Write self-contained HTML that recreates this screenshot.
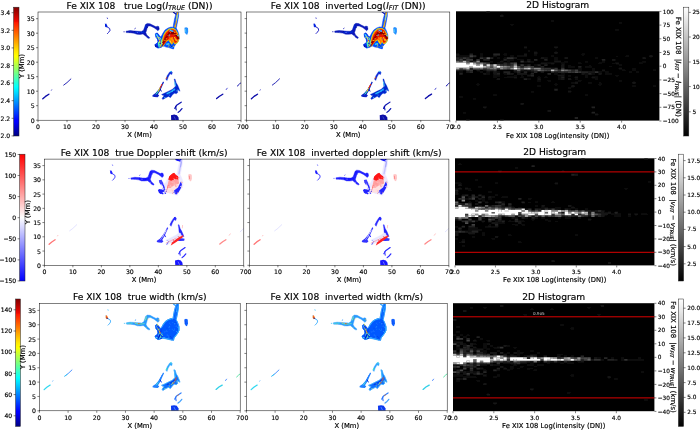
<!DOCTYPE html>
<html lang="en"><head><meta charset="utf-8"><title>Fe XIX 108 inversion comparison</title>
<style>html,body{margin:0;padding:0;background:#fff;overflow:hidden}svg{display:block}text{font-family:"DejaVu Sans", "Liberation Sans", sans-serif;white-space:pre;stroke:#000;stroke-width:0.16px}</style>
</head><body>
<svg width="700" height="430" viewBox="0 0 700 430">
<defs>
<linearGradient id="jet" x1="0" y1="1" x2="0" y2="0">
<stop offset="0" stop-color="#000080"/>
<stop offset="0.11" stop-color="#0000ff"/>
<stop offset="0.12" stop-color="#0000ff"/>
<stop offset="0.34" stop-color="#00ddff"/>
<stop offset="0.38" stop-color="#00ffff"/>
<stop offset="0.5" stop-color="#7dff7a"/>
<stop offset="0.62" stop-color="#ffff00"/>
<stop offset="0.66" stop-color="#ffe600"/>
<stop offset="0.88" stop-color="#ff1a00"/>
<stop offset="0.89" stop-color="#f10800"/>
<stop offset="1" stop-color="#800000"/>
</linearGradient>
<linearGradient id="bwr" x1="0" y1="1" x2="0" y2="0">
<stop offset="0" stop-color="#0000ff"/>
<stop offset="0.5" stop-color="#ffffff"/>
<stop offset="1" stop-color="#ff0000"/>
</linearGradient>
<linearGradient id="gray" x1="0" y1="1" x2="0" y2="0">
<stop offset="0" stop-color="#000000"/>
<stop offset="1" stop-color="#ffffff"/>
</linearGradient>
<filter id="hsoft" x="-2%" y="-2%" width="104%" height="104%"><feGaussianBlur stdDeviation="0.35"/></filter>
<filter id="soft" x="-5%" y="-5%" width="110%" height="110%"><feGaussianBlur stdDeviation="0.32"/></filter>
</defs>
<rect width="700" height="430" fill="#fff"/>
<g id="row1">
<rect x="13.6" y="7.2" width="5.4" height="128.8" fill="url(#jet)" stroke="#222" stroke-width="0.5"/>
<line x1="11.6" y1="12.7" x2="13.6" y2="12.7" stroke="#000" stroke-width="0.5"/>
<text x="10.2" y="14.9" font-size="6.05" text-anchor="end" fill="#000">3.4</text>
<line x1="11.6" y1="30.3" x2="13.6" y2="30.3" stroke="#000" stroke-width="0.5"/>
<text x="10.2" y="32.5" font-size="6.05" text-anchor="end" fill="#000">3.2</text>
<line x1="11.6" y1="47.9" x2="13.6" y2="47.9" stroke="#000" stroke-width="0.5"/>
<text x="10.2" y="50.1" font-size="6.05" text-anchor="end" fill="#000">3.0</text>
<line x1="11.6" y1="65.5" x2="13.6" y2="65.5" stroke="#000" stroke-width="0.5"/>
<text x="10.2" y="67.7" font-size="6.05" text-anchor="end" fill="#000">2.8</text>
<line x1="11.6" y1="83.1" x2="13.6" y2="83.1" stroke="#000" stroke-width="0.5"/>
<text x="10.2" y="85.3" font-size="6.05" text-anchor="end" fill="#000">2.6</text>
<line x1="11.6" y1="100.7" x2="13.6" y2="100.7" stroke="#000" stroke-width="0.5"/>
<text x="10.2" y="102.9" font-size="6.05" text-anchor="end" fill="#000">2.4</text>
<line x1="11.6" y1="118.3" x2="13.6" y2="118.3" stroke="#000" stroke-width="0.5"/>
<text x="10.2" y="120.5" font-size="6.05" text-anchor="end" fill="#000">2.2</text>
<line x1="11.6" y1="135.9" x2="13.6" y2="135.9" stroke="#000" stroke-width="0.5"/>
<text x="10.2" y="138.1" font-size="6.05" text-anchor="end" fill="#000">2.0</text>
<rect x="38" y="12" width="203" height="108.2" fill="#fff"/>
<svg x="38" y="12" width="203" height="108.2" viewBox="38 12 203 108.2" overflow="hidden">
<g filter="url(#soft)">
<polyline points="42.8,98.8 45.5,96.4 48.9,94.2" fill="none" stroke="#0808a8" stroke-width="1.3" stroke-linecap="round" stroke-linejoin="round"/>
<polyline points="51.4,90.3 51.7,89.8" fill="none" stroke="#3030c0" stroke-width="0.8" stroke-linecap="round" stroke-linejoin="round"/>
<polyline points="63.7,85.1 67,82.6 70.9,78.9" fill="none" stroke="#0808a8" stroke-width="0.85" stroke-linecap="round" stroke-linejoin="round"/>
<polyline points="105.4,24.2 106.6,26.6 109.6,28.4 110,30.4 108.6,32.4 107.4,33.6" fill="none" stroke="#1010c0" stroke-width="0.9" stroke-linecap="round" stroke-linejoin="round"/>
<polygon points="105,24 106.2,23.6 107.6,26.6 106.2,27.6 105,26.4" fill="#0020e0"/>
<polyline points="107.3,18 107.5,18.6" fill="none" stroke="#2020c0" stroke-width="0.8" stroke-linecap="round" stroke-linejoin="round"/>
<polyline points="216.6,98.6 219.5,96.2 222.8,94.2" fill="none" stroke="#0808a8" stroke-width="1.3" stroke-linecap="round" stroke-linejoin="round"/>
<polyline points="226.2,89.6 227.2,88.2" fill="none" stroke="#4040d0" stroke-width="0.9" stroke-linecap="round" stroke-linejoin="round"/>
<polyline points="237.4,86 239.4,84.2 241,82.6" fill="none" stroke="#0808a8" stroke-width="0.95" stroke-linecap="round" stroke-linejoin="round"/>
<polygon points="126,31.2 130,30.6 134,30.9 138,31.3 141.5,31.4 143.5,30.2 144.5,27.5 145.5,24.5 147.2,23.4 150,23.7 153,25.3 156,26.8 157.2,26.2 158.8,26.6 159.2,29.5 157.8,30.8 156.5,29.6 154,27.7 150.5,26 148.4,26 147.2,28 146.4,31 145.8,32.6 146.8,35 149.7,37.6 149.1,38.6 147,37.6 144.6,35.2 143,34 140,34.4 137,34.3 134,33.2 130,32.7 126.2,32.6" fill="#0818b8" stroke="#0818b8" stroke-width="0.4" stroke-linejoin="round"/>
<polyline points="123.8,31.8 124.4,31.8" fill="none" stroke="#3030c0" stroke-width="0.8" stroke-linecap="round" stroke-linejoin="round"/>
<polyline points="134.8,28.7 135.4,28.3" fill="none" stroke="#3030c0" stroke-width="0.9" stroke-linecap="round" stroke-linejoin="round"/>
<polyline points="135,32 140,32.6 144,32" fill="none" stroke="#0030e8" stroke-width="0.9" stroke-linecap="round" stroke-linejoin="round"/>
<polyline points="145,28.5 146.2,25.2" fill="none" stroke="#0028e0" stroke-width="0.9" stroke-linecap="round" stroke-linejoin="round"/>
<polygon points="176.5,12.5 178.6,12.5 178.6,16 177.7,21 176.7,26 176.2,28 177.7,31 179.1,35 179.1,39 177.6,42 175.6,44.5 174.1,46.5 173.6,49 171.5,48.5 169,47.6 166,47.1 164,46.1 162,46.6 160,47.6 158,48.1 155.5,46.6 155,44.6 156.5,43.6 158,42.1 157.5,39.1 156,37.1 155.5,34.1 157,33.1 158.5,35.1 160,37.1 161.5,36.1 163,33.1 165,30.1 168,28.1 171,27 173,27.4 173.6,24 174.5,19 175.6,15" fill="#0048ff" stroke="#0048ff" stroke-width="0.5" stroke-linejoin="round"/>
<polyline points="173.5,12.2 174.8,13.2 176.2,14.2" fill="none" stroke="#0010c0" stroke-width="1.2" stroke-linecap="round" stroke-linejoin="round"/>
<polygon points="160.42,46.47 161.91,39.58 163.4,34.74 165.26,31.4 168.79,28.42 173.44,28.05 176.05,29.72 177.91,33.07 179.4,36.98 179.02,41.07 177.16,43.49 174.74,44.42 173.26,42.19 171.95,44.98 169.91,43.12 168.6,40.33 166.37,42.19 164.14,45.35 162.09,47.02" fill="#c8e820"/>
<polygon points="161.16,45.72 162.65,39.77 164.05,35.12 165.91,31.95 169.16,29.16 173.26,28.7 175.58,30.09 177.44,33.35 178.93,37.07 178.56,40.7 176.88,42.93 174.74,43.77 173.35,41.44 171.95,44.23 170.09,42.47 168.7,39.67 166.37,41.53 164.05,44.79 162.19,46.37" fill="#ff7800"/>
<polygon points="161.91,44.98 163.4,39.95 164.7,35.49 166.56,32.51 169.35,29.91 173.07,29.44 175.12,30.65 176.79,33.63 178.19,37.16 177.91,40.33 176.42,42.19 174.93,42.74 173.63,40.33 172.33,37.91 170.65,37.53 168.98,38.84 166.74,40.7 164.51,44.05 162.65,45.72" fill="#e81400"/>
<polyline points="169.07,33.35 173.26,33.07 176.51,35.12 178.28,38.28" fill="none" stroke="#840000" stroke-width="2" stroke-linecap="round" stroke-linejoin="round"/>
<polyline points="162.09,44.79 164.88,39.77 167.86,34.93 169.91,33.26" fill="none" stroke="#980000" stroke-width="2" stroke-linecap="round" stroke-linejoin="round"/>
<polyline points="170.09,30.09 172.7,31.4" fill="none" stroke="#40c8ff" stroke-width="1.3" stroke-linecap="round" stroke-linejoin="round"/>
<polyline points="172.14,30.65 172.88,31.02" fill="none" stroke="#0050ff" stroke-width="1" stroke-linecap="round" stroke-linejoin="round"/>
<polyline points="171.58,38.37 173.44,41.44" fill="none" stroke="#ff9800" stroke-width="1.6" stroke-linecap="round" stroke-linejoin="round"/>
<polyline points="174.93,37.91 176.23,40.7" fill="none" stroke="#ffb000" stroke-width="1.2" stroke-linecap="round" stroke-linejoin="round"/>
<polyline points="170,40.7 171.21,43.12" fill="none" stroke="#ffe820" stroke-width="1" stroke-linecap="round" stroke-linejoin="round"/>
<polygon points="155.2,33.8 157.2,32.8 159,34.8 160.4,37.2 161.8,38 162,46.6 160,47.6 158,48.1 155.5,46.6 155,44.6 156.6,43.6 158,42 157.4,39.2 155.8,37.2" fill="#0838f0" stroke="#0838f0" stroke-width="0.3" stroke-linejoin="round"/>
<polyline points="156.8,34.8 158.8,38 159.8,41 159.2,45" fill="none" stroke="#38c8ff" stroke-width="1.3" stroke-linecap="round" stroke-linejoin="round"/>
<polyline points="157.5,36.5 159.2,39.5 160.2,42.5" fill="none" stroke="#ffe040" stroke-width="0.8" stroke-linecap="round" stroke-linejoin="round"/>
<polyline points="159.6,40.2 160,41" fill="none" stroke="#ff3000" stroke-width="0.8" stroke-linecap="round" stroke-linejoin="round"/>
<polyline points="156,46 158.5,47.2" fill="none" stroke="#0020d0" stroke-width="1.4" stroke-linecap="round" stroke-linejoin="round"/>
<polyline points="160,44 161.2,46.5" fill="none" stroke="#ffd000" stroke-width="1" stroke-linecap="round" stroke-linejoin="round"/>
<polyline points="155.2,45 155.8,46.8" fill="none" stroke="#0010a0" stroke-width="0.9" stroke-linecap="round" stroke-linejoin="round"/>
<polyline points="158.4,43 159.2,47.2" fill="none" stroke="#40ffc0" stroke-width="1.1" stroke-linecap="round" stroke-linejoin="round"/>
<polyline points="160.4,38 161.6,41 161.4,45.2" fill="none" stroke="#60f0a0" stroke-width="1" stroke-linecap="round" stroke-linejoin="round"/>
<polyline points="156.2,34.2 157,36" fill="none" stroke="#30d0ff" stroke-width="1" stroke-linecap="round" stroke-linejoin="round"/>
<polygon points="163.95,45.91 166.37,42.37 168.6,40.88 170,43.12 171.95,45.16 173.81,44.6 174.37,45.91 173.26,49.07 170.47,47.3 167.67,46.84 164.88,45.26" fill="#0050ff"/>
<polyline points="166.74,44.6 168.79,43.67" fill="none" stroke="#30c8ff" stroke-width="1.3" stroke-linecap="round" stroke-linejoin="round"/>
<polyline points="170.65,46.47 172.33,47.4" fill="none" stroke="#20a0ff" stroke-width="1" stroke-linecap="round" stroke-linejoin="round"/>
<polyline points="175,27 176,22 177,17 177.6,13" fill="none" stroke="#ffb000" stroke-width="1.5" stroke-linecap="round" stroke-linejoin="round"/>
<polyline points="176.6,20 177.4,15" fill="none" stroke="#60e0ff" stroke-width="0.9" stroke-linecap="round" stroke-linejoin="round"/>
<polyline points="174.8,25 175.6,20" fill="none" stroke="#2060ff" stroke-width="0.8" stroke-linecap="round" stroke-linejoin="round"/>
<polygon points="184.5,27.8 186.2,27.2 188,28 188.2,32 187.2,34.8 186,34.2 184.8,32.5" fill="#2890ff"/>
<polyline points="185.5,29.5 185.8,32" fill="none" stroke="#50e0ff" stroke-width="0.7" stroke-linecap="round" stroke-linejoin="round"/>
<polygon points="152.54,95.22 155.61,93.05 158.81,89.21 161.37,84.72 163.03,81.52 164.06,82.16 162.27,86.01 160.35,90.49 157.91,94.33 159.19,95.61 157.66,97.27 154.33,97.02 152.41,96.38" fill="#0820c8"/>
<polyline points="156.25,94.07 158.43,91.13" fill="none" stroke="#40ffb0" stroke-width="1" stroke-linecap="round" stroke-linejoin="round"/>
<polyline points="158.43,91.13 159.96,88.18" fill="none" stroke="#ffe000" stroke-width="1" stroke-linecap="round" stroke-linejoin="round"/>
<polyline points="160.22,87.67 162.01,84.34" fill="none" stroke="#ff3000" stroke-width="1" stroke-linecap="round" stroke-linejoin="round"/>
<polyline points="160.22,89.21 161.24,91.13" fill="none" stroke="#0010b0" stroke-width="1" stroke-linecap="round" stroke-linejoin="round"/>
<polygon points="165.85,79.22 167.13,75.76 169.69,71.92 171.23,71.02 172.38,72.56 171.74,74.61 170.08,73.84 168.28,77.04 167,80.5" fill="#0828d8" stroke="#0828d8" stroke-width="0.35" stroke-linejoin="round"/>
<polyline points="170.46,71.54 171.23,71.79" fill="none" stroke="#40e0ff" stroke-width="1" stroke-linecap="round" stroke-linejoin="round"/>
<polyline points="166.24,78.45 166.75,77.43" fill="none" stroke="#ff5000" stroke-width="0.8" stroke-linecap="round" stroke-linejoin="round"/>
<polygon points="174.17,78.96 175.07,78.96 176.22,82.8 177.76,85.36 179.42,89.21 180.06,91.25 178.78,90.61 177.5,89.33 177.76,92.54 176.22,93.82 174.3,93.18 172.38,95.1 170.46,97.66 168.54,96.38 165.98,97.66 162.78,99.58 162.01,98.3 164.06,95.74 161.5,94.46 164.7,93.05 168.54,91.13 172.38,89.21 175.07,86.77 174.81,82.8" fill="#0628d0" stroke="#0628d0" stroke-width="0.3" stroke-linejoin="round"/>
<polyline points="167.13,93.69 170.97,91.77 174.56,89.21" fill="none" stroke="#20b8ff" stroke-width="1.3" stroke-linecap="round" stroke-linejoin="round"/>
<polyline points="174.81,82.16 175.58,86.01" fill="none" stroke="#40e8ff" stroke-width="0.8" stroke-linecap="round" stroke-linejoin="round"/>
<polyline points="174.81,108.41 176.61,105.34 181.22,102.14" fill="none" stroke="#0810b0" stroke-width="1.2" stroke-linecap="round" stroke-linejoin="round"/>
<polyline points="175.58,106.36 176.22,109.95" fill="none" stroke="#0810b0" stroke-width="1.1" stroke-linecap="round" stroke-linejoin="round"/>
<polyline points="178.14,112.38 180.19,110.72 181.98,108.54" fill="none" stroke="#0810b0" stroke-width="1.2" stroke-linecap="round" stroke-linejoin="round"/>
<polygon points="170.97,115.2 174.17,114.56 176.86,115.2 178.53,117.5 178.78,120.19 171.23,120.19" fill="#0810a8"/>
<polyline points="174.17,116.73 175.45,119.3" fill="none" stroke="#4050d0" stroke-width="0.8" stroke-linecap="round" stroke-linejoin="round"/>
<polygon points="172.5,30.62 173.28,30.62 173.28,31.51 172.5,31.51" fill="#50d8ff"/>
<polygon points="165.82,38.41 167.07,38.41 167.07,39.1 165.82,39.1" fill="#ffb000"/>
<polygon points="165.54,39.66 166.62,39.66 166.62,40.46 165.54,40.46" fill="#ffb000"/>
<polygon points="175.88,34.16 176.94,34.16 176.94,35.04 175.88,35.04" fill="#ffe020"/>
<polygon points="173.5,38.63 174.35,38.63 174.35,39.57 173.5,39.57" fill="#50d8ff"/>
<polygon points="168.87,34.56 170.17,34.56 170.17,35.35 168.87,35.35" fill="#50d8ff"/>
<polygon points="174.6,30.77 175.65,30.77 175.65,31.8 174.6,31.8" fill="#a00000"/>
<polygon points="173.78,34.13 174.58,34.13 174.58,34.95 173.78,34.95" fill="#ffb000"/>
<polygon points="174.23,31.92 175.22,31.92 175.22,32.98 174.23,32.98" fill="#ff6000"/>
<polygon points="167.44,35.14 168.53,35.14 168.53,35.98 167.44,35.98" fill="#ff6000"/>
<polygon points="175.29,34.07 176.57,34.07 176.57,34.86 175.29,34.86" fill="#ff6000"/>
<polygon points="177.22,35.23 178.01,35.23 178.01,35.89 177.22,35.89" fill="#50d8ff"/>
<polygon points="174.41,31.55 175.38,31.55 175.38,32.59 174.41,32.59" fill="#ffe020"/>
<polygon points="169.99,32.15 171.06,32.15 171.06,33.18 169.99,33.18" fill="#ff6000"/>
<polygon points="166.44,36.2 167.59,36.2 167.59,37 166.44,37" fill="#a00000"/>
<polygon points="164.37,40.16 165.4,40.16 165.4,41.06 164.37,41.06" fill="#ffb000"/>
<polygon points="168.73,35.45 169.65,35.45 169.65,36.14 168.73,36.14" fill="#50d8ff"/>
<polygon points="177.4,40.52 178.37,40.52 178.37,41.33 177.4,41.33" fill="#50d8ff"/>
<polygon points="163.59,39.77 164.43,39.77 164.43,40.84 163.59,40.84" fill="#ffb000"/>
<polygon points="169.08,31.23 169.83,31.23 169.83,31.86 169.08,31.86" fill="#50d8ff"/>
<polygon points="176.14,39.44 177.26,39.44 177.26,40.5 176.14,40.5" fill="#ffe020"/>
<polygon points="171.71,37.16 172.97,37.16 172.97,38.24 171.71,38.24" fill="#ffb000"/>
<polygon points="169.49,37.32 170.3,37.32 170.3,38.29 169.49,38.29" fill="#ffb000"/>
<polygon points="173.96,37.23 175,37.23 175,37.96 173.96,37.96" fill="#ffe020"/>
<polygon points="177.4,35.33 178.7,35.33 178.7,36.3 177.4,36.3" fill="#50d8ff"/>
<polygon points="166.76,39.91 167.92,39.91 167.92,40.66 166.76,40.66" fill="#ffb000"/>
<polygon points="168.67,45.47 169.67,45.47 169.67,46.48 168.67,46.48" fill="#ffd000"/>
<polygon points="168.91,45.91 169.69,45.91 169.69,46.68 168.91,46.68" fill="#0020c0"/>
<polygon points="170.77,45.92 171.88,45.92 171.88,46.93 170.77,46.93" fill="#0020c0"/>
<polygon points="173.12,45.79 174.04,45.79 174.04,46.69 173.12,46.69" fill="#ffd000"/>
<polygon points="168.19,45.4 169.36,45.4 169.36,46.17 168.19,46.17" fill="#30c8ff"/>
<polygon points="166.35,43.25 167.42,43.25 167.42,43.93 166.35,43.93" fill="#30c8ff"/>
<polygon points="167.87,46.69 168.63,46.69 168.63,47.6 167.87,47.6" fill="#ffd000"/>
<polygon points="169.78,44.55 171.12,44.55 171.12,45.52 169.78,45.52" fill="#0020c0"/>
<polygon points="168.32,44.03 169.31,44.03 169.31,44.75 168.32,44.75" fill="#ffd000"/>
<polygon points="167.38,43.31 168.15,43.31 168.15,44.03 167.38,44.03" fill="#30c8ff"/>
<polygon points="159.79,45.79 160.92,45.79 160.92,46.72 159.79,46.72" fill="#ffe040"/>
<polygon points="161.08,42.61 161.89,42.61 161.89,43.48 161.08,43.48" fill="#ffe040"/>
<polygon points="156.5,37.31 157.3,37.31 157.3,38.25 156.5,38.25" fill="#80ff80"/>
<polygon points="160.56,46.39 161.8,46.39 161.8,47.36 160.56,47.36" fill="#0018b0"/>
<polygon points="161.65,44.94 162.59,44.94 162.59,45.68 161.65,45.68" fill="#0018b0"/>
<polygon points="161.29,41.21 162.43,41.21 162.43,42.24 161.29,42.24" fill="#80ff80"/>
<polygon points="159.47,42.83 160.71,42.83 160.71,43.81 159.47,43.81" fill="#0018b0"/>
<polygon points="161.9,43.37 162.9,43.37 162.9,44.33 161.9,44.33" fill="#ffe040"/>
<polygon points="158.75,37.29 159.8,37.29 159.8,38.03 158.75,38.03" fill="#ffe040"/>
<polygon points="158.22,42.06 159.5,42.06 159.5,42.95 158.22,42.95" fill="#80ff80"/>
<polygon points="158.85,41.45 160.01,41.45 160.01,42.14 158.85,42.14" fill="#ffe040"/>
<polygon points="158.01,42.43 158.98,42.43 158.98,43.38 158.01,43.38" fill="#80ff80"/>
<polygon points="157.89,27.8 158.5,27.8 158.5,28.3 157.89,28.3" fill="#000890"/>
<polygon points="134.38,31.02 135.25,31.02 135.25,31.75 134.38,31.75" fill="#000890"/>
<polygon points="150.05,25.49 150.67,25.49 150.67,26.26 150.05,26.26" fill="#2040e0"/>
<polygon points="140.37,32.09 140.95,32.09 140.95,32.75 140.37,32.75" fill="#000890"/>
<polygon points="129.12,32.14 129.85,32.14 129.85,32.65 129.12,32.65" fill="#000890"/>
<polygon points="130.59,30.77 131.24,30.77 131.24,31.61 130.59,31.61" fill="#1030d0"/>
<polygon points="158.31,28.04 159.27,28.04 159.27,28.55 158.31,28.55" fill="#000890"/>
<polygon points="147.13,27.07 147.97,27.07 147.97,27.84 147.13,27.84" fill="#000890"/>
<polygon points="145.47,35.93 146.3,35.93 146.3,36.6 145.47,36.6" fill="#ffffff" opacity="0.7"/>
<polygon points="136.91,32.19 137.77,32.19 137.77,32.81 136.91,32.81" fill="#ffffff" opacity="0.7"/>
<polygon points="168.71,94.08 169.48,94.08 169.48,94.61 168.71,94.61" fill="#20b0ff"/>
<polygon points="168.85,92.53 169.69,92.53 169.69,93.2 168.85,93.2" fill="#40d8ff"/>
<polygon points="169.04,94.93 170,94.93 170,95.56 169.04,95.56" fill="#20b0ff"/>
<polygon points="168.99,94.12 169.76,94.12 169.76,94.72 168.99,94.72" fill="#1040e0"/>
<polygon points="164.34,97.07 165.37,97.07 165.37,97.88 164.34,97.88" fill="#40d8ff"/>
<polygon points="172.07,91.1 172.74,91.1 172.74,91.77 172.07,91.77" fill="#40d8ff"/>
<polygon points="162.64,94.93 163.23,94.93 163.23,95.52 162.64,95.52" fill="#0010a0"/>
<polygon points="176.42,90.55 177.29,90.55 177.29,91.28 176.42,91.28" fill="#40d8ff"/>
<polygon points="178.77,89.54 179.45,89.54 179.45,90.19 178.77,90.19" fill="#20b0ff"/>
<polygon points="173.82,90.39 174.81,90.39 174.81,91.09 173.82,91.09" fill="#20b0ff"/>
</g>
</svg>
<rect x="38" y="12" width="203" height="108.2" fill="none" stroke="#000" stroke-width="0.5"/>
<line x1="38" y1="120.2" x2="38" y2="122.2" stroke="#000" stroke-width="0.5"/>
<text x="38" y="129" font-size="6.2" text-anchor="middle" fill="#000">0</text>
<line x1="67" y1="120.2" x2="67" y2="122.2" stroke="#000" stroke-width="0.5"/>
<text x="67" y="129" font-size="6.2" text-anchor="middle" fill="#000">10</text>
<line x1="96" y1="120.2" x2="96" y2="122.2" stroke="#000" stroke-width="0.5"/>
<text x="96" y="129" font-size="6.2" text-anchor="middle" fill="#000">20</text>
<line x1="125" y1="120.2" x2="125" y2="122.2" stroke="#000" stroke-width="0.5"/>
<text x="125" y="129" font-size="6.2" text-anchor="middle" fill="#000">30</text>
<line x1="154" y1="120.2" x2="154" y2="122.2" stroke="#000" stroke-width="0.5"/>
<text x="154" y="129" font-size="6.2" text-anchor="middle" fill="#000">40</text>
<line x1="183" y1="120.2" x2="183" y2="122.2" stroke="#000" stroke-width="0.5"/>
<text x="183" y="129" font-size="6.2" text-anchor="middle" fill="#000">50</text>
<line x1="212" y1="120.2" x2="212" y2="122.2" stroke="#000" stroke-width="0.5"/>
<text x="212" y="129" font-size="6.2" text-anchor="middle" fill="#000">60</text>
<line x1="241" y1="120.2" x2="241" y2="122.2" stroke="#000" stroke-width="0.5"/>
<text x="241" y="129" font-size="6.2" text-anchor="middle" fill="#000">70</text>
<line x1="36" y1="120.2" x2="38" y2="120.2" stroke="#000" stroke-width="0.5"/>
<text x="34.6" y="122.65" font-size="6.2" text-anchor="end" fill="#000">0</text>
<line x1="36" y1="105.7" x2="38" y2="105.7" stroke="#000" stroke-width="0.5"/>
<text x="34.6" y="108.15" font-size="6.2" text-anchor="end" fill="#000">5</text>
<line x1="36" y1="91.2" x2="38" y2="91.2" stroke="#000" stroke-width="0.5"/>
<text x="34.6" y="93.65" font-size="6.2" text-anchor="end" fill="#000">10</text>
<line x1="36" y1="76.7" x2="38" y2="76.7" stroke="#000" stroke-width="0.5"/>
<text x="34.6" y="79.15" font-size="6.2" text-anchor="end" fill="#000">15</text>
<line x1="36" y1="62.2" x2="38" y2="62.2" stroke="#000" stroke-width="0.5"/>
<text x="34.6" y="64.65" font-size="6.2" text-anchor="end" fill="#000">20</text>
<line x1="36" y1="47.7" x2="38" y2="47.7" stroke="#000" stroke-width="0.5"/>
<text x="34.6" y="50.15" font-size="6.2" text-anchor="end" fill="#000">25</text>
<line x1="36" y1="33.2" x2="38" y2="33.2" stroke="#000" stroke-width="0.5"/>
<text x="34.6" y="35.65" font-size="6.2" text-anchor="end" fill="#000">30</text>
<line x1="36" y1="18.7" x2="38" y2="18.7" stroke="#000" stroke-width="0.5"/>
<text x="34.6" y="21.15" font-size="6.2" text-anchor="end" fill="#000">35</text>
<text x="139.5" y="137.2" font-size="6.8" text-anchor="middle" fill="#000">X (Mm)</text>
<text x="139.5" y="8.6" font-size="9.15" text-anchor="middle" fill="#000">Fe XIX 108   true Log(<tspan font-style="italic">I</tspan><tspan font-style="italic" font-size="6.3" dy="1.6">TRUE</tspan><tspan dy="-1.6"> (DN))</tspan></text>
<text transform="translate(23.5 66.1) rotate(-90)" font-size="6.8" text-anchor="middle" fill="#000">Y (Mm)</text>
<rect x="246.6" y="12" width="203.2" height="108.2" fill="#fff"/>
<svg x="246.6" y="12" width="203.2" height="108.2" viewBox="246.6 12 203.2 108.2" overflow="hidden">
<g filter="url(#soft)">
<polyline points="251.4,98.78 254.11,96.38 257.51,94.17" fill="none" stroke="#0808a8" stroke-width="1.3" stroke-linecap="round" stroke-linejoin="round"/>
<polyline points="260.01,90.27 260.31,89.77" fill="none" stroke="#3030c0" stroke-width="0.8" stroke-linecap="round" stroke-linejoin="round"/>
<polyline points="272.33,85.07 275.63,82.56 279.53,78.86" fill="none" stroke="#0808a8" stroke-width="0.85" stroke-linecap="round" stroke-linejoin="round"/>
<polyline points="314.07,24.11 315.27,26.51 318.27,28.31 318.67,30.31 317.27,32.31 316.07,33.51" fill="none" stroke="#1010c0" stroke-width="0.9" stroke-linecap="round" stroke-linejoin="round"/>
<polygon points="313.67,23.91 314.87,23.5 316.27,26.51 314.87,27.51 313.67,26.31" fill="#0020e0"/>
<polyline points="315.97,17.9 316.17,18.5" fill="none" stroke="#2020c0" stroke-width="0.8" stroke-linecap="round" stroke-linejoin="round"/>
<polyline points="425.38,98.58 428.28,96.18 431.58,94.17" fill="none" stroke="#0808a8" stroke-width="1.3" stroke-linecap="round" stroke-linejoin="round"/>
<polyline points="434.99,89.57 435.99,88.17" fill="none" stroke="#4040d0" stroke-width="0.9" stroke-linecap="round" stroke-linejoin="round"/>
<polyline points="446.2,85.97 448.2,84.16 449.8,82.56" fill="none" stroke="#0808a8" stroke-width="0.95" stroke-linecap="round" stroke-linejoin="round"/>
<polygon points="334.69,31.11 338.69,30.51 342.69,30.81 346.7,31.21 350.2,31.31 352.2,30.11 353.2,27.41 354.21,24.41 355.91,23.3 358.71,23.6 361.71,25.21 364.72,26.71 365.92,26.11 367.52,26.51 367.92,29.41 366.52,30.71 365.22,29.51 362.71,27.61 359.21,25.91 357.11,25.91 355.91,27.91 355.11,30.91 354.51,32.51 355.51,34.92 358.41,37.52 357.81,38.52 355.71,37.52 353.31,35.12 351.7,33.92 348.7,34.32 345.7,34.22 342.69,33.11 338.69,32.61 334.89,32.51" fill="#0818b8" stroke="#0818b8" stroke-width="0.4" stroke-linejoin="round"/>
<polyline points="332.48,31.71 333.09,31.71" fill="none" stroke="#3030c0" stroke-width="0.8" stroke-linecap="round" stroke-linejoin="round"/>
<polyline points="343.5,28.61 344.1,28.21" fill="none" stroke="#3030c0" stroke-width="0.9" stroke-linecap="round" stroke-linejoin="round"/>
<polyline points="343.7,31.91 348.7,32.51 352.7,31.91" fill="none" stroke="#0030e8" stroke-width="0.9" stroke-linecap="round" stroke-linejoin="round"/>
<polyline points="353.71,28.41 354.91,25.11" fill="none" stroke="#0028e0" stroke-width="0.9" stroke-linecap="round" stroke-linejoin="round"/>
<polygon points="385.24,12.39 387.34,12.39 387.34,15.9 386.44,20.9 385.44,25.91 384.94,27.91 386.44,30.91 387.84,34.92 387.84,38.92 386.34,41.92 384.34,44.43 382.83,46.43 382.33,48.93 380.23,48.43 377.73,47.53 374.73,47.03 372.72,46.03 370.72,46.53 368.72,47.53 366.72,48.03 364.22,46.53 363.72,44.53 365.22,43.52 366.72,42.02 366.22,39.02 364.72,37.02 364.22,34.02 365.72,33.01 367.22,35.02 368.72,37.02 370.22,36.02 371.72,33.01 373.73,30.01 376.73,28.01 379.73,26.91 381.73,27.31 382.33,23.91 383.23,18.9 384.34,14.9" fill="#0048ff" stroke="#0048ff" stroke-width="0.5" stroke-linejoin="round"/>
<polyline points="382.23,12.09 383.53,13.09 384.94,14.1" fill="none" stroke="#0010c0" stroke-width="1.2" stroke-linecap="round" stroke-linejoin="round"/>
<polygon points="369.14,46.39 370.63,39.5 372.12,34.66 373.98,31.31 377.52,28.33 382.18,27.96 384.78,29.63 386.64,32.98 388.13,36.89 387.76,40.99 385.9,43.41 383.48,44.34 381.99,42.11 380.69,44.9 378.64,43.04 377.33,40.25 375.1,42.11 372.86,45.28 370.82,46.95" fill="#c8e820"/>
<polygon points="369.88,45.65 371.37,39.69 372.77,35.03 374.63,31.87 377.89,29.07 381.99,28.61 384.32,30 386.18,33.26 387.67,36.99 387.3,40.62 385.62,42.85 383.48,43.69 382.08,41.36 380.69,44.16 378.82,42.39 377.43,39.6 375.1,41.46 372.77,44.72 370.91,46.3" fill="#ff7800"/>
<polygon points="370.63,44.9 372.12,39.87 373.42,35.4 375.28,32.43 378.08,29.82 381.8,29.35 383.85,30.56 385.53,33.54 386.92,37.08 386.64,40.25 385.15,42.11 383.67,42.67 382.36,40.25 381.06,37.83 379.38,37.45 377.71,38.76 375.47,40.62 373.24,43.97 371.37,45.65" fill="#e81400"/>
<polyline points="377.8,33.26 381.99,32.98 385.25,35.03 387.02,38.2" fill="none" stroke="#840000" stroke-width="2" stroke-linecap="round" stroke-linejoin="round"/>
<polyline points="370.82,44.72 373.61,39.69 376.59,34.85 378.64,33.17" fill="none" stroke="#980000" stroke-width="2" stroke-linecap="round" stroke-linejoin="round"/>
<polyline points="378.82,30 381.43,31.31" fill="none" stroke="#40c8ff" stroke-width="1.3" stroke-linecap="round" stroke-linejoin="round"/>
<polyline points="380.87,30.56 381.62,30.94" fill="none" stroke="#0050ff" stroke-width="1" stroke-linecap="round" stroke-linejoin="round"/>
<polyline points="380.31,38.29 382.18,41.36" fill="none" stroke="#ff9800" stroke-width="1.6" stroke-linecap="round" stroke-linejoin="round"/>
<polyline points="383.67,37.83 384.97,40.62" fill="none" stroke="#ffb000" stroke-width="1.2" stroke-linecap="round" stroke-linejoin="round"/>
<polyline points="378.73,40.62 379.94,43.04" fill="none" stroke="#ffe820" stroke-width="1" stroke-linecap="round" stroke-linejoin="round"/>
<polygon points="363.92,33.71 365.92,32.71 367.72,34.72 369.12,37.12 370.52,37.92 370.72,46.53 368.72,47.53 366.72,48.03 364.22,46.53 363.72,44.53 365.32,43.52 366.72,41.92 366.12,39.12 364.52,37.12" fill="#0838f0" stroke="#0838f0" stroke-width="0.3" stroke-linejoin="round"/>
<polyline points="365.52,34.72 367.52,37.92 368.52,40.92 367.92,44.93" fill="none" stroke="#38c8ff" stroke-width="1.3" stroke-linecap="round" stroke-linejoin="round"/>
<polyline points="366.22,36.42 367.92,39.42 368.92,42.42" fill="none" stroke="#ffe040" stroke-width="0.8" stroke-linecap="round" stroke-linejoin="round"/>
<polyline points="368.32,40.12 368.72,40.92" fill="none" stroke="#ff3000" stroke-width="0.8" stroke-linecap="round" stroke-linejoin="round"/>
<polyline points="364.72,45.93 367.22,47.13" fill="none" stroke="#0020d0" stroke-width="1.4" stroke-linecap="round" stroke-linejoin="round"/>
<polyline points="368.72,43.92 369.92,46.43" fill="none" stroke="#ffd000" stroke-width="1" stroke-linecap="round" stroke-linejoin="round"/>
<polyline points="363.92,44.93 364.52,46.73" fill="none" stroke="#0010a0" stroke-width="0.9" stroke-linecap="round" stroke-linejoin="round"/>
<polyline points="367.12,42.92 367.92,47.13" fill="none" stroke="#40ffc0" stroke-width="1.1" stroke-linecap="round" stroke-linejoin="round"/>
<polyline points="369.12,37.92 370.32,40.92 370.12,45.13" fill="none" stroke="#60f0a0" stroke-width="1" stroke-linecap="round" stroke-linejoin="round"/>
<polyline points="364.92,34.12 365.72,35.92" fill="none" stroke="#30d0ff" stroke-width="1" stroke-linecap="round" stroke-linejoin="round"/>
<polygon points="372.68,45.83 375.1,42.3 377.33,40.81 378.73,43.04 380.69,45.09 382.55,44.53 383.11,45.83 381.99,49 379.2,47.23 376.4,46.76 373.61,45.18" fill="#0050ff"/>
<polyline points="375.47,44.53 377.52,43.6" fill="none" stroke="#30c8ff" stroke-width="1.3" stroke-linecap="round" stroke-linejoin="round"/>
<polyline points="379.38,46.39 381.06,47.32" fill="none" stroke="#20a0ff" stroke-width="1" stroke-linecap="round" stroke-linejoin="round"/>
<polyline points="383.73,26.91 384.74,21.9 385.74,16.9 386.34,12.89" fill="none" stroke="#ffb000" stroke-width="1.5" stroke-linecap="round" stroke-linejoin="round"/>
<polyline points="385.34,19.9 386.14,14.9" fill="none" stroke="#60e0ff" stroke-width="0.9" stroke-linecap="round" stroke-linejoin="round"/>
<polyline points="383.53,24.91 384.34,19.9" fill="none" stroke="#2060ff" stroke-width="0.8" stroke-linecap="round" stroke-linejoin="round"/>
<polygon points="393.24,27.71 394.95,27.11 396.75,27.91 396.95,31.91 395.95,34.72 394.75,34.12 393.54,32.41" fill="#2890ff"/>
<polyline points="394.25,29.41 394.55,31.91" fill="none" stroke="#50e0ff" stroke-width="0.7" stroke-linecap="round" stroke-linejoin="round"/>
<polygon points="361.25,95.2 364.32,93.02 367.53,89.18 370.09,84.69 371.76,81.49 372.78,82.13 370.99,85.97 369.07,90.46 366.63,94.3 367.91,95.58 366.37,97.25 363.04,96.99 361.12,96.35" fill="#0820c8"/>
<polyline points="364.96,94.05 367.14,91.1" fill="none" stroke="#40ffb0" stroke-width="1" stroke-linecap="round" stroke-linejoin="round"/>
<polyline points="367.14,91.1 368.68,88.15" fill="none" stroke="#ffe000" stroke-width="1" stroke-linecap="round" stroke-linejoin="round"/>
<polyline points="368.94,87.64 370.73,84.31" fill="none" stroke="#ff3000" stroke-width="1" stroke-linecap="round" stroke-linejoin="round"/>
<polyline points="368.94,89.18 369.96,91.1" fill="none" stroke="#0010b0" stroke-width="1" stroke-linecap="round" stroke-linejoin="round"/>
<polygon points="374.58,79.18 375.86,75.72 378.42,71.87 379.96,70.98 381.11,72.51 380.47,74.56 378.81,73.8 377.01,77 375.73,80.46" fill="#0828d8" stroke="#0828d8" stroke-width="0.35" stroke-linejoin="round"/>
<polyline points="379.19,71.49 379.96,71.74" fill="none" stroke="#40e0ff" stroke-width="1" stroke-linecap="round" stroke-linejoin="round"/>
<polyline points="374.96,78.41 375.47,77.38" fill="none" stroke="#ff5000" stroke-width="0.8" stroke-linecap="round" stroke-linejoin="round"/>
<polygon points="382.91,78.92 383.81,78.92 384.96,82.77 386.5,85.33 388.16,89.18 388.8,91.23 387.52,90.59 386.24,89.3 386.5,92.51 384.96,93.79 383.04,93.15 381.11,95.07 379.19,97.63 377.27,96.35 374.71,97.63 371.5,99.56 370.73,98.28 372.78,95.71 370.22,94.43 373.42,93.02 377.27,91.1 381.11,89.18 383.81,86.74 383.55,82.77" fill="#0628d0" stroke="#0628d0" stroke-width="0.3" stroke-linejoin="round"/>
<polyline points="375.86,93.66 379.7,91.74 383.29,89.18" fill="none" stroke="#20b8ff" stroke-width="1.3" stroke-linecap="round" stroke-linejoin="round"/>
<polyline points="383.55,82.13 384.32,85.97" fill="none" stroke="#40e8ff" stroke-width="0.8" stroke-linecap="round" stroke-linejoin="round"/>
<polyline points="383.55,108.4 385.34,105.32 389.96,102.12" fill="none" stroke="#0810b0" stroke-width="1.2" stroke-linecap="round" stroke-linejoin="round"/>
<polyline points="384.32,106.35 384.96,109.94" fill="none" stroke="#0810b0" stroke-width="1.1" stroke-linecap="round" stroke-linejoin="round"/>
<polyline points="386.88,112.37 388.93,110.71 390.73,108.53" fill="none" stroke="#0810b0" stroke-width="1.2" stroke-linecap="round" stroke-linejoin="round"/>
<polygon points="379.7,115.19 382.91,114.55 385.6,115.19 387.27,117.5 387.52,120.19 379.96,120.19" fill="#0810a8"/>
<polyline points="382.91,116.73 384.19,119.29" fill="none" stroke="#4050d0" stroke-width="0.8" stroke-linecap="round" stroke-linejoin="round"/>
<polygon points="381.24,30.53 382.02,30.53 382.02,31.43 381.24,31.43" fill="#50d8ff"/>
<polygon points="374.55,38.33 375.79,38.33 375.79,39.02 374.55,39.02" fill="#ffb000"/>
<polygon points="374.27,39.58 375.35,39.58 375.35,40.39 374.27,40.39" fill="#ffb000"/>
<polygon points="384.62,34.07 385.68,34.07 385.68,34.96 384.62,34.96" fill="#ffe020"/>
<polygon points="382.23,38.55 383.08,38.55 383.08,39.49 382.23,39.49" fill="#50d8ff"/>
<polygon points="377.6,34.47 378.9,34.47 378.9,35.26 377.6,35.26" fill="#50d8ff"/>
<polygon points="383.34,30.69 384.39,30.69 384.39,31.71 383.34,31.71" fill="#a00000"/>
<polygon points="382.52,34.04 383.31,34.04 383.31,34.86 382.52,34.86" fill="#ffb000"/>
<polygon points="382.97,31.83 383.95,31.83 383.95,32.89 382.97,32.89" fill="#ff6000"/>
<polygon points="376.17,35.06 377.26,35.06 377.26,35.89 376.17,35.89" fill="#ff6000"/>
<polygon points="384.02,33.99 385.3,33.99 385.3,34.78 384.02,34.78" fill="#ff6000"/>
<polygon points="385.96,35.14 386.75,35.14 386.75,35.8 385.96,35.8" fill="#50d8ff"/>
<polygon points="383.15,31.46 384.12,31.46 384.12,32.5 383.15,32.5" fill="#ffe020"/>
<polygon points="378.72,32.06 379.79,32.06 379.79,33.09 378.72,33.09" fill="#ff6000"/>
<polygon points="375.17,36.12 376.32,36.12 376.32,36.92 375.17,36.92" fill="#a00000"/>
<polygon points="373.09,40.08 374.12,40.08 374.12,40.98 373.09,40.98" fill="#ffb000"/>
<polygon points="377.46,35.37 378.38,35.37 378.38,36.06 377.46,36.06" fill="#50d8ff"/>
<polygon points="386.14,40.44 387.11,40.44 387.11,41.25 386.14,41.25" fill="#50d8ff"/>
<polygon points="372.32,39.69 373.16,39.69 373.16,40.76 372.32,40.76" fill="#ffb000"/>
<polygon points="377.81,31.14 378.56,31.14 378.56,31.77 377.81,31.77" fill="#50d8ff"/>
<polygon points="384.88,39.36 386,39.36 386,40.42 384.88,40.42" fill="#ffe020"/>
<polygon points="380.44,37.08 381.7,37.08 381.7,38.16 380.44,38.16" fill="#ffb000"/>
<polygon points="378.22,37.24 379.03,37.24 379.03,38.2 378.22,38.2" fill="#ffb000"/>
<polygon points="382.69,37.15 383.74,37.15 383.74,37.87 382.69,37.87" fill="#ffe020"/>
<polygon points="386.14,35.25 387.44,35.25 387.44,36.22 386.14,36.22" fill="#50d8ff"/>
<polygon points="375.49,39.83 376.65,39.83 376.65,40.58 375.49,40.58" fill="#ffb000"/>
<polygon points="377.4,45.39 378.4,45.39 378.4,46.41 377.4,46.41" fill="#ffd000"/>
<polygon points="377.64,45.84 378.42,45.84 378.42,46.6 377.64,46.6" fill="#0020c0"/>
<polygon points="379.5,45.85 380.61,45.85 380.61,46.85 379.5,46.85" fill="#0020c0"/>
<polygon points="381.85,45.72 382.78,45.72 382.78,46.62 381.85,46.62" fill="#ffd000"/>
<polygon points="376.92,45.32 378.09,45.32 378.09,46.1 376.92,46.1" fill="#30c8ff"/>
<polygon points="375.07,43.17 376.15,43.17 376.15,43.85 375.07,43.85" fill="#30c8ff"/>
<polygon points="376.59,46.61 377.36,46.61 377.36,47.53 376.59,47.53" fill="#ffd000"/>
<polygon points="378.51,44.47 379.85,44.47 379.85,45.45 378.51,45.45" fill="#0020c0"/>
<polygon points="377.05,43.95 378.04,43.95 378.04,44.68 377.05,44.68" fill="#ffd000"/>
<polygon points="376.11,43.23 376.88,43.23 376.88,43.96 376.11,43.96" fill="#30c8ff"/>
<polygon points="368.51,45.72 369.64,45.72 369.64,46.65 368.51,46.65" fill="#ffe040"/>
<polygon points="369.81,42.53 370.61,42.53 370.61,43.4 369.81,43.4" fill="#ffe040"/>
<polygon points="365.21,37.23 366.01,37.23 366.01,38.17 365.21,38.17" fill="#80ff80"/>
<polygon points="369.28,46.32 370.52,46.32 370.52,47.29 369.28,47.29" fill="#0018b0"/>
<polygon points="370.37,44.87 371.31,44.87 371.31,45.61 370.37,45.61" fill="#0018b0"/>
<polygon points="370.01,41.13 371.15,41.13 371.15,42.16 370.01,42.16" fill="#80ff80"/>
<polygon points="368.19,42.75 369.43,42.75 369.43,43.74 368.19,43.74" fill="#0018b0"/>
<polygon points="370.62,43.3 371.62,43.3 371.62,44.25 370.62,44.25" fill="#ffe040"/>
<polygon points="367.47,37.21 368.52,37.21 368.52,37.95 367.47,37.95" fill="#ffe040"/>
<polygon points="366.93,41.99 368.22,41.99 368.22,42.88 366.93,42.88" fill="#80ff80"/>
<polygon points="367.57,41.37 368.73,41.37 368.73,42.06 367.57,42.06" fill="#ffe040"/>
<polygon points="366.73,42.35 367.7,42.35 367.7,43.3 366.73,43.3" fill="#80ff80"/>
<polygon points="366.61,27.71 367.22,27.71 367.22,28.21 366.61,28.21" fill="#000890"/>
<polygon points="343.07,30.94 343.95,30.94 343.95,31.67 343.07,31.67" fill="#000890"/>
<polygon points="358.76,25.4 359.39,25.4 359.39,26.17 358.76,26.17" fill="#2040e0"/>
<polygon points="349.07,32 349.65,32 349.65,32.66 349.07,32.66" fill="#000890"/>
<polygon points="337.81,32.05 338.54,32.05 338.54,32.56 337.81,32.56" fill="#000890"/>
<polygon points="339.29,30.68 339.94,30.68 339.94,31.52 339.29,31.52" fill="#1030d0"/>
<polygon points="367.03,27.95 367.99,27.95 367.99,28.45 367.03,28.45" fill="#000890"/>
<polygon points="355.84,26.98 356.68,26.98 356.68,27.75 355.84,27.75" fill="#000890"/>
<polygon points="354.17,35.85 355.01,35.85 355.01,36.52 354.17,36.52" fill="#ffffff" opacity="0.7"/>
<polygon points="345.61,32.11 346.47,32.11 346.47,32.73 345.61,32.73" fill="#ffffff" opacity="0.7"/>
<polygon points="377.44,94.06 378.2,94.06 378.2,94.58 377.44,94.58" fill="#20b0ff"/>
<polygon points="377.58,92.51 378.42,92.51 378.42,93.17 377.58,93.17" fill="#40d8ff"/>
<polygon points="377.77,94.91 378.73,94.91 378.73,95.54 377.77,95.54" fill="#20b0ff"/>
<polygon points="377.72,94.1 378.49,94.1 378.49,94.7 377.72,94.7" fill="#1040e0"/>
<polygon points="373.07,97.04 374.09,97.04 374.09,97.86 373.07,97.86" fill="#40d8ff"/>
<polygon points="380.8,91.07 381.47,91.07 381.47,91.74 380.8,91.74" fill="#40d8ff"/>
<polygon points="371.36,94.91 371.96,94.91 371.96,95.5 371.36,95.5" fill="#0010a0"/>
<polygon points="385.15,90.52 386.03,90.52 386.03,91.25 385.15,91.25" fill="#40d8ff"/>
<polygon points="387.5,89.51 388.19,89.51 388.19,90.16 387.5,90.16" fill="#20b0ff"/>
<polygon points="382.56,90.36 383.55,90.36 383.55,91.06 382.56,91.06" fill="#20b0ff"/>
</g>
</svg>
<rect x="246.6" y="12" width="203.2" height="108.2" fill="none" stroke="#000" stroke-width="0.5"/>
<line x1="246.6" y1="120.2" x2="246.6" y2="122.2" stroke="#000" stroke-width="0.5"/>
<text x="246.6" y="129" font-size="6.2" text-anchor="middle" fill="#000">0</text>
<line x1="275.63" y1="120.2" x2="275.63" y2="122.2" stroke="#000" stroke-width="0.5"/>
<text x="275.63" y="129" font-size="6.2" text-anchor="middle" fill="#000">10</text>
<line x1="304.66" y1="120.2" x2="304.66" y2="122.2" stroke="#000" stroke-width="0.5"/>
<text x="304.66" y="129" font-size="6.2" text-anchor="middle" fill="#000">20</text>
<line x1="333.69" y1="120.2" x2="333.69" y2="122.2" stroke="#000" stroke-width="0.5"/>
<text x="333.69" y="129" font-size="6.2" text-anchor="middle" fill="#000">30</text>
<line x1="362.71" y1="120.2" x2="362.71" y2="122.2" stroke="#000" stroke-width="0.5"/>
<text x="362.71" y="129" font-size="6.2" text-anchor="middle" fill="#000">40</text>
<line x1="391.74" y1="120.2" x2="391.74" y2="122.2" stroke="#000" stroke-width="0.5"/>
<text x="391.74" y="129" font-size="6.2" text-anchor="middle" fill="#000">50</text>
<line x1="420.77" y1="120.2" x2="420.77" y2="122.2" stroke="#000" stroke-width="0.5"/>
<text x="420.77" y="129" font-size="6.2" text-anchor="middle" fill="#000">60</text>
<line x1="449.8" y1="120.2" x2="449.8" y2="122.2" stroke="#000" stroke-width="0.5"/>
<text x="449.8" y="129" font-size="6.2" text-anchor="middle" fill="#000">70</text>
<line x1="244.6" y1="120.2" x2="246.6" y2="120.2" stroke="#000" stroke-width="0.5"/>
<line x1="244.6" y1="105.69" x2="246.6" y2="105.69" stroke="#000" stroke-width="0.5"/>
<line x1="244.6" y1="91.17" x2="246.6" y2="91.17" stroke="#000" stroke-width="0.5"/>
<line x1="244.6" y1="76.66" x2="246.6" y2="76.66" stroke="#000" stroke-width="0.5"/>
<line x1="244.6" y1="62.14" x2="246.6" y2="62.14" stroke="#000" stroke-width="0.5"/>
<line x1="244.6" y1="47.63" x2="246.6" y2="47.63" stroke="#000" stroke-width="0.5"/>
<line x1="244.6" y1="33.11" x2="246.6" y2="33.11" stroke="#000" stroke-width="0.5"/>
<line x1="244.6" y1="18.6" x2="246.6" y2="18.6" stroke="#000" stroke-width="0.5"/>
<text x="348.2" y="137.2" font-size="6.8" text-anchor="middle" fill="#000">X (Mm)</text>
<text x="348.2" y="8.6" font-size="9.15" text-anchor="middle" fill="#000">Fe XIX 108  inverted Log(<tspan font-style="italic">I</tspan><tspan font-style="italic" font-size="6.3" dy="1.6">FIT</tspan><tspan dy="-1.6"> (DN))</tspan></text>
<clipPath id="hc0"><rect x="456" y="11.3" width="203.4" height="109.3"/></clipPath>
<rect x="456" y="11.3" width="203.4" height="109.3" fill="#000"/>
<g filter="url(#hsoft)" clip-path="url(#hc0)">
<path fill="#080808" d="M479.73 55.37h3.44v1.81h-3.44zM503.46 76.53h3.44v1.81h-3.44zM517.02 58.9h3.44v1.81h-3.44zM520.41 74.76h3.44v1.81h-3.44zM527.19 50.08h3.44v1.81h-3.44zM567.87 64.19h3.44v1.81h-3.44zM584.82 73h3.44v1.81h-3.44zM588.21 64.19h3.44v1.81h-3.44zM598.38 81.82h3.44v1.81h-3.44zM608.55 65.95h3.44v1.81h-3.44zM611.94 62.42h3.44v1.81h-3.44zM615.33 55.37h3.44v1.81h-3.44z"/>
<path fill="#101010" d="M456 55.37h3.44v1.81h-3.44zM459.39 55.37h3.44v1.81h-3.44zM459.39 71.24h3.44v1.81h-3.44zM459.39 95.92h3.44v1.81h-3.44zM462.78 55.37h3.44v1.81h-3.44zM462.78 58.9h3.44v1.81h-3.44zM462.78 69.48h3.44v1.81h-3.44zM462.78 111.79h3.44v1.81h-3.44zM466.17 55.37h3.44v1.81h-3.44zM466.17 118.84h3.44v1.81h-3.44zM469.56 57.14h3.44v1.81h-3.44zM469.56 60.66h3.44v1.81h-3.44zM472.95 97.68h3.44v1.81h-3.44zM476.34 83.58h3.44v1.81h-3.44zM479.73 53.61h3.44v1.81h-3.44zM479.73 71.24h3.44v1.81h-3.44zM483.12 69.48h3.44v1.81h-3.44zM486.51 11.3h3.44v1.81h-3.44zM486.51 71.24h3.44v1.81h-3.44zM486.51 73h3.44v1.81h-3.44zM489.9 60.66h3.44v1.81h-3.44zM493.29 55.37h3.44v1.81h-3.44zM493.29 74.76h3.44v1.81h-3.44zM493.29 76.53h3.44v1.81h-3.44zM493.29 94.16h3.44v1.81h-3.44zM496.68 57.14h3.44v1.81h-3.44zM496.68 62.42h3.44v1.81h-3.44zM496.68 71.24h3.44v1.81h-3.44zM496.68 74.76h3.44v1.81h-3.44zM500.07 62.42h3.44v1.81h-3.44zM500.07 118.84h3.44v1.81h-3.44zM503.46 53.61h3.44v1.81h-3.44zM503.46 57.14h3.44v1.81h-3.44zM503.46 73h3.44v1.81h-3.44zM506.85 58.9h3.44v1.81h-3.44zM506.85 60.66h3.44v1.81h-3.44zM506.85 76.53h3.44v1.81h-3.44zM510.24 23.64h3.44v1.81h-3.44zM510.24 55.37h3.44v1.81h-3.44zM510.24 58.9h3.44v1.81h-3.44zM510.24 76.53h3.44v1.81h-3.44zM513.63 71.24h3.44v1.81h-3.44zM513.63 74.76h3.44v1.81h-3.44zM517.02 55.37h3.44v1.81h-3.44zM517.02 64.19h3.44v1.81h-3.44zM520.41 55.37h3.44v1.81h-3.44zM520.41 58.9h3.44v1.81h-3.44zM520.41 76.53h3.44v1.81h-3.44zM523.8 55.37h3.44v1.81h-3.44zM523.8 60.66h3.44v1.81h-3.44zM523.8 64.19h3.44v1.81h-3.44zM523.8 69.48h3.44v1.81h-3.44zM527.19 78.29h3.44v1.81h-3.44zM530.58 60.66h3.44v1.81h-3.44zM530.58 71.24h3.44v1.81h-3.44zM530.58 90.63h3.44v1.81h-3.44zM533.97 53.61h3.44v1.81h-3.44zM533.97 64.19h3.44v1.81h-3.44zM533.97 65.95h3.44v1.81h-3.44zM537.36 65.95h3.44v1.81h-3.44zM537.36 76.53h3.44v1.81h-3.44zM537.36 80.05h3.44v1.81h-3.44zM537.36 85.34h3.44v1.81h-3.44zM544.14 57.14h3.44v1.81h-3.44zM544.14 76.53h3.44v1.81h-3.44zM547.53 62.42h3.44v1.81h-3.44zM547.53 80.05h3.44v1.81h-3.44zM550.92 20.11h3.44v1.81h-3.44zM550.92 55.37h3.44v1.81h-3.44zM554.31 57.14h3.44v1.81h-3.44zM554.31 58.9h3.44v1.81h-3.44zM554.31 73h3.44v1.81h-3.44zM554.31 83.58h3.44v1.81h-3.44zM557.7 76.53h3.44v1.81h-3.44zM557.7 78.29h3.44v1.81h-3.44zM561.09 62.42h3.44v1.81h-3.44zM561.09 73h3.44v1.81h-3.44zM564.48 60.66h3.44v1.81h-3.44zM567.87 65.95h3.44v1.81h-3.44zM567.87 74.76h3.44v1.81h-3.44zM567.87 87.1h3.44v1.81h-3.44zM571.26 65.95h3.44v1.81h-3.44zM571.26 81.82h3.44v1.81h-3.44zM574.65 78.29h3.44v1.81h-3.44zM578.04 62.42h3.44v1.81h-3.44zM578.04 67.71h3.44v1.81h-3.44zM578.04 69.48h3.44v1.81h-3.44zM578.04 80.05h3.44v1.81h-3.44zM581.43 53.61h3.44v1.81h-3.44zM584.82 60.66h3.44v1.81h-3.44zM584.82 65.95h3.44v1.81h-3.44zM584.82 74.76h3.44v1.81h-3.44zM584.82 76.53h3.44v1.81h-3.44zM584.82 94.16h3.44v1.81h-3.44zM588.21 65.95h3.44v1.81h-3.44zM588.21 81.82h3.44v1.81h-3.44zM591.6 67.71h3.44v1.81h-3.44zM591.6 69.48h3.44v1.81h-3.44zM591.6 73h3.44v1.81h-3.44zM594.99 57.14h3.44v1.81h-3.44zM594.99 76.53h3.44v1.81h-3.44zM594.99 78.29h3.44v1.81h-3.44zM598.38 62.42h3.44v1.81h-3.44zM598.38 71.24h3.44v1.81h-3.44zM598.38 83.58h3.44v1.81h-3.44zM601.77 60.66h3.44v1.81h-3.44zM605.16 71.24h3.44v1.81h-3.44zM605.16 73h3.44v1.81h-3.44zM608.55 73h3.44v1.81h-3.44zM615.33 28.93h3.44v1.81h-3.44zM615.33 74.76h3.44v1.81h-3.44zM618.72 21.88h3.44v1.81h-3.44zM618.72 64.19h3.44v1.81h-3.44zM618.72 80.05h3.44v1.81h-3.44zM622.11 69.48h3.44v1.81h-3.44zM625.5 55.37h3.44v1.81h-3.44zM628.89 71.24h3.44v1.81h-3.44zM632.28 67.71h3.44v1.81h-3.44zM632.28 69.48h3.44v1.81h-3.44zM632.28 85.34h3.44v1.81h-3.44zM635.67 71.24h3.44v1.81h-3.44zM639.06 62.42h3.44v1.81h-3.44zM642.45 60.66h3.44v1.81h-3.44zM652.62 69.48h3.44v1.81h-3.44zM652.62 85.34h3.44v1.81h-3.44z"/>
<path fill="#181818" d="M456 53.61h3.44v1.81h-3.44zM459.39 69.48h3.44v1.81h-3.44zM466.17 71.24h3.44v1.81h-3.44zM476.34 69.48h3.44v1.81h-3.44zM483.12 57.14h3.44v1.81h-3.44zM483.12 73h3.44v1.81h-3.44zM483.12 106.5h3.44v1.81h-3.44zM493.29 71.24h3.44v1.81h-3.44zM493.29 73h3.44v1.81h-3.44zM496.68 78.29h3.44v1.81h-3.44zM500.07 14.83h3.44v1.81h-3.44zM500.07 60.66h3.44v1.81h-3.44zM506.85 62.42h3.44v1.81h-3.44zM510.24 73h3.44v1.81h-3.44zM513.63 57.14h3.44v1.81h-3.44zM513.63 76.53h3.44v1.81h-3.44zM517.02 73h3.44v1.81h-3.44zM520.41 69.48h3.44v1.81h-3.44zM520.41 73h3.44v1.81h-3.44zM520.41 102.97h3.44v1.81h-3.44zM523.8 46.56h3.44v1.81h-3.44zM523.8 53.61h3.44v1.81h-3.44zM523.8 73h3.44v1.81h-3.44zM527.19 58.9h3.44v1.81h-3.44zM527.19 69.48h3.44v1.81h-3.44zM527.19 74.76h3.44v1.81h-3.44zM533.97 51.85h3.44v1.81h-3.44zM537.36 78.29h3.44v1.81h-3.44zM540.75 57.14h3.44v1.81h-3.44zM540.75 62.42h3.44v1.81h-3.44zM540.75 71.24h3.44v1.81h-3.44zM544.14 62.42h3.44v1.81h-3.44zM547.53 110.02h3.44v1.81h-3.44zM550.92 62.42h3.44v1.81h-3.44zM550.92 67.71h3.44v1.81h-3.44zM554.31 46.56h3.44v1.81h-3.44zM554.31 51.85h3.44v1.81h-3.44zM554.31 60.66h3.44v1.81h-3.44zM554.31 71.24h3.44v1.81h-3.44zM557.7 60.66h3.44v1.81h-3.44zM557.7 74.76h3.44v1.81h-3.44zM561.09 64.19h3.44v1.81h-3.44zM561.09 65.95h3.44v1.81h-3.44zM561.09 74.76h3.44v1.81h-3.44zM561.09 78.29h3.44v1.81h-3.44zM564.48 57.14h3.44v1.81h-3.44zM567.87 78.29h3.44v1.81h-3.44zM567.87 90.63h3.44v1.81h-3.44zM571.26 85.34h3.44v1.81h-3.44zM574.65 76.53h3.44v1.81h-3.44zM574.65 81.82h3.44v1.81h-3.44zM581.43 73h3.44v1.81h-3.44zM588.21 71.24h3.44v1.81h-3.44zM591.6 71.24h3.44v1.81h-3.44zM591.6 76.53h3.44v1.81h-3.44zM594.99 113.55h3.44v1.81h-3.44zM598.38 73h3.44v1.81h-3.44zM601.77 69.48h3.44v1.81h-3.44zM611.94 58.9h3.44v1.81h-3.44zM615.33 62.42h3.44v1.81h-3.44zM618.72 67.71h3.44v1.81h-3.44zM632.28 81.82h3.44v1.81h-3.44zM642.45 57.14h3.44v1.81h-3.44zM649.23 55.37h3.44v1.81h-3.44z"/>
<path fill="#202020" d="M456 58.9h3.44v1.81h-3.44zM456 69.48h3.44v1.81h-3.44zM459.39 57.14h3.44v1.81h-3.44zM459.39 73h3.44v1.81h-3.44zM469.56 53.61h3.44v1.81h-3.44zM483.12 58.9h3.44v1.81h-3.44zM486.51 58.9h3.44v1.81h-3.44zM489.9 57.14h3.44v1.81h-3.44zM489.9 69.48h3.44v1.81h-3.44zM496.68 73h3.44v1.81h-3.44zM503.46 58.9h3.44v1.81h-3.44zM503.46 71.24h3.44v1.81h-3.44zM506.85 64.19h3.44v1.81h-3.44zM506.85 71.24h3.44v1.81h-3.44zM506.85 73h3.44v1.81h-3.44zM513.63 69.48h3.44v1.81h-3.44zM517.02 71.24h3.44v1.81h-3.44zM520.41 65.95h3.44v1.81h-3.44zM523.8 71.24h3.44v1.81h-3.44zM523.8 78.29h3.44v1.81h-3.44zM527.19 60.66h3.44v1.81h-3.44zM527.19 64.19h3.44v1.81h-3.44zM530.58 69.48h3.44v1.81h-3.44zM530.58 73h3.44v1.81h-3.44zM537.36 64.19h3.44v1.81h-3.44zM540.75 65.95h3.44v1.81h-3.44zM544.14 58.9h3.44v1.81h-3.44zM544.14 64.19h3.44v1.81h-3.44zM550.92 71.24h3.44v1.81h-3.44zM554.31 88.87h3.44v1.81h-3.44zM557.7 71.24h3.44v1.81h-3.44zM561.09 76.53h3.44v1.81h-3.44zM564.48 71.24h3.44v1.81h-3.44zM574.65 117.07h3.44v1.81h-3.44zM578.04 65.95h3.44v1.81h-3.44zM581.43 71.24h3.44v1.81h-3.44zM584.82 71.24h3.44v1.81h-3.44zM588.21 73h3.44v1.81h-3.44zM591.6 106.5h3.44v1.81h-3.44zM591.6 111.79h3.44v1.81h-3.44zM601.77 58.9h3.44v1.81h-3.44z"/>
<path fill="#282828" d="M456 57.14h3.44v1.81h-3.44zM466.17 57.14h3.44v1.81h-3.44zM469.56 67.71h3.44v1.81h-3.44zM469.56 71.24h3.44v1.81h-3.44zM472.95 55.37h3.44v1.81h-3.44zM472.95 60.66h3.44v1.81h-3.44zM486.51 69.48h3.44v1.81h-3.44zM493.29 53.61h3.44v1.81h-3.44zM496.68 53.61h3.44v1.81h-3.44zM503.46 62.42h3.44v1.81h-3.44zM530.58 74.76h3.44v1.81h-3.44zM533.97 58.9h3.44v1.81h-3.44zM533.97 71.24h3.44v1.81h-3.44zM547.53 73h3.44v1.81h-3.44zM561.09 71.24h3.44v1.81h-3.44zM571.26 69.48h3.44v1.81h-3.44z"/>
<path fill="#303030" d="M469.56 69.48h3.44v1.81h-3.44zM476.34 58.9h3.44v1.81h-3.44zM479.73 57.14h3.44v1.81h-3.44zM493.29 69.48h3.44v1.81h-3.44zM500.07 64.19h3.44v1.81h-3.44zM506.85 57.14h3.44v1.81h-3.44zM510.24 57.14h3.44v1.81h-3.44zM510.24 64.19h3.44v1.81h-3.44zM520.41 60.66h3.44v1.81h-3.44zM544.14 67.71h3.44v1.81h-3.44zM547.53 67.71h3.44v1.81h-3.44zM554.31 67.71h3.44v1.81h-3.44zM557.7 69.48h3.44v1.81h-3.44zM561.09 67.71h3.44v1.81h-3.44zM571.26 71.24h3.44v1.81h-3.44zM578.04 71.24h3.44v1.81h-3.44zM594.99 71.24h3.44v1.81h-3.44z"/>
<path fill="#383838" d="M462.78 57.14h3.44v1.81h-3.44zM466.17 58.9h3.44v1.81h-3.44zM466.17 69.48h3.44v1.81h-3.44zM469.56 58.9h3.44v1.81h-3.44zM486.51 62.42h3.44v1.81h-3.44zM503.46 64.19h3.44v1.81h-3.44zM510.24 62.42h3.44v1.81h-3.44zM520.41 64.19h3.44v1.81h-3.44zM530.58 65.95h3.44v1.81h-3.44zM533.97 69.48h3.44v1.81h-3.44zM540.75 67.71h3.44v1.81h-3.44zM547.53 69.48h3.44v1.81h-3.44zM567.87 71.24h3.44v1.81h-3.44z"/>
<path fill="#404040" d="M459.39 58.9h3.44v1.81h-3.44zM469.56 55.37h3.44v1.81h-3.44zM483.12 67.71h3.44v1.81h-3.44zM496.68 67.71h3.44v1.81h-3.44zM523.8 65.95h3.44v1.81h-3.44zM544.14 69.48h3.44v1.81h-3.44zM574.65 69.48h3.44v1.81h-3.44z"/>
<path fill="#484848" d="M459.39 60.66h3.44v1.81h-3.44zM466.17 60.66h3.44v1.81h-3.44zM483.12 64.19h3.44v1.81h-3.44zM510.24 65.95h3.44v1.81h-3.44zM517.02 65.95h3.44v1.81h-3.44zM567.87 69.48h3.44v1.81h-3.44zM574.65 71.24h3.44v1.81h-3.44z"/>
<path fill="#505050" d="M459.39 67.71h3.44v1.81h-3.44zM483.12 62.42h3.44v1.81h-3.44zM489.9 65.95h3.44v1.81h-3.44zM506.85 67.71h3.44v1.81h-3.44zM513.63 62.42h3.44v1.81h-3.44zM527.19 65.95h3.44v1.81h-3.44zM540.75 69.48h3.44v1.81h-3.44z"/>
<path fill="#585858" d="M476.34 62.42h3.44v1.81h-3.44zM496.68 64.19h3.44v1.81h-3.44zM517.02 69.48h3.44v1.81h-3.44zM530.58 67.71h3.44v1.81h-3.44z"/>
<path fill="#606060" d="M486.51 57.14h3.44v1.81h-3.44zM486.51 67.71h3.44v1.81h-3.44zM489.9 64.19h3.44v1.81h-3.44zM520.41 67.71h3.44v1.81h-3.44zM554.31 69.48h3.44v1.81h-3.44z"/>
<path fill="#686868" d="M456 60.66h3.44v1.81h-3.44zM472.95 67.71h3.44v1.81h-3.44zM476.34 67.71h3.44v1.81h-3.44zM503.46 67.71h3.44v1.81h-3.44zM506.85 65.95h3.44v1.81h-3.44zM564.48 69.48h3.44v1.81h-3.44z"/>
<path fill="#707070" d="M489.9 67.71h3.44v1.81h-3.44z"/>
<path fill="#787878" d="M479.73 67.71h3.44v1.81h-3.44zM537.36 69.48h3.44v1.81h-3.44z"/>
<path fill="#808080" d="M462.78 67.71h3.44v1.81h-3.44zM479.73 62.42h3.44v1.81h-3.44zM493.29 67.71h3.44v1.81h-3.44z"/>
<path fill="#888888" d="M476.34 60.66h3.44v1.81h-3.44zM503.46 65.95h3.44v1.81h-3.44zM513.63 64.19h3.44v1.81h-3.44zM533.97 67.71h3.44v1.81h-3.44zM537.36 67.71h3.44v1.81h-3.44zM561.09 69.48h3.44v1.81h-3.44z"/>
<path fill="#909090" d="M466.17 62.42h3.44v1.81h-3.44zM500.07 67.71h3.44v1.81h-3.44zM510.24 67.71h3.44v1.81h-3.44z"/>
<path fill="#989898" d="M486.51 65.95h3.44v1.81h-3.44zM517.02 67.71h3.44v1.81h-3.44z"/>
<path fill="#a0a0a0" d="M472.95 62.42h3.44v1.81h-3.44zM476.34 64.19h3.44v1.81h-3.44zM500.07 65.95h3.44v1.81h-3.44z"/>
<path fill="#a8a8a8" d="M493.29 65.95h3.44v1.81h-3.44zM523.8 67.71h3.44v1.81h-3.44z"/>
<path fill="#b0b0b0" d="M456 67.71h3.44v1.81h-3.44z"/>
<path fill="#b8b8b8" d="M462.78 60.66h3.44v1.81h-3.44zM466.17 67.71h3.44v1.81h-3.44zM469.56 65.95h3.44v1.81h-3.44zM483.12 65.95h3.44v1.81h-3.44z"/>
<path fill="#c0c0c0" d="M513.63 65.95h3.44v1.81h-3.44z"/>
<path fill="#c8c8c8" d="M527.19 67.71h3.44v1.81h-3.44zM550.92 69.48h3.44v1.81h-3.44z"/>
<path fill="#d0d0d0" d="M493.29 64.19h3.44v1.81h-3.44z"/>
<path fill="#e0e0e0" d="M486.51 64.19h3.44v1.81h-3.44z"/>
<path fill="#ffffff" d="M456 62.42h3.44v1.81h-3.44zM456 64.19h3.44v1.81h-3.44zM456 65.95h3.44v1.81h-3.44zM459.39 62.42h3.44v1.81h-3.44zM459.39 64.19h3.44v1.81h-3.44zM459.39 65.95h3.44v1.81h-3.44zM462.78 62.42h3.44v1.81h-3.44zM462.78 64.19h3.44v1.81h-3.44zM462.78 65.95h3.44v1.81h-3.44zM466.17 64.19h3.44v1.81h-3.44zM466.17 65.95h3.44v1.81h-3.44zM469.56 62.42h3.44v1.81h-3.44zM469.56 64.19h3.44v1.81h-3.44zM472.95 64.19h3.44v1.81h-3.44zM472.95 65.95h3.44v1.81h-3.44zM476.34 65.95h3.44v1.81h-3.44zM479.73 64.19h3.44v1.81h-3.44zM479.73 65.95h3.44v1.81h-3.44zM496.68 65.95h3.44v1.81h-3.44zM513.63 67.71h3.44v1.81h-3.44z"/>
</g>
<line x1="456" y1="120.6" x2="456" y2="122.6" stroke="#000" stroke-width="0.5"/>
<text x="456" y="129.2" font-size="5.8" text-anchor="middle" fill="#000">2.0</text>
<line x1="497.41" y1="120.6" x2="497.41" y2="122.6" stroke="#000" stroke-width="0.5"/>
<text x="497.41" y="129.2" font-size="5.8" text-anchor="middle" fill="#000">2.5</text>
<line x1="538.82" y1="120.6" x2="538.82" y2="122.6" stroke="#000" stroke-width="0.5"/>
<text x="538.82" y="129.2" font-size="5.8" text-anchor="middle" fill="#000">3.0</text>
<line x1="580.23" y1="120.6" x2="580.23" y2="122.6" stroke="#000" stroke-width="0.5"/>
<text x="580.23" y="129.2" font-size="5.8" text-anchor="middle" fill="#000">3.5</text>
<line x1="621.64" y1="120.6" x2="621.64" y2="122.6" stroke="#000" stroke-width="0.5"/>
<text x="621.64" y="129.2" font-size="5.8" text-anchor="middle" fill="#000">4.0</text>
<line x1="659.4" y1="11.4" x2="661.4" y2="11.4" stroke="#000" stroke-width="0.5"/>
<text x="662.7" y="13.5" font-size="5.8" text-anchor="start" fill="#000">100</text>
<line x1="659.4" y1="25.1" x2="661.4" y2="25.1" stroke="#000" stroke-width="0.5"/>
<text x="662.7" y="27.2" font-size="5.8" text-anchor="start" fill="#000">75</text>
<line x1="659.4" y1="38.8" x2="661.4" y2="38.8" stroke="#000" stroke-width="0.5"/>
<text x="662.7" y="40.9" font-size="5.8" text-anchor="start" fill="#000">50</text>
<line x1="659.4" y1="52.5" x2="661.4" y2="52.5" stroke="#000" stroke-width="0.5"/>
<text x="662.7" y="54.6" font-size="5.8" text-anchor="start" fill="#000">25</text>
<line x1="659.4" y1="66.2" x2="661.4" y2="66.2" stroke="#000" stroke-width="0.5"/>
<text x="662.7" y="68.3" font-size="5.8" text-anchor="start" fill="#000">0</text>
<line x1="659.4" y1="79.9" x2="661.4" y2="79.9" stroke="#000" stroke-width="0.5"/>
<text x="662.7" y="82" font-size="5.8" text-anchor="start" fill="#000">−25</text>
<line x1="659.4" y1="93.6" x2="661.4" y2="93.6" stroke="#000" stroke-width="0.5"/>
<text x="662.7" y="95.7" font-size="5.8" text-anchor="start" fill="#000">−50</text>
<line x1="659.4" y1="107.3" x2="661.4" y2="107.3" stroke="#000" stroke-width="0.5"/>
<text x="662.7" y="109.4" font-size="5.8" text-anchor="start" fill="#000">−75</text>
<line x1="659.4" y1="121" x2="661.4" y2="121" stroke="#000" stroke-width="0.5"/>
<text x="662.7" y="123.1" font-size="5.8" text-anchor="start" fill="#000">−100</text>
<text x="557.7" y="137.6" font-size="6.8" text-anchor="middle" fill="#000">Fe XIX 108 Log(intensity (DN))</text>
<text x="557.7" y="7.9" font-size="9.15" text-anchor="middle" fill="#000">2D Histogram</text>
<text transform="translate(675.8 66.75) rotate(90)" font-size="7.05" text-anchor="middle" fill="#000">Fe XIX 108  |<tspan font-style="italic">I</tspan><tspan font-style="italic" font-size="4.8" dy="1.2">FIT</tspan><tspan dy="-1.2"> − </tspan><tspan font-style="italic">I</tspan><tspan font-style="italic" font-size="4.8" dy="1.2">TRUE</tspan><tspan dy="-1.2">| (DN)</tspan></text>
<rect x="683.7" y="7.2" width="5.1" height="128.8" fill="url(#gray)" stroke="#222" stroke-width="0.5"/>
<line x1="688.8" y1="12.4" x2="690.8" y2="12.4" stroke="#000" stroke-width="0.5"/>
<text x="692.4" y="14.45" font-size="5.8" text-anchor="start" fill="#000">25</text>
<line x1="688.8" y1="37" x2="690.8" y2="37" stroke="#000" stroke-width="0.5"/>
<text x="692.4" y="39.05" font-size="5.8" text-anchor="start" fill="#000">20</text>
<line x1="688.8" y1="62" x2="690.8" y2="62" stroke="#000" stroke-width="0.5"/>
<text x="692.4" y="64.05" font-size="5.8" text-anchor="start" fill="#000">15</text>
<line x1="688.8" y1="86.6" x2="690.8" y2="86.6" stroke="#000" stroke-width="0.5"/>
<text x="692.4" y="88.65" font-size="5.8" text-anchor="start" fill="#000">10</text>
<line x1="688.8" y1="111.8" x2="690.8" y2="111.8" stroke="#000" stroke-width="0.5"/>
<text x="692.4" y="113.85" font-size="5.8" text-anchor="start" fill="#000">5</text>
</g>
<g id="row2">
<rect x="19.6" y="154.2" width="5.4" height="126.8" fill="url(#bwr)" stroke="#222" stroke-width="0.5"/>
<line x1="17.6" y1="154.5" x2="19.6" y2="154.5" stroke="#000" stroke-width="0.5"/>
<text x="16.2" y="156.7" font-size="6.05" text-anchor="end" fill="#000">150</text>
<line x1="17.6" y1="175.5" x2="19.6" y2="175.5" stroke="#000" stroke-width="0.5"/>
<text x="16.2" y="177.7" font-size="6.05" text-anchor="end" fill="#000">100</text>
<line x1="17.6" y1="196.6" x2="19.6" y2="196.6" stroke="#000" stroke-width="0.5"/>
<text x="16.2" y="198.8" font-size="6.05" text-anchor="end" fill="#000">50</text>
<line x1="17.6" y1="217.7" x2="19.6" y2="217.7" stroke="#000" stroke-width="0.5"/>
<text x="16.2" y="219.9" font-size="6.05" text-anchor="end" fill="#000">0</text>
<line x1="17.6" y1="238.8" x2="19.6" y2="238.8" stroke="#000" stroke-width="0.5"/>
<text x="16.2" y="241" font-size="6.05" text-anchor="end" fill="#000">−50</text>
<line x1="17.6" y1="259.9" x2="19.6" y2="259.9" stroke="#000" stroke-width="0.5"/>
<text x="16.2" y="262.1" font-size="6.05" text-anchor="end" fill="#000">−100</text>
<line x1="17.6" y1="280.9" x2="19.6" y2="280.9" stroke="#000" stroke-width="0.5"/>
<text x="16.2" y="283.1" font-size="6.05" text-anchor="end" fill="#000">−150</text>
<rect x="44.4" y="159.1" width="199.4" height="106.2" fill="#fff"/>
<svg x="44.4" y="159.1" width="199.4" height="106.2" viewBox="44.4 159.1 199.4 106.2" overflow="hidden">
<g filter="url(#soft)">
<polyline points="49.11,244.28 51.77,241.92 55.11,239.76" fill="none" stroke="#ff7474" stroke-width="1.28" stroke-linecap="round" stroke-linejoin="round"/>
<polyline points="57.56,235.93 57.86,235.44" fill="none" stroke="#ffb0b0" stroke-width="0.79" stroke-linecap="round" stroke-linejoin="round"/>
<polyline points="69.64,230.82 72.89,228.37 76.72,224.73" fill="none" stroke="#dcdcff" stroke-width="0.83" stroke-linecap="round" stroke-linejoin="round"/>
<polyline points="110.6,171 111.78,173.36 114.73,175.13 115.12,177.09 113.75,179.06 112.57,180.24" fill="none" stroke="#3030ff" stroke-width="0.88" stroke-linecap="round" stroke-linejoin="round"/>
<polygon points="110.21,170.81 111.39,170.41 112.77,173.36 111.39,174.34 110.21,173.16" fill="#2020ff"/>
<polyline points="112.47,164.91 112.67,165.5" fill="none" stroke="#6060ff" stroke-width="0.79" stroke-linecap="round" stroke-linejoin="round"/>
<polyline points="219.83,244.08 222.68,241.73 225.92,239.76" fill="none" stroke="#ff8888" stroke-width="1.28" stroke-linecap="round" stroke-linejoin="round"/>
<polyline points="229.26,235.24 230.24,233.87" fill="none" stroke="#ffc0c0" stroke-width="0.88" stroke-linecap="round" stroke-linejoin="round"/>
<polyline points="240.26,231.71 242.23,229.94 243.8,228.37" fill="none" stroke="#e0e0ff" stroke-width="0.93" stroke-linecap="round" stroke-linejoin="round"/>
<polygon points="130.84,177.88 134.77,177.29 138.7,177.58 142.63,177.98 146.06,178.07 148.03,176.9 149.01,174.24 149.99,171.3 151.66,170.22 154.41,170.51 157.36,172.08 160.31,173.56 161.49,172.97 163.06,173.36 163.45,176.21 162.08,177.49 160.8,176.31 158.34,174.44 154.9,172.77 152.84,172.77 151.66,174.74 150.88,177.68 150.29,179.25 151.27,181.61 154.12,184.16 153.53,185.15 151.47,184.16 149.11,181.81 147.54,180.63 144.59,181.02 141.64,180.92 138.7,179.84 134.77,179.35 131.04,179.25" fill="#2020ff" stroke="#2020ff" stroke-width="0.4" stroke-linejoin="round"/>
<polyline points="128.68,178.47 129.27,178.47" fill="none" stroke="#7070ff" stroke-width="0.79" stroke-linecap="round" stroke-linejoin="round"/>
<polyline points="139.48,175.42 140.07,175.03" fill="none" stroke="#7070ff" stroke-width="0.88" stroke-linecap="round" stroke-linejoin="round"/>
<polyline points="139.68,178.66 144.59,179.25 148.52,178.66" fill="none" stroke="#1010ff" stroke-width="0.88" stroke-linecap="round" stroke-linejoin="round"/>
<polyline points="149.5,175.23 150.68,171.98" fill="none" stroke="#1818ff" stroke-width="0.88" stroke-linecap="round" stroke-linejoin="round"/>
<polygon points="180.44,159.51 182.51,159.51 182.51,162.95 181.62,167.86 180.64,172.77 180.15,174.74 181.62,177.68 183,181.61 183,185.54 181.52,188.49 179.56,190.94 178.09,192.91 177.6,195.36 175.53,194.87 173.08,193.99 170.13,193.5 168.17,192.51 166.2,193.01 164.24,193.99 162.27,194.48 159.82,193.01 159.33,191.04 160.8,190.06 162.27,188.59 161.78,185.64 160.31,183.67 159.82,180.73 161.29,179.74 162.76,181.71 164.24,183.67 165.71,182.69 167.18,179.74 169.15,176.8 172.09,174.83 175.04,173.75 177.01,174.15 177.6,170.81 178.48,165.89 179.56,161.97" fill="#ece8ff" stroke="#ece8ff" stroke-width="0.5" stroke-linejoin="round"/>
<polyline points="177.5,159.22 178.77,160.2 180.15,161.18" fill="none" stroke="#1818ff" stroke-width="1.18" stroke-linecap="round" stroke-linejoin="round"/>
<polyline points="161.09,181.41 163.06,184.56 164.04,187.5 163.45,191.43" fill="none" stroke="#3838ff" stroke-width="1.28" stroke-linecap="round" stroke-linejoin="round"/>
<polyline points="161.78,183.08 163.45,186.03 164.43,188.98" fill="none" stroke="#2020ff" stroke-width="0.79" stroke-linecap="round" stroke-linejoin="round"/>
<polyline points="160.31,192.42 162.76,193.59" fill="none" stroke="#2020ff" stroke-width="1.38" stroke-linecap="round" stroke-linejoin="round"/>
<polyline points="164.24,190.45 165.42,192.91" fill="none" stroke="#9090ff" stroke-width="0.98" stroke-linecap="round" stroke-linejoin="round"/>
<polyline points="178.97,173.75 179.95,168.84 180.93,163.93 181.52,160" fill="none" stroke="#c8c8ff" stroke-width="1.47" stroke-linecap="round" stroke-linejoin="round"/>
<polyline points="180.54,166.88 181.33,161.97" fill="none" stroke="#a0a0ff" stroke-width="0.88" stroke-linecap="round" stroke-linejoin="round"/>
<polygon points="168.17,179.65 169.34,176.21 172.09,173.75 174.06,172.77 176.02,175.23 177.99,176.21 178.77,179.65 176.02,179.16 173.08,178.66 170.13,179.45" fill="#ff0808"/>
<polygon points="165.22,192.42 167.18,184.56 168.66,180.14 174.06,179.65 178.48,180.43 179.46,184.56 176.02,188.49 172.09,192.42 168.17,192.91" fill="#ffe2e2"/>
<polygon points="166.99,188 168.56,180.83 171.9,174.34 174.06,173.16 178.58,179.84 179.17,183.77 174.45,184.95 170.33,187.9" fill="#ff8a8a" opacity="0.75"/>
<polyline points="174.06,182.59 176.02,186.52" fill="none" stroke="#ffb0b0" stroke-width="1.57" stroke-linecap="round" stroke-linejoin="round"/>
<polyline points="166.2,191.43 168.17,185.54" fill="none" stroke="#ff7070" stroke-width="0.79" stroke-linecap="round" stroke-linejoin="round"/>
<polygon points="168.75,179.45 169.74,176.31 172.29,173.95 174.06,172.97 176.02,175.32 177.99,176.31 178.58,179.45 176.02,178.96 173.27,179.65 171.11,180.83" fill="#ff1414"/>
<polygon points="174.06,190.45 177.99,187.5 179.95,183.58 180.93,181.12 181.92,184.56 180.74,188.49 178.48,192.42 176.02,194.87 174.55,192.91" fill="#2828ff"/>
<polygon points="157.85,189.96 159.52,188.98 161.49,189.47 162.76,188.49 164.04,189.67 162.27,192.91 160.31,193.89 158.83,192.42" fill="#2020ff"/>
<polygon points="158.83,180.14 161.49,179.65 162.76,182.59 162.27,185.54 160.5,184.56 159.33,182.59" fill="#4040ff"/>
<polyline points="176.02,159.51 178.48,160.49 180.74,159.51" fill="none" stroke="#1818ff" stroke-width="1.38" stroke-linecap="round" stroke-linejoin="round"/>
<polygon points="188.3,174.54 189.97,173.95 191.74,174.74 191.94,178.66 190.95,181.41 189.78,180.83 188.6,179.16" fill="#ffc8c8"/>
<polyline points="189.28,176.21 189.58,178.66" fill="none" stroke="#ff7070" stroke-width="0.69" stroke-linecap="round" stroke-linejoin="round"/>
<polygon points="156.9,240.77 159.92,238.63 163.07,234.86 165.58,230.45 167.22,227.31 168.22,227.94 166.46,231.71 164.58,236.11 162.19,239.89 163.44,241.14 161.93,242.78 158.66,242.53 156.78,241.9" fill="#3030ff"/>
<polyline points="160.55,239.64 162.69,236.74" fill="none" stroke="#9090ff" stroke-width="0.98" stroke-linecap="round" stroke-linejoin="round"/>
<polyline points="162.69,236.74 164.2,233.85" fill="none" stroke="#c8c8ff" stroke-width="0.98" stroke-linecap="round" stroke-linejoin="round"/>
<polyline points="164.45,233.35 166.21,230.08" fill="none" stroke="#d8d8ff" stroke-width="0.98" stroke-linecap="round" stroke-linejoin="round"/>
<polyline points="164.45,234.86 165.46,236.74" fill="none" stroke="#2020ff" stroke-width="0.98" stroke-linecap="round" stroke-linejoin="round"/>
<polygon points="169.98,225.05 171.24,221.65 173.76,217.88 175.27,217 176.4,218.51 175.77,220.52 174.13,219.76 172.37,222.91 171.12,226.3" fill="#2828ff" stroke="#2828ff" stroke-width="0.35" stroke-linejoin="round"/>
<polyline points="174.51,217.5 175.27,217.75" fill="none" stroke="#2020ff" stroke-width="0.98" stroke-linecap="round" stroke-linejoin="round"/>
<polyline points="170.36,224.29 170.86,223.28" fill="none" stroke="#4040ff" stroke-width="0.79" stroke-linecap="round" stroke-linejoin="round"/>
<polygon points="178.16,224.79 179.04,224.79 180.17,228.57 181.68,231.08 183.32,234.86 183.94,236.87 182.69,236.24 181.43,234.98 181.68,238.13 180.17,239.38 178.28,238.75 176.4,240.64 174.51,243.16 172.63,241.9 170.11,243.16 166.97,245.04 166.21,243.79 168.22,241.27 165.71,240.01 168.85,238.63 172.63,236.74 176.4,234.86 179.04,232.47 178.79,228.57" fill="#d8d8ff" opacity="0.6" stroke="#d8d8ff" stroke-width="0.3" stroke-linejoin="round"/>
<polygon points="178.16,224.79 179.04,224.79 180.17,228.57 181.68,231.08 183.32,234.86 183.94,236.87 182.69,236.24 181.43,234.98 180.8,233.1 179.04,232.47 178.79,228.57" fill="#2828ff" stroke="#2828ff" stroke-width="0.3" stroke-linejoin="round"/>
<polygon points="177.78,239.13 181.56,238.13 184.57,238.63 184.2,240.64 180.05,241.02 177.28,240.64" fill="#3030ff"/>
<polyline points="166.84,244.41 168.47,241.65" fill="none" stroke="#5050ff" stroke-width="0.79" stroke-linecap="round" stroke-linejoin="round"/>
<polygon points="170.74,245.42 172,242.4 175.77,239.38 180.3,236.37 183.57,235.36 182.56,237.37 178.79,240.26 174.76,243.03" fill="#ff2020"/>
<polyline points="166.21,243.03 171.24,240.52 176.27,238" fill="none" stroke="#ff8080" stroke-width="0.49" stroke-linecap="round" stroke-linejoin="round"/>
<polyline points="182.31,227.94 182.56,225.42" fill="none" stroke="#ff9090" stroke-width="0.49" stroke-linecap="round" stroke-linejoin="round"/>
<polyline points="178.79,253.72 180.55,250.7 185.08,247.56" fill="none" stroke="#2828ff" stroke-width="1.18" stroke-linecap="round" stroke-linejoin="round"/>
<polyline points="179.54,251.71 180.17,255.23" fill="none" stroke="#3838ff" stroke-width="1.08" stroke-linecap="round" stroke-linejoin="round"/>
<polyline points="182.06,257.62 184.07,255.99 185.83,253.85" fill="none" stroke="#2828ff" stroke-width="1.18" stroke-linecap="round" stroke-linejoin="round"/>
<polygon points="175.01,260.39 178.16,259.76 180.8,260.39 182.44,262.65 182.69,265.29 175.27,265.29" fill="#1818ff"/>
<polyline points="178.16,261.9 179.42,264.41" fill="none" stroke="#8080ff" stroke-width="0.79" stroke-linecap="round" stroke-linejoin="round"/>
<polygon points="176.52,177.31 177.28,177.31 177.28,178.19 176.52,178.19" fill="#ffb0b0" opacity="0.8"/>
<polygon points="169.96,184.96 171.18,184.96 171.18,185.64 169.96,185.64" fill="#ffc8c8" opacity="0.8"/>
<polygon points="169.68,186.18 170.74,186.18 170.74,186.98 169.68,186.98" fill="#ffc8c8" opacity="0.8"/>
<polygon points="179.84,180.78 180.88,180.78 180.88,181.65 179.84,181.65" fill="#ffffff" opacity="0.7"/>
<polygon points="177.5,185.18 178.33,185.18 178.33,186.1 177.5,186.1" fill="#ffb0b0" opacity="0.8"/>
<polygon points="172.95,181.17 174.23,181.17 174.23,181.95 172.95,181.95" fill="#ffb0b0" opacity="0.8"/>
<polygon points="178.58,177.46 179.61,177.46 179.61,178.47 178.58,178.47" fill="#ff9090" opacity="0.8"/>
<polygon points="177.77,180.76 178.55,180.76 178.55,181.56 177.77,181.56" fill="#ffc8c8" opacity="0.8"/>
<polygon points="178.22,178.58 179.18,178.58 179.18,179.63 178.22,179.63" fill="#ffe8e8" opacity="0.8"/>
<polygon points="171.55,181.75 172.61,181.75 172.61,182.57 171.55,182.57" fill="#ffe8e8" opacity="0.8"/>
<polygon points="179.25,180.7 180.51,180.7 180.51,181.47 179.25,181.47" fill="#ffe8e8" opacity="0.8"/>
<polygon points="181.15,181.84 181.93,181.84 181.93,182.48 181.15,182.48" fill="#ffb0b0" opacity="0.8"/>
<polygon points="178.39,178.22 179.35,178.22 179.35,179.24 178.39,179.24" fill="#ffffff" opacity="0.7"/>
<polygon points="174.05,178.81 175.1,178.81 175.1,179.82 174.05,179.82" fill="#ffe8e8" opacity="0.8"/>
<polygon points="170.56,182.79 171.69,182.79 171.69,183.58 170.56,183.58" fill="#ff9090" opacity="0.8"/>
<polygon points="168.53,186.68 169.54,186.68 169.54,187.56 168.53,187.56" fill="#ffc8c8" opacity="0.8"/>
<polygon points="172.81,182.06 173.71,182.06 173.71,182.73 172.81,182.73" fill="#ffb0b0" opacity="0.8"/>
<polygon points="181.33,187.03 182.28,187.03 182.28,187.83 181.33,187.83" fill="#ffb0b0" opacity="0.8"/>
<polygon points="167.77,186.29 168.59,186.29 168.59,187.35 167.77,187.35" fill="#ffc8c8" opacity="0.8"/>
<polygon points="173.16,177.91 173.9,177.91 173.9,178.53 173.16,178.53" fill="#ffb0b0" opacity="0.8"/>
<polygon points="180.09,185.97 181.19,185.97 181.19,187.01 180.09,187.01" fill="#ffffff" opacity="0.7"/>
<polygon points="175.74,183.73 176.97,183.73 176.97,184.79 175.74,184.79" fill="#ffc8c8" opacity="0.8"/>
<polygon points="173.56,183.89 174.36,183.89 174.36,184.84 173.56,184.84" fill="#ffc8c8" opacity="0.8"/>
<polygon points="177.95,183.8 178.97,183.8 178.97,184.51 177.95,184.51" fill="#ffffff" opacity="0.7"/>
<polygon points="181.33,181.94 182.61,181.94 182.61,182.89 181.33,182.89" fill="#ffb0b0" opacity="0.8"/>
<polygon points="170.88,186.43 172.01,186.43 172.01,187.17 170.88,187.17" fill="#ffc8c8" opacity="0.8"/>
<polygon points="172.75,191.89 173.74,191.89 173.74,192.89 172.75,192.89" fill="#ff8080" opacity="0.7"/>
<polygon points="172.99,192.33 173.75,192.33 173.75,193.08 172.99,193.08" fill="#6060ff" opacity="0.8"/>
<polygon points="174.81,192.34 175.9,192.34 175.9,193.33 174.81,193.33" fill="#6060ff" opacity="0.8"/>
<polygon points="177.12,192.21 178.03,192.21 178.03,193.09 177.12,193.09" fill="#ff8080" opacity="0.7"/>
<polygon points="172.28,191.82 173.43,191.82 173.43,192.58 172.28,192.58" fill="#ffd0d0" opacity="0.8"/>
<polygon points="170.47,189.71 171.53,189.71 171.53,190.38 170.47,190.38" fill="#ffd0d0" opacity="0.8"/>
<polygon points="171.96,193.09 172.71,193.09 172.71,193.99 171.96,193.99" fill="#ff8080" opacity="0.7"/>
<polygon points="173.84,190.99 175.16,190.99 175.16,191.95 173.84,191.95" fill="#6060ff" opacity="0.8"/>
<polygon points="172.41,190.48 173.38,190.48 173.38,191.19 172.41,191.19" fill="#ff8080" opacity="0.7"/>
<polygon points="171.49,189.77 172.24,189.77 172.24,190.48 171.49,190.48" fill="#ffd0d0" opacity="0.8"/>
<polygon points="164.03,192.21 165.14,192.21 165.14,193.13 164.03,193.13" fill="#c0c0ff"/>
<polygon points="165.3,189.08 166.09,189.08 166.09,189.94 165.3,189.94" fill="#c0c0ff"/>
<polygon points="160.8,183.88 161.58,183.88 161.58,184.8 160.8,184.8" fill="#ffffff"/>
<polygon points="164.79,192.8 166,192.8 166,193.75 164.79,193.75" fill="#1818ff"/>
<polygon points="165.85,191.38 166.78,191.38 166.78,192.1 165.85,192.1" fill="#1818ff"/>
<polygon points="165.5,187.71 166.62,187.71 166.62,188.72 165.5,188.72" fill="#ffffff"/>
<polygon points="163.72,189.3 164.93,189.3 164.93,190.27 163.72,190.27" fill="#1818ff"/>
<polygon points="166.1,189.83 167.08,189.83 167.08,190.77 166.1,190.77" fill="#c0c0ff"/>
<polygon points="163.01,183.86 164.04,183.86 164.04,184.59 163.01,184.59" fill="#c0c0ff"/>
<polygon points="162.48,188.55 163.74,188.55 163.74,189.42 162.48,189.42" fill="#ffffff"/>
<polygon points="163.11,187.95 164.25,187.95 164.25,188.62 163.11,188.62" fill="#c0c0ff"/>
<polygon points="162.28,188.9 163.23,188.9 163.23,189.84 162.28,189.84" fill="#ffffff"/>
<polygon points="162.16,174.54 162.77,174.54 162.77,175.03 162.16,175.03" fill="#0000ff"/>
<polygon points="139.07,177.71 139.93,177.71 139.93,178.42 139.07,178.42" fill="#0000ff"/>
<polygon points="154.46,172.27 155.08,172.27 155.08,173.02 154.46,173.02" fill="#5050ff"/>
<polygon points="144.95,178.75 145.53,178.75 145.53,179.4 144.95,179.4" fill="#0000ff"/>
<polygon points="133.91,178.8 134.62,178.8 134.62,179.3 133.91,179.3" fill="#0000ff"/>
<polygon points="135.35,177.46 135.99,177.46 135.99,178.28 135.35,178.28" fill="#3838ff"/>
<polygon points="162.58,174.77 163.52,174.77 163.52,175.27 162.58,175.27" fill="#0000ff"/>
<polygon points="151.6,173.83 152.42,173.83 152.42,174.58 151.6,174.58" fill="#0000ff"/>
<polygon points="149.96,182.53 150.78,182.53 150.78,183.18 149.96,183.18" fill="#ffffff" opacity="0.7"/>
<polygon points="141.56,178.86 142.41,178.86 142.41,179.46 141.56,179.46" fill="#ffffff" opacity="0.7"/>
<polygon points="172.79,239.65 173.54,239.65 173.54,240.16 172.79,240.16" fill="#ff6060"/>
<polygon points="172.93,238.12 173.76,238.12 173.76,238.78 172.93,238.78" fill="#ffffff" opacity="0.7"/>
<polygon points="173.12,240.48 174.06,240.48 174.06,241.1 173.12,241.1" fill="#ff6060"/>
<polygon points="173.07,239.69 173.83,239.69 173.83,240.27 173.07,240.27" fill="#ff3030"/>
<polygon points="168.5,242.58 169.51,242.58 169.51,243.38 168.5,243.38" fill="#ffffff" opacity="0.7"/>
<polygon points="176.09,236.72 176.75,236.72 176.75,237.37 176.09,237.37" fill="#ffffff" opacity="0.7"/>
<polygon points="166.83,240.48 167.41,240.48 167.41,241.06 166.83,241.06" fill="#1010ff"/>
<polygon points="180.36,236.18 181.22,236.18 181.22,236.89 180.36,236.89" fill="#ffffff" opacity="0.7"/>
<polygon points="182.67,235.18 183.34,235.18 183.34,235.82 182.67,235.82" fill="#ff6060"/>
<polygon points="177.82,236.02 178.79,236.02 178.79,236.7 177.82,236.7" fill="#ff6060"/>
</g>
</svg>
<rect x="44.4" y="159.1" width="199.4" height="106.2" fill="none" stroke="#000" stroke-width="0.5"/>
<line x1="44.4" y1="265.3" x2="44.4" y2="267.3" stroke="#000" stroke-width="0.5"/>
<text x="44.4" y="274.1" font-size="6.2" text-anchor="middle" fill="#000">0</text>
<line x1="72.89" y1="265.3" x2="72.89" y2="267.3" stroke="#000" stroke-width="0.5"/>
<text x="72.89" y="274.1" font-size="6.2" text-anchor="middle" fill="#000">10</text>
<line x1="101.37" y1="265.3" x2="101.37" y2="267.3" stroke="#000" stroke-width="0.5"/>
<text x="101.37" y="274.1" font-size="6.2" text-anchor="middle" fill="#000">20</text>
<line x1="129.86" y1="265.3" x2="129.86" y2="267.3" stroke="#000" stroke-width="0.5"/>
<text x="129.86" y="274.1" font-size="6.2" text-anchor="middle" fill="#000">30</text>
<line x1="158.34" y1="265.3" x2="158.34" y2="267.3" stroke="#000" stroke-width="0.5"/>
<text x="158.34" y="274.1" font-size="6.2" text-anchor="middle" fill="#000">40</text>
<line x1="186.83" y1="265.3" x2="186.83" y2="267.3" stroke="#000" stroke-width="0.5"/>
<text x="186.83" y="274.1" font-size="6.2" text-anchor="middle" fill="#000">50</text>
<line x1="215.31" y1="265.3" x2="215.31" y2="267.3" stroke="#000" stroke-width="0.5"/>
<text x="215.31" y="274.1" font-size="6.2" text-anchor="middle" fill="#000">60</text>
<line x1="243.8" y1="265.3" x2="243.8" y2="267.3" stroke="#000" stroke-width="0.5"/>
<text x="243.8" y="274.1" font-size="6.2" text-anchor="middle" fill="#000">70</text>
<line x1="42.4" y1="265.3" x2="44.4" y2="265.3" stroke="#000" stroke-width="0.5"/>
<text x="41" y="267.75" font-size="6.2" text-anchor="end" fill="#000">0</text>
<line x1="42.4" y1="251.06" x2="44.4" y2="251.06" stroke="#000" stroke-width="0.5"/>
<text x="41" y="253.51" font-size="6.2" text-anchor="end" fill="#000">5</text>
<line x1="42.4" y1="236.81" x2="44.4" y2="236.81" stroke="#000" stroke-width="0.5"/>
<text x="41" y="239.26" font-size="6.2" text-anchor="end" fill="#000">10</text>
<line x1="42.4" y1="222.57" x2="44.4" y2="222.57" stroke="#000" stroke-width="0.5"/>
<text x="41" y="225.02" font-size="6.2" text-anchor="end" fill="#000">15</text>
<line x1="42.4" y1="208.33" x2="44.4" y2="208.33" stroke="#000" stroke-width="0.5"/>
<text x="41" y="210.78" font-size="6.2" text-anchor="end" fill="#000">20</text>
<line x1="42.4" y1="194.09" x2="44.4" y2="194.09" stroke="#000" stroke-width="0.5"/>
<text x="41" y="196.54" font-size="6.2" text-anchor="end" fill="#000">25</text>
<line x1="42.4" y1="179.84" x2="44.4" y2="179.84" stroke="#000" stroke-width="0.5"/>
<text x="41" y="182.29" font-size="6.2" text-anchor="end" fill="#000">30</text>
<line x1="42.4" y1="165.6" x2="44.4" y2="165.6" stroke="#000" stroke-width="0.5"/>
<text x="41" y="168.05" font-size="6.2" text-anchor="end" fill="#000">35</text>
<text x="144.1" y="282.3" font-size="6.8" text-anchor="middle" fill="#000">X (Mm)</text>
<text x="144.1" y="155.7" font-size="9.15" text-anchor="middle" fill="#000">Fe XIX 108  true Doppler shift (km/s)</text>
<text transform="translate(29.7 212.2) rotate(-90)" font-size="6.8" text-anchor="middle" fill="#000">Y (Mm)</text>
<rect x="249.4" y="159.1" width="199.5" height="106.2" fill="#fff"/>
<svg x="249.4" y="159.1" width="199.5" height="106.2" viewBox="249.4 159.1 199.5 106.2" overflow="hidden">
<g filter="url(#soft)">
<polyline points="254.12,244.27 256.77,241.91 260.11,239.75" fill="none" stroke="#ff7474" stroke-width="1.28" stroke-linecap="round" stroke-linejoin="round"/>
<polyline points="262.57,235.92 262.86,235.42" fill="none" stroke="#ffb0b0" stroke-width="0.79" stroke-linecap="round" stroke-linejoin="round"/>
<polyline points="274.66,230.81 277.9,228.35 281.73,224.71" fill="none" stroke="#dcdcff" stroke-width="0.84" stroke-linecap="round" stroke-linejoin="round"/>
<polyline points="315.64,170.96 316.82,173.31 319.77,175.08 320.16,177.05 318.78,179.01 317.6,180.19" fill="none" stroke="#3030ff" stroke-width="0.88" stroke-linecap="round" stroke-linejoin="round"/>
<polygon points="315.24,170.76 316.42,170.37 317.8,173.31 316.42,174.3 315.24,173.12" fill="#2020ff"/>
<polyline points="317.51,164.86 317.7,165.45" fill="none" stroke="#6060ff" stroke-width="0.79" stroke-linecap="round" stroke-linejoin="round"/>
<polyline points="424.92,244.07 427.77,241.71 431.01,239.75" fill="none" stroke="#ff8888" stroke-width="1.28" stroke-linecap="round" stroke-linejoin="round"/>
<polyline points="434.36,235.23 435.34,233.85" fill="none" stroke="#ffc0c0" stroke-width="0.88" stroke-linecap="round" stroke-linejoin="round"/>
<polyline points="445.36,231.69 447.33,229.92 448.9,228.35" fill="none" stroke="#e0e0ff" stroke-width="0.93" stroke-linecap="round" stroke-linejoin="round"/>
<polygon points="335.88,177.83 339.81,177.24 343.74,177.54 347.68,177.93 351.12,178.03 353.08,176.85 354.06,174.2 355.05,171.25 356.72,170.17 359.47,170.46 362.42,172.04 365.37,173.51 366.54,172.92 368.12,173.31 368.51,176.16 367.13,177.44 365.86,176.26 363.4,174.39 359.96,172.72 357.9,172.72 356.72,174.69 355.93,177.64 355.34,179.21 356.32,181.57 359.17,184.12 358.58,185.11 356.52,184.12 354.16,181.77 352.59,180.59 349.64,180.98 346.69,180.88 343.74,179.8 339.81,179.31 336.08,179.21" fill="#2020ff" stroke="#2020ff" stroke-width="0.4" stroke-linejoin="round"/>
<polyline points="333.72,178.42 334.31,178.42" fill="none" stroke="#7070ff" stroke-width="0.79" stroke-linecap="round" stroke-linejoin="round"/>
<polyline points="344.53,175.38 345.12,174.98" fill="none" stroke="#7070ff" stroke-width="0.88" stroke-linecap="round" stroke-linejoin="round"/>
<polyline points="344.73,178.62 349.64,179.21 353.57,178.62" fill="none" stroke="#1010ff" stroke-width="0.88" stroke-linecap="round" stroke-linejoin="round"/>
<polyline points="354.56,175.18 355.73,171.94" fill="none" stroke="#1818ff" stroke-width="0.88" stroke-linecap="round" stroke-linejoin="round"/>
<polygon points="385.51,159.46 387.58,159.46 387.58,162.9 386.69,167.81 385.71,172.72 385.22,174.69 386.69,177.64 388.07,181.57 388.07,185.5 386.59,188.45 384.63,190.91 383.15,192.87 382.66,195.33 380.6,194.84 378.14,193.95 375.19,193.46 373.23,192.48 371.26,192.97 369.3,193.95 367.33,194.44 364.87,192.97 364.38,191 365.86,190.02 367.33,188.55 366.84,185.6 365.37,183.63 364.87,180.68 366.35,179.7 367.82,181.67 369.3,183.63 370.77,182.65 372.24,179.7 374.21,176.75 377.16,174.79 380.11,173.71 382.07,174.1 382.66,170.76 383.55,165.84 384.63,161.91" fill="#ece8ff" stroke="#ece8ff" stroke-width="0.5" stroke-linejoin="round"/>
<polyline points="382.56,159.16 383.84,160.14 385.22,161.13" fill="none" stroke="#1818ff" stroke-width="1.18" stroke-linecap="round" stroke-linejoin="round"/>
<polyline points="366.15,181.37 368.12,184.52 369.1,187.47 368.51,191.4" fill="none" stroke="#3838ff" stroke-width="1.28" stroke-linecap="round" stroke-linejoin="round"/>
<polyline points="366.84,183.04 368.51,185.99 369.49,188.94" fill="none" stroke="#2020ff" stroke-width="0.79" stroke-linecap="round" stroke-linejoin="round"/>
<polyline points="365.37,192.38 367.82,193.56" fill="none" stroke="#2020ff" stroke-width="1.38" stroke-linecap="round" stroke-linejoin="round"/>
<polyline points="369.3,190.41 370.48,192.87" fill="none" stroke="#9090ff" stroke-width="0.98" stroke-linecap="round" stroke-linejoin="round"/>
<polyline points="384.04,173.71 385.02,168.79 386,163.88 386.59,159.95" fill="none" stroke="#c8c8ff" stroke-width="1.47" stroke-linecap="round" stroke-linejoin="round"/>
<polyline points="385.61,166.83 386.4,161.91" fill="none" stroke="#a0a0ff" stroke-width="0.88" stroke-linecap="round" stroke-linejoin="round"/>
<polygon points="373.23,179.6 374.41,176.16 377.16,173.71 379.12,172.72 381.09,175.18 383.06,176.16 383.84,179.6 381.09,179.11 378.14,178.62 375.19,179.41" fill="#ff0808"/>
<polygon points="370.28,192.38 372.24,184.52 373.72,180.09 379.12,179.6 383.55,180.39 384.53,184.52 381.09,188.45 377.16,192.38 373.23,192.87" fill="#ffe2e2"/>
<polygon points="372.05,187.96 373.62,180.78 376.96,174.3 379.12,173.12 383.64,179.8 384.23,183.73 379.52,184.91 375.39,187.86" fill="#ff8a8a" opacity="0.75"/>
<polyline points="379.12,182.55 381.09,186.48" fill="none" stroke="#ffb0b0" stroke-width="1.57" stroke-linecap="round" stroke-linejoin="round"/>
<polyline points="371.26,191.4 373.23,185.5" fill="none" stroke="#ff7070" stroke-width="0.79" stroke-linecap="round" stroke-linejoin="round"/>
<polygon points="373.82,179.41 374.8,176.26 377.36,173.9 379.12,172.92 381.09,175.28 383.06,176.26 383.64,179.41 381.09,178.92 378.34,179.6 376.18,180.78" fill="#ff1414"/>
<polygon points="379.12,190.41 383.06,187.47 385.02,183.53 386,181.08 386.99,184.52 385.81,188.45 383.55,192.38 381.09,194.84 379.62,192.87" fill="#2828ff"/>
<polygon points="362.91,189.92 364.58,188.94 366.54,189.43 367.82,188.45 369.1,189.63 367.33,192.87 365.37,193.85 363.89,192.38" fill="#2020ff"/>
<polygon points="363.89,180.09 366.54,179.6 367.82,182.55 367.33,185.5 365.56,184.52 364.38,182.55" fill="#4040ff"/>
<polyline points="381.09,159.46 383.55,160.44 385.81,159.46" fill="none" stroke="#1818ff" stroke-width="1.38" stroke-linecap="round" stroke-linejoin="round"/>
<polygon points="393.37,174.49 395.04,173.9 396.81,174.69 397.01,178.62 396.03,181.37 394.85,180.78 393.67,179.11" fill="#ffc8c8"/>
<polyline points="394.36,176.16 394.65,178.62" fill="none" stroke="#ff7070" stroke-width="0.69" stroke-linecap="round" stroke-linejoin="round"/>
<polygon points="361.96,240.75 364.98,238.62 368.13,234.84 370.64,230.44 372.28,227.29 373.29,227.92 371.52,231.69 369.64,236.1 367.25,239.87 368.5,241.13 366.99,242.77 363.72,242.52 361.83,241.89" fill="#3030ff"/>
<polyline points="365.61,239.62 367.75,236.73" fill="none" stroke="#9090ff" stroke-width="0.98" stroke-linecap="round" stroke-linejoin="round"/>
<polyline points="367.75,236.73 369.26,233.83" fill="none" stroke="#c8c8ff" stroke-width="0.98" stroke-linecap="round" stroke-linejoin="round"/>
<polyline points="369.51,233.33 371.27,230.06" fill="none" stroke="#d8d8ff" stroke-width="0.98" stroke-linecap="round" stroke-linejoin="round"/>
<polyline points="369.51,234.84 370.52,236.73" fill="none" stroke="#2020ff" stroke-width="0.98" stroke-linecap="round" stroke-linejoin="round"/>
<polygon points="375.05,225.03 376.31,221.63 378.82,217.85 380.33,216.97 381.46,218.48 380.84,220.5 379.2,219.74 377.44,222.89 376.18,226.28" fill="#2828ff" stroke="#2828ff" stroke-width="0.35" stroke-linejoin="round"/>
<polyline points="379.58,217.48 380.33,217.73" fill="none" stroke="#2020ff" stroke-width="0.98" stroke-linecap="round" stroke-linejoin="round"/>
<polyline points="375.42,224.27 375.93,223.26" fill="none" stroke="#4040ff" stroke-width="0.79" stroke-linecap="round" stroke-linejoin="round"/>
<polygon points="383.23,224.77 384.11,224.77 385.24,228.55 386.75,231.07 388.39,234.84 389.01,236.85 387.76,236.22 386.5,234.97 386.75,238.11 385.24,239.37 383.35,238.74 381.46,240.63 379.58,243.15 377.69,241.89 375.17,243.15 372.03,245.03 371.27,243.77 373.29,241.26 370.77,240 373.91,238.62 377.69,236.73 381.46,234.84 384.11,232.45 383.86,228.55" fill="#d8d8ff" opacity="0.6" stroke="#d8d8ff" stroke-width="0.3" stroke-linejoin="round"/>
<polygon points="383.23,224.77 384.11,224.77 385.24,228.55 386.75,231.07 388.39,234.84 389.01,236.85 387.76,236.22 386.5,234.97 385.87,233.08 384.11,232.45 383.86,228.55" fill="#2828ff" stroke="#2828ff" stroke-width="0.3" stroke-linejoin="round"/>
<polygon points="382.85,239.12 386.62,238.11 389.64,238.62 389.27,240.63 385.11,241.01 382.35,240.63" fill="#3030ff"/>
<polyline points="371.9,244.4 373.54,241.64" fill="none" stroke="#5050ff" stroke-width="0.79" stroke-linecap="round" stroke-linejoin="round"/>
<polygon points="375.8,245.41 377.06,242.39 380.84,239.37 385.37,236.35 388.64,235.34 387.63,237.36 383.86,240.25 379.83,243.02" fill="#ff2020"/>
<polyline points="371.27,243.02 376.31,240.5 381.34,237.99" fill="none" stroke="#ff8080" stroke-width="0.49" stroke-linecap="round" stroke-linejoin="round"/>
<polyline points="387.38,227.92 387.63,225.4" fill="none" stroke="#ff9090" stroke-width="0.49" stroke-linecap="round" stroke-linejoin="round"/>
<polyline points="383.86,253.72 385.62,250.7 390.15,247.55" fill="none" stroke="#2828ff" stroke-width="1.18" stroke-linecap="round" stroke-linejoin="round"/>
<polyline points="384.61,251.7 385.24,255.23" fill="none" stroke="#3838ff" stroke-width="1.08" stroke-linecap="round" stroke-linejoin="round"/>
<polyline points="387.13,257.62 389.14,255.98 390.9,253.84" fill="none" stroke="#2828ff" stroke-width="1.18" stroke-linecap="round" stroke-linejoin="round"/>
<polygon points="380.08,260.38 383.23,259.76 385.87,260.38 387.5,262.65 387.76,265.29 380.33,265.29" fill="#1818ff"/>
<polyline points="383.23,261.89 384.48,264.41" fill="none" stroke="#8080ff" stroke-width="0.79" stroke-linecap="round" stroke-linejoin="round"/>
<polygon points="381.58,177.27 382.35,177.27 382.35,178.14 381.58,178.14" fill="#ffb0b0" opacity="0.8"/>
<polygon points="375.02,184.92 376.24,184.92 376.24,185.6 375.02,185.6" fill="#ffc8c8" opacity="0.8"/>
<polygon points="374.74,186.14 375.81,186.14 375.81,186.94 374.74,186.94" fill="#ffc8c8" opacity="0.8"/>
<polygon points="384.9,180.74 385.95,180.74 385.95,181.61 384.9,181.61" fill="#ffffff" opacity="0.7"/>
<polygon points="382.56,185.14 383.4,185.14 383.4,186.06 382.56,186.06" fill="#ffb0b0" opacity="0.8"/>
<polygon points="378.01,181.13 379.29,181.13 379.29,181.91 378.01,181.91" fill="#ffb0b0" opacity="0.8"/>
<polygon points="383.65,177.42 384.68,177.42 384.68,178.42 383.65,178.42" fill="#ff9090" opacity="0.8"/>
<polygon points="382.84,180.71 383.62,180.71 383.62,181.52 382.84,181.52" fill="#ffc8c8" opacity="0.8"/>
<polygon points="383.28,178.54 384.25,178.54 384.25,179.58 383.28,179.58" fill="#ffe8e8" opacity="0.8"/>
<polygon points="376.61,181.71 377.68,181.71 377.68,182.53 376.61,182.53" fill="#ffe8e8" opacity="0.8"/>
<polygon points="384.32,180.66 385.58,180.66 385.58,181.43 384.32,181.43" fill="#ffe8e8" opacity="0.8"/>
<polygon points="386.22,181.79 387,181.79 387,182.44 386.22,182.44" fill="#ffb0b0" opacity="0.8"/>
<polygon points="383.46,178.18 384.42,178.18 384.42,179.2 383.46,179.2" fill="#ffffff" opacity="0.7"/>
<polygon points="379.11,178.77 380.16,178.77 380.16,179.78 379.11,179.78" fill="#ffe8e8" opacity="0.8"/>
<polygon points="375.62,182.75 376.76,182.75 376.76,183.54 375.62,183.54" fill="#ff9090" opacity="0.8"/>
<polygon points="373.59,186.64 374.6,186.64 374.6,187.52 373.59,187.52" fill="#ffc8c8" opacity="0.8"/>
<polygon points="377.87,182.01 378.78,182.01 378.78,182.69 377.87,182.69" fill="#ffb0b0" opacity="0.8"/>
<polygon points="386.4,186.99 387.35,186.99 387.35,187.79 386.4,187.79" fill="#ffb0b0" opacity="0.8"/>
<polygon points="372.83,186.25 373.65,186.25 373.65,187.31 372.83,187.31" fill="#ffc8c8" opacity="0.8"/>
<polygon points="378.22,177.87 378.96,177.87 378.96,178.48 378.22,178.48" fill="#ffb0b0" opacity="0.8"/>
<polygon points="385.16,185.93 386.26,185.93 386.26,186.97 385.16,186.97" fill="#ffffff" opacity="0.7"/>
<polygon points="380.81,183.69 382.04,183.69 382.04,184.75 380.81,184.75" fill="#ffc8c8" opacity="0.8"/>
<polygon points="378.63,183.85 379.42,183.85 379.42,184.8 378.63,184.8" fill="#ffc8c8" opacity="0.8"/>
<polygon points="383.02,183.76 384.04,183.76 384.04,184.47 383.02,184.47" fill="#ffffff" opacity="0.7"/>
<polygon points="386.4,181.89 387.68,181.89 387.68,182.85 386.4,182.85" fill="#ffb0b0" opacity="0.8"/>
<polygon points="375.94,186.39 377.08,186.39 377.08,187.13 375.94,187.13" fill="#ffc8c8" opacity="0.8"/>
<polygon points="377.81,191.85 378.8,191.85 378.8,192.85 377.81,192.85" fill="#ff8080" opacity="0.7"/>
<polygon points="378.05,192.29 378.82,192.29 378.82,193.04 378.05,193.04" fill="#6060ff" opacity="0.8"/>
<polygon points="379.88,192.3 380.97,192.3 380.97,193.29 379.88,193.29" fill="#6060ff" opacity="0.8"/>
<polygon points="382.19,192.18 383.1,192.18 383.1,193.06 382.19,193.06" fill="#ff8080" opacity="0.7"/>
<polygon points="377.35,191.79 378.49,191.79 378.49,192.54 377.35,192.54" fill="#ffd0d0" opacity="0.8"/>
<polygon points="375.53,189.68 376.59,189.68 376.59,190.34 375.53,190.34" fill="#ffd0d0" opacity="0.8"/>
<polygon points="377.03,193.05 377.78,193.05 377.78,193.95 377.03,193.95" fill="#ff8080" opacity="0.7"/>
<polygon points="378.91,190.95 380.23,190.95 380.23,191.91 378.91,191.91" fill="#6060ff" opacity="0.8"/>
<polygon points="377.47,190.44 378.44,190.44 378.44,191.15 377.47,191.15" fill="#ff8080" opacity="0.7"/>
<polygon points="376.55,189.74 377.3,189.74 377.3,190.45 376.55,190.45" fill="#ffd0d0" opacity="0.8"/>
<polygon points="369.09,192.18 370.2,192.18 370.2,193.09 369.09,193.09" fill="#c0c0ff"/>
<polygon points="370.36,189.04 371.15,189.04 371.15,189.9 370.36,189.9" fill="#c0c0ff"/>
<polygon points="365.85,183.84 366.64,183.84 366.64,184.76 365.85,184.76" fill="#ffffff"/>
<polygon points="369.85,192.76 371.06,192.76 371.06,193.71 369.85,193.71" fill="#1818ff"/>
<polygon points="370.91,191.34 371.84,191.34 371.84,192.06 370.91,192.06" fill="#1818ff"/>
<polygon points="370.56,187.67 371.68,187.67 371.68,188.68 370.56,188.68" fill="#ffffff"/>
<polygon points="368.78,189.26 369.99,189.26 369.99,190.23 368.78,190.23" fill="#1818ff"/>
<polygon points="371.16,189.8 372.14,189.8 372.14,190.74 371.16,190.74" fill="#c0c0ff"/>
<polygon points="368.07,183.82 369.1,183.82 369.1,184.55 368.07,184.55" fill="#c0c0ff"/>
<polygon points="367.54,188.51 368.8,188.51 368.8,189.39 367.54,189.39" fill="#ffffff"/>
<polygon points="368.17,187.91 369.31,187.91 369.31,188.58 368.17,188.58" fill="#c0c0ff"/>
<polygon points="367.34,188.87 368.29,188.87 368.29,189.8 367.34,189.8" fill="#ffffff"/>
<polygon points="367.22,174.5 367.82,174.5 367.82,174.99 367.22,174.99" fill="#0000ff"/>
<polygon points="344.12,177.66 344.98,177.66 344.98,178.38 344.12,178.38" fill="#0000ff"/>
<polygon points="359.51,172.22 360.13,172.22 360.13,172.98 359.51,172.98" fill="#5050ff"/>
<polygon points="350,178.71 350.58,178.71 350.58,179.35 350,179.35" fill="#0000ff"/>
<polygon points="338.95,178.76 339.67,178.76 339.67,179.26 338.95,179.26" fill="#0000ff"/>
<polygon points="340.4,177.41 341.04,177.41 341.04,178.24 340.4,178.24" fill="#3838ff"/>
<polygon points="367.64,174.73 368.58,174.73 368.58,175.23 367.64,175.23" fill="#0000ff"/>
<polygon points="356.65,173.78 357.48,173.78 357.48,174.54 356.65,174.54" fill="#0000ff"/>
<polygon points="355.02,182.48 355.83,182.48 355.83,183.14 355.02,183.14" fill="#ffffff" opacity="0.7"/>
<polygon points="346.61,178.81 347.45,178.81 347.45,179.42 346.61,179.42" fill="#ffffff" opacity="0.7"/>
<polygon points="377.86,239.63 378.61,239.63 378.61,240.15 377.86,240.15" fill="#ff6060"/>
<polygon points="378,238.11 378.82,238.11 378.82,238.76 378,238.76" fill="#ffffff" opacity="0.7"/>
<polygon points="378.18,240.47 379.12,240.47 379.12,241.08 378.18,241.08" fill="#ff6060"/>
<polygon points="378.13,239.67 378.89,239.67 378.89,240.26 378.13,240.26" fill="#ff3030"/>
<polygon points="373.56,242.56 374.57,242.56 374.57,243.37 373.56,243.37" fill="#ffffff" opacity="0.7"/>
<polygon points="381.16,236.7 381.81,236.7 381.81,237.36 381.16,237.36" fill="#ffffff" opacity="0.7"/>
<polygon points="371.89,240.47 372.47,240.47 372.47,241.05 371.89,241.05" fill="#1010ff"/>
<polygon points="385.43,236.16 386.29,236.16 386.29,236.88 385.43,236.88" fill="#ffffff" opacity="0.7"/>
<polygon points="387.74,235.17 388.41,235.17 388.41,235.81 387.74,235.81" fill="#ff6060"/>
<polygon points="382.88,236.01 383.85,236.01 383.85,236.69 382.88,236.69" fill="#ff6060"/>
</g>
</svg>
<rect x="249.4" y="159.1" width="199.5" height="106.2" fill="none" stroke="#000" stroke-width="0.5"/>
<line x1="249.4" y1="265.3" x2="249.4" y2="267.3" stroke="#000" stroke-width="0.5"/>
<text x="249.4" y="274.1" font-size="6.2" text-anchor="middle" fill="#000">0</text>
<line x1="277.9" y1="265.3" x2="277.9" y2="267.3" stroke="#000" stroke-width="0.5"/>
<text x="277.9" y="274.1" font-size="6.2" text-anchor="middle" fill="#000">10</text>
<line x1="306.4" y1="265.3" x2="306.4" y2="267.3" stroke="#000" stroke-width="0.5"/>
<text x="306.4" y="274.1" font-size="6.2" text-anchor="middle" fill="#000">20</text>
<line x1="334.9" y1="265.3" x2="334.9" y2="267.3" stroke="#000" stroke-width="0.5"/>
<text x="334.9" y="274.1" font-size="6.2" text-anchor="middle" fill="#000">30</text>
<line x1="363.4" y1="265.3" x2="363.4" y2="267.3" stroke="#000" stroke-width="0.5"/>
<text x="363.4" y="274.1" font-size="6.2" text-anchor="middle" fill="#000">40</text>
<line x1="391.9" y1="265.3" x2="391.9" y2="267.3" stroke="#000" stroke-width="0.5"/>
<text x="391.9" y="274.1" font-size="6.2" text-anchor="middle" fill="#000">50</text>
<line x1="420.4" y1="265.3" x2="420.4" y2="267.3" stroke="#000" stroke-width="0.5"/>
<text x="420.4" y="274.1" font-size="6.2" text-anchor="middle" fill="#000">60</text>
<line x1="448.9" y1="265.3" x2="448.9" y2="267.3" stroke="#000" stroke-width="0.5"/>
<text x="448.9" y="274.1" font-size="6.2" text-anchor="middle" fill="#000">70</text>
<line x1="247.4" y1="265.3" x2="249.4" y2="265.3" stroke="#000" stroke-width="0.5"/>
<line x1="247.4" y1="251.05" x2="249.4" y2="251.05" stroke="#000" stroke-width="0.5"/>
<line x1="247.4" y1="236.8" x2="249.4" y2="236.8" stroke="#000" stroke-width="0.5"/>
<line x1="247.4" y1="222.55" x2="249.4" y2="222.55" stroke="#000" stroke-width="0.5"/>
<line x1="247.4" y1="208.3" x2="249.4" y2="208.3" stroke="#000" stroke-width="0.5"/>
<line x1="247.4" y1="194.05" x2="249.4" y2="194.05" stroke="#000" stroke-width="0.5"/>
<line x1="247.4" y1="179.8" x2="249.4" y2="179.8" stroke="#000" stroke-width="0.5"/>
<line x1="247.4" y1="165.55" x2="249.4" y2="165.55" stroke="#000" stroke-width="0.5"/>
<text x="349.15" y="282.3" font-size="6.8" text-anchor="middle" fill="#000">X (Mm)</text>
<text x="349.15" y="155.7" font-size="9.15" text-anchor="middle" fill="#000">Fe XIX 108  inverted doppler shift (km/s)</text>
<clipPath id="hc1"><rect x="455" y="158.3" width="199.4" height="107.1"/></clipPath>
<rect x="455" y="158.3" width="199.4" height="107.1" fill="#000"/>
<g filter="url(#hsoft)" clip-path="url(#hc1)">
<path fill="#080808" d="M458.32 241.22h3.37v1.78h-3.37zM468.29 187.67h3.37v1.78h-3.37zM481.59 194.58h3.37v1.78h-3.37zM488.23 223.94h3.37v1.78h-3.37zM511.5 220.49h3.37v1.78h-3.37zM511.5 223.94h3.37v1.78h-3.37zM528.11 201.49h3.37v1.78h-3.37zM554.7 220.49h3.37v1.78h-3.37zM591.26 210.12h3.37v1.78h-3.37zM614.52 213.58h3.37v1.78h-3.37zM627.81 215.3h3.37v1.78h-3.37z"/>
<path fill="#101010" d="M455 182.48h3.37v1.78h-3.37zM455 187.67h3.37v1.78h-3.37zM455 191.12h3.37v1.78h-3.37zM455 225.67h3.37v1.78h-3.37zM455 237.76h3.37v1.78h-3.37zM458.32 163.48h3.37v1.78h-3.37zM458.32 182.48h3.37v1.78h-3.37zM458.32 229.12h3.37v1.78h-3.37zM461.65 239.49h3.37v1.78h-3.37zM461.65 244.67h3.37v1.78h-3.37zM464.97 198.03h3.37v1.78h-3.37zM468.29 189.39h3.37v1.78h-3.37zM468.29 196.3h3.37v1.78h-3.37zM468.29 201.49h3.37v1.78h-3.37zM468.29 227.4h3.37v1.78h-3.37zM468.29 229.12h3.37v1.78h-3.37zM468.29 230.85h3.37v1.78h-3.37zM471.62 227.4h3.37v1.78h-3.37zM471.62 229.12h3.37v1.78h-3.37zM471.62 236.03h3.37v1.78h-3.37zM474.94 179.03h3.37v1.78h-3.37zM474.94 199.76h3.37v1.78h-3.37zM474.94 220.49h3.37v1.78h-3.37zM474.94 227.4h3.37v1.78h-3.37zM474.94 229.12h3.37v1.78h-3.37zM478.26 185.94h3.37v1.78h-3.37zM478.26 204.94h3.37v1.78h-3.37zM478.26 229.12h3.37v1.78h-3.37zM481.59 198.03h3.37v1.78h-3.37zM481.59 199.76h3.37v1.78h-3.37zM481.59 217.03h3.37v1.78h-3.37zM481.59 232.58h3.37v1.78h-3.37zM481.59 234.31h3.37v1.78h-3.37zM484.91 225.67h3.37v1.78h-3.37zM488.23 191.12h3.37v1.78h-3.37zM488.23 198.03h3.37v1.78h-3.37zM488.23 204.94h3.37v1.78h-3.37zM491.56 196.3h3.37v1.78h-3.37zM491.56 225.67h3.37v1.78h-3.37zM491.56 237.76h3.37v1.78h-3.37zM494.88 182.48h3.37v1.78h-3.37zM494.88 194.58h3.37v1.78h-3.37zM494.88 220.49h3.37v1.78h-3.37zM498.2 203.21h3.37v1.78h-3.37zM498.2 222.21h3.37v1.78h-3.37zM501.53 196.3h3.37v1.78h-3.37zM501.53 201.49h3.37v1.78h-3.37zM501.53 222.21h3.37v1.78h-3.37zM504.85 196.3h3.37v1.78h-3.37zM508.17 220.49h3.37v1.78h-3.37zM508.17 234.31h3.37v1.78h-3.37zM514.82 166.94h3.37v1.78h-3.37zM514.82 215.3h3.37v1.78h-3.37zM514.82 217.03h3.37v1.78h-3.37zM514.82 223.94h3.37v1.78h-3.37zM518.14 206.67h3.37v1.78h-3.37zM518.14 241.22h3.37v1.78h-3.37zM521.47 220.49h3.37v1.78h-3.37zM521.47 223.94h3.37v1.78h-3.37zM524.79 217.03h3.37v1.78h-3.37zM528.11 198.03h3.37v1.78h-3.37zM531.44 218.76h3.37v1.78h-3.37zM534.76 201.49h3.37v1.78h-3.37zM534.76 204.94h3.37v1.78h-3.37zM534.76 217.03h3.37v1.78h-3.37zM541.41 206.67h3.37v1.78h-3.37zM541.41 217.03h3.37v1.78h-3.37zM544.73 206.67h3.37v1.78h-3.37zM544.73 218.76h3.37v1.78h-3.37zM548.05 220.49h3.37v1.78h-3.37zM551.38 201.49h3.37v1.78h-3.37zM554.7 206.67h3.37v1.78h-3.37zM558.02 206.67h3.37v1.78h-3.37zM558.02 208.4h3.37v1.78h-3.37zM558.02 217.03h3.37v1.78h-3.37zM561.35 170.39h3.37v1.78h-3.37zM564.67 217.03h3.37v1.78h-3.37zM567.99 208.4h3.37v1.78h-3.37zM567.99 217.03h3.37v1.78h-3.37zM574.64 208.4h3.37v1.78h-3.37zM574.64 234.31h3.37v1.78h-3.37zM577.96 217.03h3.37v1.78h-3.37zM581.29 158.3h3.37v1.78h-3.37zM584.61 208.4h3.37v1.78h-3.37zM587.93 215.3h3.37v1.78h-3.37zM594.58 211.85h3.37v1.78h-3.37zM594.58 215.3h3.37v1.78h-3.37zM597.9 211.85h3.37v1.78h-3.37zM601.23 210.12h3.37v1.78h-3.37zM604.55 211.85h3.37v1.78h-3.37zM611.2 213.58h3.37v1.78h-3.37zM614.52 215.3h3.37v1.78h-3.37zM617.84 213.58h3.37v1.78h-3.37zM617.84 215.3h3.37v1.78h-3.37zM624.49 187.67h3.37v1.78h-3.37zM641.11 213.58h3.37v1.78h-3.37zM644.43 158.3h3.37v1.78h-3.37zM644.43 213.58h3.37v1.78h-3.37zM647.75 180.76h3.37v1.78h-3.37z"/>
<path fill="#181818" d="M455 192.85h3.37v1.78h-3.37zM455 218.76h3.37v1.78h-3.37zM455 232.58h3.37v1.78h-3.37zM455 234.31h3.37v1.78h-3.37zM458.32 184.21h3.37v1.78h-3.37zM458.32 187.67h3.37v1.78h-3.37zM461.65 194.58h3.37v1.78h-3.37zM461.65 203.21h3.37v1.78h-3.37zM461.65 241.22h3.37v1.78h-3.37zM464.97 187.67h3.37v1.78h-3.37zM464.97 230.85h3.37v1.78h-3.37zM468.29 217.03h3.37v1.78h-3.37zM468.29 220.49h3.37v1.78h-3.37zM468.29 232.58h3.37v1.78h-3.37zM471.62 232.58h3.37v1.78h-3.37zM474.94 196.3h3.37v1.78h-3.37zM474.94 203.21h3.37v1.78h-3.37zM478.26 198.03h3.37v1.78h-3.37zM481.59 220.49h3.37v1.78h-3.37zM484.91 201.49h3.37v1.78h-3.37zM488.23 196.3h3.37v1.78h-3.37zM488.23 225.67h3.37v1.78h-3.37zM491.56 222.21h3.37v1.78h-3.37zM494.88 222.21h3.37v1.78h-3.37zM494.88 225.67h3.37v1.78h-3.37zM494.88 236.03h3.37v1.78h-3.37zM498.2 170.39h3.37v1.78h-3.37zM498.2 220.49h3.37v1.78h-3.37zM501.53 204.94h3.37v1.78h-3.37zM501.53 215.3h3.37v1.78h-3.37zM508.17 204.94h3.37v1.78h-3.37zM511.5 206.67h3.37v1.78h-3.37zM511.5 217.03h3.37v1.78h-3.37zM518.14 220.49h3.37v1.78h-3.37zM518.14 222.21h3.37v1.78h-3.37zM524.79 208.4h3.37v1.78h-3.37zM531.44 215.3h3.37v1.78h-3.37zM541.41 204.94h3.37v1.78h-3.37zM541.41 208.4h3.37v1.78h-3.37zM551.38 260.22h3.37v1.78h-3.37zM554.7 182.48h3.37v1.78h-3.37zM554.7 208.4h3.37v1.78h-3.37zM561.35 211.85h3.37v1.78h-3.37zM561.35 215.3h3.37v1.78h-3.37zM567.99 204.94h3.37v1.78h-3.37zM571.32 206.67h3.37v1.78h-3.37zM574.64 173.85h3.37v1.78h-3.37zM574.64 215.3h3.37v1.78h-3.37zM584.61 210.12h3.37v1.78h-3.37zM587.93 210.12h3.37v1.78h-3.37zM587.93 211.85h3.37v1.78h-3.37zM587.93 218.76h3.37v1.78h-3.37zM594.58 210.12h3.37v1.78h-3.37zM601.23 211.85h3.37v1.78h-3.37zM601.23 213.58h3.37v1.78h-3.37zM601.23 215.3h3.37v1.78h-3.37zM604.55 213.58h3.37v1.78h-3.37zM607.87 211.85h3.37v1.78h-3.37zM607.87 261.95h3.37v1.78h-3.37zM627.81 213.58h3.37v1.78h-3.37zM634.46 213.58h3.37v1.78h-3.37z"/>
<path fill="#202020" d="M455 189.39h3.37v1.78h-3.37zM455 204.94h3.37v1.78h-3.37zM455 230.85h3.37v1.78h-3.37zM458.32 227.4h3.37v1.78h-3.37zM464.97 194.58h3.37v1.78h-3.37zM468.29 198.03h3.37v1.78h-3.37zM468.29 225.67h3.37v1.78h-3.37zM471.62 225.67h3.37v1.78h-3.37zM471.62 230.85h3.37v1.78h-3.37zM474.94 230.85h3.37v1.78h-3.37zM478.26 194.58h3.37v1.78h-3.37zM478.26 215.3h3.37v1.78h-3.37zM488.23 217.03h3.37v1.78h-3.37zM488.23 220.49h3.37v1.78h-3.37zM491.56 204.94h3.37v1.78h-3.37zM494.88 201.49h3.37v1.78h-3.37zM501.53 206.67h3.37v1.78h-3.37zM501.53 220.49h3.37v1.78h-3.37zM514.82 220.49h3.37v1.78h-3.37zM518.14 198.03h3.37v1.78h-3.37zM521.47 201.49h3.37v1.78h-3.37zM521.47 217.03h3.37v1.78h-3.37zM531.44 165.21h3.37v1.78h-3.37zM531.44 217.03h3.37v1.78h-3.37zM538.08 208.4h3.37v1.78h-3.37zM538.08 215.3h3.37v1.78h-3.37zM544.73 215.3h3.37v1.78h-3.37zM548.05 208.4h3.37v1.78h-3.37zM564.67 208.4h3.37v1.78h-3.37zM564.67 215.3h3.37v1.78h-3.37zM571.32 173.85h3.37v1.78h-3.37zM584.61 215.3h3.37v1.78h-3.37zM614.52 211.85h3.37v1.78h-3.37z"/>
<path fill="#282828" d="M458.32 203.21h3.37v1.78h-3.37zM461.65 220.49h3.37v1.78h-3.37zM461.65 225.67h3.37v1.78h-3.37zM461.65 230.85h3.37v1.78h-3.37zM471.62 194.58h3.37v1.78h-3.37zM481.59 196.3h3.37v1.78h-3.37zM484.91 206.67h3.37v1.78h-3.37zM491.56 217.03h3.37v1.78h-3.37zM494.88 223.94h3.37v1.78h-3.37zM498.2 218.76h3.37v1.78h-3.37zM501.53 203.21h3.37v1.78h-3.37zM508.17 203.21h3.37v1.78h-3.37zM514.82 218.76h3.37v1.78h-3.37zM518.14 213.58h3.37v1.78h-3.37zM531.44 210.12h3.37v1.78h-3.37zM534.76 208.4h3.37v1.78h-3.37zM538.08 210.12h3.37v1.78h-3.37zM571.32 213.58h3.37v1.78h-3.37zM571.32 215.3h3.37v1.78h-3.37zM577.96 210.12h3.37v1.78h-3.37zM577.96 213.58h3.37v1.78h-3.37zM587.93 213.58h3.37v1.78h-3.37zM597.9 210.12h3.37v1.78h-3.37zM597.9 215.3h3.37v1.78h-3.37z"/>
<path fill="#303030" d="M458.32 198.03h3.37v1.78h-3.37zM458.32 230.85h3.37v1.78h-3.37zM464.97 204.94h3.37v1.78h-3.37zM468.29 203.21h3.37v1.78h-3.37zM468.29 204.94h3.37v1.78h-3.37zM471.62 196.3h3.37v1.78h-3.37zM471.62 206.67h3.37v1.78h-3.37zM491.56 218.76h3.37v1.78h-3.37zM494.88 204.94h3.37v1.78h-3.37zM498.2 201.49h3.37v1.78h-3.37zM498.2 204.94h3.37v1.78h-3.37zM498.2 217.03h3.37v1.78h-3.37zM521.47 215.3h3.37v1.78h-3.37zM528.11 208.4h3.37v1.78h-3.37zM567.99 215.3h3.37v1.78h-3.37zM581.29 215.3h3.37v1.78h-3.37zM597.9 213.58h3.37v1.78h-3.37z"/>
<path fill="#383838" d="M461.65 198.03h3.37v1.78h-3.37zM464.97 213.58h3.37v1.78h-3.37zM464.97 220.49h3.37v1.78h-3.37zM471.62 220.49h3.37v1.78h-3.37zM478.26 201.49h3.37v1.78h-3.37zM491.56 206.67h3.37v1.78h-3.37zM494.88 217.03h3.37v1.78h-3.37zM498.2 206.67h3.37v1.78h-3.37zM498.2 215.3h3.37v1.78h-3.37zM504.85 215.3h3.37v1.78h-3.37zM508.17 206.67h3.37v1.78h-3.37zM544.73 208.4h3.37v1.78h-3.37zM551.38 215.3h3.37v1.78h-3.37zM571.32 210.12h3.37v1.78h-3.37z"/>
<path fill="#404040" d="M458.32 218.76h3.37v1.78h-3.37zM461.65 204.94h3.37v1.78h-3.37zM468.29 206.67h3.37v1.78h-3.37zM468.29 218.76h3.37v1.78h-3.37zM471.62 198.03h3.37v1.78h-3.37zM471.62 223.94h3.37v1.78h-3.37zM478.26 217.03h3.37v1.78h-3.37zM478.26 218.76h3.37v1.78h-3.37zM504.85 206.67h3.37v1.78h-3.37zM551.38 208.4h3.37v1.78h-3.37zM551.38 213.58h3.37v1.78h-3.37zM567.99 210.12h3.37v1.78h-3.37zM581.29 210.12h3.37v1.78h-3.37z"/>
<path fill="#484848" d="M488.23 218.76h3.37v1.78h-3.37zM518.14 211.85h3.37v1.78h-3.37zM518.14 215.3h3.37v1.78h-3.37zM534.76 210.12h3.37v1.78h-3.37zM548.05 215.3h3.37v1.78h-3.37z"/>
<path fill="#505050" d="M455 203.21h3.37v1.78h-3.37zM455 217.03h3.37v1.78h-3.37zM461.65 196.3h3.37v1.78h-3.37zM464.97 222.21h3.37v1.78h-3.37zM494.88 206.67h3.37v1.78h-3.37zM528.11 210.12h3.37v1.78h-3.37zM528.11 215.3h3.37v1.78h-3.37zM534.76 215.3h3.37v1.78h-3.37zM558.02 211.85h3.37v1.78h-3.37zM594.58 213.58h3.37v1.78h-3.37z"/>
<path fill="#585858" d="M464.97 203.21h3.37v1.78h-3.37zM508.17 215.3h3.37v1.78h-3.37zM511.5 208.4h3.37v1.78h-3.37zM511.5 215.3h3.37v1.78h-3.37zM534.76 213.58h3.37v1.78h-3.37zM554.7 215.3h3.37v1.78h-3.37zM574.64 210.12h3.37v1.78h-3.37z"/>
<path fill="#606060" d="M488.23 206.67h3.37v1.78h-3.37zM491.56 211.85h3.37v1.78h-3.37zM501.53 208.4h3.37v1.78h-3.37zM581.29 213.58h3.37v1.78h-3.37z"/>
<path fill="#686868" d="M455 201.49h3.37v1.78h-3.37zM481.59 208.4h3.37v1.78h-3.37zM484.91 204.94h3.37v1.78h-3.37zM521.47 210.12h3.37v1.78h-3.37zM541.41 215.3h3.37v1.78h-3.37zM544.73 211.85h3.37v1.78h-3.37zM558.02 215.3h3.37v1.78h-3.37zM561.35 213.58h3.37v1.78h-3.37zM591.26 215.3h3.37v1.78h-3.37z"/>
<path fill="#707070" d="M464.97 215.3h3.37v1.78h-3.37zM481.59 213.58h3.37v1.78h-3.37zM494.88 215.3h3.37v1.78h-3.37zM577.96 215.3h3.37v1.78h-3.37z"/>
<path fill="#787878" d="M461.65 217.03h3.37v1.78h-3.37zM478.26 208.4h3.37v1.78h-3.37zM481.59 206.67h3.37v1.78h-3.37zM491.56 208.4h3.37v1.78h-3.37zM508.17 208.4h3.37v1.78h-3.37zM514.82 208.4h3.37v1.78h-3.37zM518.14 208.4h3.37v1.78h-3.37zM577.96 211.85h3.37v1.78h-3.37z"/>
<path fill="#808080" d="M481.59 215.3h3.37v1.78h-3.37zM484.91 210.12h3.37v1.78h-3.37zM551.38 210.12h3.37v1.78h-3.37zM554.7 210.12h3.37v1.78h-3.37zM591.26 211.85h3.37v1.78h-3.37z"/>
<path fill="#888888" d="M461.65 199.76h3.37v1.78h-3.37zM464.97 217.03h3.37v1.78h-3.37zM474.94 210.12h3.37v1.78h-3.37zM484.91 208.4h3.37v1.78h-3.37zM521.47 213.58h3.37v1.78h-3.37zM567.99 211.85h3.37v1.78h-3.37z"/>
<path fill="#909090" d="M474.94 213.58h3.37v1.78h-3.37zM488.23 208.4h3.37v1.78h-3.37zM561.35 210.12h3.37v1.78h-3.37zM591.26 213.58h3.37v1.78h-3.37z"/>
<path fill="#989898" d="M491.56 215.3h3.37v1.78h-3.37zM558.02 213.58h3.37v1.78h-3.37z"/>
<path fill="#a0a0a0" d="M458.32 217.03h3.37v1.78h-3.37zM471.62 215.3h3.37v1.78h-3.37zM478.26 206.67h3.37v1.78h-3.37zM498.2 208.4h3.37v1.78h-3.37zM498.2 213.58h3.37v1.78h-3.37zM511.5 213.58h3.37v1.78h-3.37zM524.79 213.58h3.37v1.78h-3.37zM524.79 215.3h3.37v1.78h-3.37zM584.61 213.58h3.37v1.78h-3.37z"/>
<path fill="#a8a8a8" d="M574.64 211.85h3.37v1.78h-3.37z"/>
<path fill="#b0b0b0" d="M474.94 208.4h3.37v1.78h-3.37zM484.91 213.58h3.37v1.78h-3.37zM554.7 213.58h3.37v1.78h-3.37zM564.67 210.12h3.37v1.78h-3.37z"/>
<path fill="#b8b8b8" d="M484.91 215.3h3.37v1.78h-3.37zM488.23 215.3h3.37v1.78h-3.37zM584.61 211.85h3.37v1.78h-3.37z"/>
<path fill="#c8c8c8" d="M455 206.67h3.37v1.78h-3.37zM474.94 206.67h3.37v1.78h-3.37zM534.76 211.85h3.37v1.78h-3.37z"/>
<path fill="#d0d0d0" d="M501.53 213.58h3.37v1.78h-3.37zM531.44 211.85h3.37v1.78h-3.37z"/>
<path fill="#d8d8d8" d="M494.88 208.4h3.37v1.78h-3.37zM504.85 210.12h3.37v1.78h-3.37zM544.73 210.12h3.37v1.78h-3.37zM551.38 211.85h3.37v1.78h-3.37zM558.02 210.12h3.37v1.78h-3.37z"/>
<path fill="#e0e0e0" d="M464.97 206.67h3.37v1.78h-3.37zM471.62 208.4h3.37v1.78h-3.37zM471.62 213.58h3.37v1.78h-3.37z"/>
<path fill="#e8e8e8" d="M458.32 204.94h3.37v1.78h-3.37zM521.47 208.4h3.37v1.78h-3.37zM528.11 211.85h3.37v1.78h-3.37zM567.99 213.58h3.37v1.78h-3.37zM581.29 211.85h3.37v1.78h-3.37z"/>
<path fill="#f0f0f0" d="M524.79 210.12h3.37v1.78h-3.37zM544.73 213.58h3.37v1.78h-3.37z"/>
<path fill="#f8f8f8" d="M468.29 215.3h3.37v1.78h-3.37zM498.2 210.12h3.37v1.78h-3.37z"/>
<path fill="#ffffff" d="M455 208.4h3.37v1.78h-3.37zM455 210.12h3.37v1.78h-3.37zM455 211.85h3.37v1.78h-3.37zM455 213.58h3.37v1.78h-3.37zM455 215.3h3.37v1.78h-3.37zM458.32 206.67h3.37v1.78h-3.37zM458.32 208.4h3.37v1.78h-3.37zM458.32 210.12h3.37v1.78h-3.37zM458.32 211.85h3.37v1.78h-3.37zM458.32 213.58h3.37v1.78h-3.37zM458.32 215.3h3.37v1.78h-3.37zM461.65 206.67h3.37v1.78h-3.37zM461.65 208.4h3.37v1.78h-3.37zM461.65 210.12h3.37v1.78h-3.37zM461.65 211.85h3.37v1.78h-3.37zM461.65 213.58h3.37v1.78h-3.37zM461.65 215.3h3.37v1.78h-3.37zM464.97 208.4h3.37v1.78h-3.37zM464.97 210.12h3.37v1.78h-3.37zM464.97 211.85h3.37v1.78h-3.37zM468.29 208.4h3.37v1.78h-3.37zM468.29 210.12h3.37v1.78h-3.37zM468.29 211.85h3.37v1.78h-3.37zM468.29 213.58h3.37v1.78h-3.37zM471.62 210.12h3.37v1.78h-3.37zM471.62 211.85h3.37v1.78h-3.37zM474.94 211.85h3.37v1.78h-3.37zM474.94 215.3h3.37v1.78h-3.37zM478.26 210.12h3.37v1.78h-3.37zM478.26 211.85h3.37v1.78h-3.37zM478.26 213.58h3.37v1.78h-3.37zM481.59 210.12h3.37v1.78h-3.37zM481.59 211.85h3.37v1.78h-3.37zM484.91 211.85h3.37v1.78h-3.37zM488.23 210.12h3.37v1.78h-3.37zM488.23 211.85h3.37v1.78h-3.37zM488.23 213.58h3.37v1.78h-3.37zM491.56 210.12h3.37v1.78h-3.37zM491.56 213.58h3.37v1.78h-3.37zM494.88 210.12h3.37v1.78h-3.37zM494.88 211.85h3.37v1.78h-3.37zM494.88 213.58h3.37v1.78h-3.37zM498.2 211.85h3.37v1.78h-3.37zM501.53 210.12h3.37v1.78h-3.37zM501.53 211.85h3.37v1.78h-3.37zM504.85 208.4h3.37v1.78h-3.37zM504.85 211.85h3.37v1.78h-3.37zM504.85 213.58h3.37v1.78h-3.37zM508.17 210.12h3.37v1.78h-3.37zM508.17 211.85h3.37v1.78h-3.37zM508.17 213.58h3.37v1.78h-3.37zM511.5 210.12h3.37v1.78h-3.37zM511.5 211.85h3.37v1.78h-3.37zM514.82 210.12h3.37v1.78h-3.37zM514.82 211.85h3.37v1.78h-3.37zM514.82 213.58h3.37v1.78h-3.37zM518.14 210.12h3.37v1.78h-3.37zM521.47 211.85h3.37v1.78h-3.37zM524.79 211.85h3.37v1.78h-3.37zM528.11 213.58h3.37v1.78h-3.37zM531.44 213.58h3.37v1.78h-3.37zM538.08 211.85h3.37v1.78h-3.37zM538.08 213.58h3.37v1.78h-3.37zM541.41 210.12h3.37v1.78h-3.37zM541.41 211.85h3.37v1.78h-3.37zM541.41 213.58h3.37v1.78h-3.37zM548.05 210.12h3.37v1.78h-3.37zM548.05 211.85h3.37v1.78h-3.37zM548.05 213.58h3.37v1.78h-3.37zM554.7 211.85h3.37v1.78h-3.37zM564.67 211.85h3.37v1.78h-3.37zM564.67 213.58h3.37v1.78h-3.37zM571.32 211.85h3.37v1.78h-3.37zM574.64 213.58h3.37v1.78h-3.37z"/>
</g>
<line x1="455" y1="171.9" x2="654.4" y2="171.9" stroke="#dc0000" stroke-width="1.0"/>
<line x1="455" y1="252.3" x2="654.4" y2="252.3" stroke="#dc0000" stroke-width="1.0"/>
<line x1="455" y1="265.4" x2="455" y2="267.4" stroke="#000" stroke-width="0.5"/>
<text x="455" y="274" font-size="5.8" text-anchor="middle" fill="#000">2.0</text>
<line x1="495.43" y1="265.4" x2="495.43" y2="267.4" stroke="#000" stroke-width="0.5"/>
<text x="495.43" y="274" font-size="5.8" text-anchor="middle" fill="#000">2.5</text>
<line x1="535.86" y1="265.4" x2="535.86" y2="267.4" stroke="#000" stroke-width="0.5"/>
<text x="535.86" y="274" font-size="5.8" text-anchor="middle" fill="#000">3.0</text>
<line x1="576.29" y1="265.4" x2="576.29" y2="267.4" stroke="#000" stroke-width="0.5"/>
<text x="576.29" y="274" font-size="5.8" text-anchor="middle" fill="#000">3.5</text>
<line x1="616.72" y1="265.4" x2="616.72" y2="267.4" stroke="#000" stroke-width="0.5"/>
<text x="616.72" y="274" font-size="5.8" text-anchor="middle" fill="#000">4.0</text>
<line x1="654.4" y1="158.5" x2="656.4" y2="158.5" stroke="#000" stroke-width="0.5"/>
<text x="657.7" y="160.6" font-size="5.8" text-anchor="start" fill="#000">40</text>
<line x1="654.4" y1="171.9" x2="656.4" y2="171.9" stroke="#000" stroke-width="0.5"/>
<text x="657.7" y="174" font-size="5.8" text-anchor="start" fill="#000">30</text>
<line x1="654.4" y1="185.3" x2="656.4" y2="185.3" stroke="#000" stroke-width="0.5"/>
<text x="657.7" y="187.4" font-size="5.8" text-anchor="start" fill="#000">20</text>
<line x1="654.4" y1="198.7" x2="656.4" y2="198.7" stroke="#000" stroke-width="0.5"/>
<text x="657.7" y="200.8" font-size="5.8" text-anchor="start" fill="#000">10</text>
<line x1="654.4" y1="212.1" x2="656.4" y2="212.1" stroke="#000" stroke-width="0.5"/>
<text x="657.7" y="214.2" font-size="5.8" text-anchor="start" fill="#000">0</text>
<line x1="654.4" y1="225.5" x2="656.4" y2="225.5" stroke="#000" stroke-width="0.5"/>
<text x="657.7" y="227.6" font-size="5.8" text-anchor="start" fill="#000">−10</text>
<line x1="654.4" y1="238.9" x2="656.4" y2="238.9" stroke="#000" stroke-width="0.5"/>
<text x="657.7" y="241" font-size="5.8" text-anchor="start" fill="#000">−20</text>
<line x1="654.4" y1="252.3" x2="656.4" y2="252.3" stroke="#000" stroke-width="0.5"/>
<text x="657.7" y="254.4" font-size="5.8" text-anchor="start" fill="#000">−30</text>
<line x1="654.4" y1="265.7" x2="656.4" y2="265.7" stroke="#000" stroke-width="0.5"/>
<text x="657.7" y="267.8" font-size="5.8" text-anchor="start" fill="#000">−40</text>
<text x="554.7" y="282.4" font-size="6.8" text-anchor="middle" fill="#000">Fe XIX 108 Log(intensity (DN))</text>
<text x="554.7" y="154.9" font-size="9.15" text-anchor="middle" fill="#000">2D Histogram</text>
<text transform="translate(670.8 212.15) rotate(90)" font-size="6.84" text-anchor="middle" fill="#000">Fe XIX 108  |<tspan font-style="italic">v</tspan><tspan font-style="italic" font-size="4.8" dy="1.2">FIT</tspan><tspan dy="-1.2"> − </tspan><tspan font-style="italic">v</tspan><tspan font-style="italic" font-size="4.8" dy="1.2">TRUE</tspan><tspan dy="-1.2">| (km/s)</tspan></text>
<rect x="678.4" y="154.2" width="5.2" height="126.8" fill="url(#gray)" stroke="#222" stroke-width="0.5"/>
<line x1="683.6" y1="160.6" x2="685.6" y2="160.6" stroke="#000" stroke-width="0.5"/>
<text x="687.2" y="162.65" font-size="5.8" text-anchor="start" fill="#000">17.5</text>
<line x1="683.6" y1="177.8" x2="685.6" y2="177.8" stroke="#000" stroke-width="0.5"/>
<text x="687.2" y="179.85" font-size="5.8" text-anchor="start" fill="#000">15.0</text>
<line x1="683.6" y1="195" x2="685.6" y2="195" stroke="#000" stroke-width="0.5"/>
<text x="687.2" y="197.05" font-size="5.8" text-anchor="start" fill="#000">12.5</text>
<line x1="683.6" y1="212.2" x2="685.6" y2="212.2" stroke="#000" stroke-width="0.5"/>
<text x="687.2" y="214.25" font-size="5.8" text-anchor="start" fill="#000">10.0</text>
<line x1="683.6" y1="229.4" x2="685.6" y2="229.4" stroke="#000" stroke-width="0.5"/>
<text x="687.2" y="231.45" font-size="5.8" text-anchor="start" fill="#000">7.5</text>
<line x1="683.6" y1="246.6" x2="685.6" y2="246.6" stroke="#000" stroke-width="0.5"/>
<text x="687.2" y="248.65" font-size="5.8" text-anchor="start" fill="#000">5.0</text>
<line x1="683.6" y1="263.8" x2="685.6" y2="263.8" stroke="#000" stroke-width="0.5"/>
<text x="687.2" y="265.85" font-size="5.8" text-anchor="start" fill="#000">2.5</text>
</g>
<g id="row3">
<rect x="15.6" y="299" width="4.8" height="127.4" fill="url(#jet)" stroke="#222" stroke-width="0.5"/>
<line x1="13.6" y1="309.8" x2="15.6" y2="309.8" stroke="#000" stroke-width="0.5"/>
<text x="12.2" y="312" font-size="6.05" text-anchor="end" fill="#000">140</text>
<line x1="13.6" y1="331" x2="15.6" y2="331" stroke="#000" stroke-width="0.5"/>
<text x="12.2" y="333.2" font-size="6.05" text-anchor="end" fill="#000">120</text>
<line x1="13.6" y1="352.2" x2="15.6" y2="352.2" stroke="#000" stroke-width="0.5"/>
<text x="12.2" y="354.4" font-size="6.05" text-anchor="end" fill="#000">100</text>
<line x1="13.6" y1="373.4" x2="15.6" y2="373.4" stroke="#000" stroke-width="0.5"/>
<text x="12.2" y="375.6" font-size="6.05" text-anchor="end" fill="#000">80</text>
<line x1="13.6" y1="394.6" x2="15.6" y2="394.6" stroke="#000" stroke-width="0.5"/>
<text x="12.2" y="396.8" font-size="6.05" text-anchor="end" fill="#000">60</text>
<line x1="13.6" y1="415.8" x2="15.6" y2="415.8" stroke="#000" stroke-width="0.5"/>
<text x="12.2" y="418" font-size="6.05" text-anchor="end" fill="#000">40</text>
<rect x="39.4" y="303.65" width="200.8" height="107.15" fill="#fff"/>
<svg x="39.4" y="303.65" width="200.8" height="107.15" viewBox="39.4 303.65 200.8 107.15" overflow="hidden">
<g filter="url(#soft)">
<polyline points="44.15,389.63 46.82,387.26 50.18,385.08" fill="none" stroke="#30d8f0" stroke-width="1.29" stroke-linecap="round" stroke-linejoin="round"/>
<polyline points="52.65,381.22 52.95,380.73" fill="none" stroke="#60b0ff" stroke-width="0.79" stroke-linecap="round" stroke-linejoin="round"/>
<polyline points="64.82,376.08 68.09,373.61 71.94,369.95" fill="none" stroke="#3080ff" stroke-width="0.84" stroke-linecap="round" stroke-linejoin="round"/>
<polyline points="64.82,376.08 67.1,374.4" fill="none" stroke="#30d0f0" stroke-width="0.84" stroke-linecap="round" stroke-linejoin="round"/>
<polyline points="106.07,315.84 107.26,318.21 110.22,319.99 110.62,321.97 109.23,323.95 108.05,325.14" fill="none" stroke="#40b0ff" stroke-width="0.89" stroke-linecap="round" stroke-linejoin="round"/>
<polygon points="105.67,315.64 106.86,315.25 108.25,318.21 106.86,319.2 105.67,318.02" fill="#ff6a10"/>
<polyline points="106.66,318.02 107.85,318.61" fill="none" stroke="#2030a0" stroke-width="0.89" stroke-linecap="round" stroke-linejoin="round"/>
<polyline points="107.95,309.71 108.15,310.3" fill="none" stroke="#40c0ff" stroke-width="0.79" stroke-linecap="round" stroke-linejoin="round"/>
<polyline points="216.06,389.43 218.93,387.06 222.2,385.08" fill="none" stroke="#30d0e8" stroke-width="1.29" stroke-linecap="round" stroke-linejoin="round"/>
<polyline points="225.56,380.53 226.55,379.15" fill="none" stroke="#4080ff" stroke-width="0.89" stroke-linecap="round" stroke-linejoin="round"/>
<polyline points="236.64,376.97 238.62,375.19 240.2,373.61" fill="none" stroke="#50e0a0" stroke-width="0.94" stroke-linecap="round" stroke-linejoin="round"/>
<polygon points="126.45,322.76 130.4,322.17 134.36,322.47 138.32,322.86 141.78,322.96 143.76,321.78 144.75,319.1 145.73,316.14 147.42,315.05 150.19,315.35 153.15,316.93 156.12,318.41 157.31,317.82 158.89,318.21 159.29,321.08 157.9,322.37 156.62,321.18 154.14,319.3 150.68,317.62 148.6,317.62 147.42,319.6 146.63,322.57 146.03,324.15 147.02,326.52 149.89,329.1 149.3,330.08 147.22,329.1 144.84,326.72 143.26,325.53 140.29,325.93 137.33,325.83 134.36,324.74 130.4,324.25 126.64,324.15" fill="#2898ff" stroke="#2898ff" stroke-width="0.4" stroke-linejoin="round"/>
<polyline points="124.27,323.36 124.86,323.36" fill="none" stroke="#40c0ff" stroke-width="0.79" stroke-linecap="round" stroke-linejoin="round"/>
<polyline points="135.15,320.29 135.74,319.9" fill="none" stroke="#40a0ff" stroke-width="0.89" stroke-linecap="round" stroke-linejoin="round"/>
<polyline points="135.35,323.56 140.29,324.15 144.25,323.56" fill="none" stroke="#60e0c0" stroke-width="0.89" stroke-linecap="round" stroke-linejoin="round"/>
<polyline points="145.24,320.09 146.43,316.83" fill="none" stroke="#80f0a0" stroke-width="0.89" stroke-linecap="round" stroke-linejoin="round"/>
<polyline points="127.04,323.36 132.38,323.16" fill="none" stroke="#40d8e0" stroke-width="0.89" stroke-linecap="round" stroke-linejoin="round"/>
<polyline points="138.32,323.56 139.31,323.65" fill="none" stroke="#ff6000" stroke-width="0.79" stroke-linecap="round" stroke-linejoin="round"/>
<polygon points="176.4,304.27 178.48,304.27 178.48,307.73 177.59,312.68 176.6,317.62 176.1,319.6 177.59,322.57 178.97,326.52 178.97,330.48 177.49,333.45 175.51,335.92 174.03,337.9 173.53,340.37 171.45,339.88 168.98,338.99 166.01,338.49 164.03,337.5 162.06,338 160.08,338.99 158.1,339.48 155.63,338 155.13,336.02 156.62,335.03 158.1,333.55 157.6,330.58 156.12,328.6 155.63,325.63 157.11,324.64 158.59,326.62 160.08,328.6 161.56,327.61 163.05,324.64 165.02,321.68 167.99,319.7 170.96,318.61 172.94,319.01 173.53,315.64 174.42,310.7 175.51,306.74" fill="#0058ff" stroke="#0058ff" stroke-width="0.5" stroke-linejoin="round"/>
<polyline points="176.4,304.27 178.48,304.27 178.48,307.73 177.59,312.68 176.6,317.62 176.1,319.6 177.59,322.57 178.97,326.52 178.97,330.48 177.49,333.45 175.51,335.92 174.03,337.9 173.53,340.37 171.45,339.88 168.98,338.99 166.01,338.49 164.03,337.5 162.06,338 160.08,338.99 158.1,339.48 155.63,338 155.13,336.02 156.62,335.03 158.1,333.55 157.6,330.58 156.12,328.6 155.63,325.63 157.11,324.64 158.59,326.62 160.08,328.6 161.56,327.61 163.05,324.64 165.02,321.68 167.99,319.7 170.96,318.61 172.94,319.01 173.53,315.64 174.42,310.7 175.51,306.74 176.4,304.27" fill="none" stroke="#36a6ff" stroke-width="0.99" stroke-linecap="round" stroke-linejoin="round"/>
<polyline points="173.43,303.97 174.72,304.96 176.1,305.95" fill="none" stroke="#30a0ff" stroke-width="1.19" stroke-linecap="round" stroke-linejoin="round"/>
<polygon points="155.33,325.34 157.31,324.35 159.09,326.33 160.47,328.7 161.86,329.49 162.06,338 160.08,338.99 158.1,339.48 155.63,338 155.13,336.02 156.71,335.03 158.1,333.45 157.51,330.68 155.92,328.7" fill="#0848f8" stroke="#0848f8" stroke-width="0.3" stroke-linejoin="round"/>
<polyline points="156.91,326.33 158.89,329.49 159.88,332.46 159.29,336.41" fill="none" stroke="#0020e0" stroke-width="1.29" stroke-linecap="round" stroke-linejoin="round"/>
<polyline points="157.6,328.01 159.29,330.97 160.28,333.94" fill="none" stroke="#e0f040" stroke-width="0.79" stroke-linecap="round" stroke-linejoin="round"/>
<polyline points="159.68,331.67 160.08,332.46" fill="none" stroke="#ff8000" stroke-width="0.79" stroke-linecap="round" stroke-linejoin="round"/>
<polyline points="156.12,337.4 158.59,338.59" fill="none" stroke="#40c0ff" stroke-width="1.38" stroke-linecap="round" stroke-linejoin="round"/>
<polyline points="160.08,335.43 161.26,337.9" fill="none" stroke="#40e0c0" stroke-width="0.99" stroke-linecap="round" stroke-linejoin="round"/>
<polyline points="158.5,334.44 159.29,338.59" fill="none" stroke="#30c0ff" stroke-width="1.09" stroke-linecap="round" stroke-linejoin="round"/>
<polyline points="156.32,325.73 157.11,327.51" fill="none" stroke="#40b0ff" stroke-width="0.99" stroke-linecap="round" stroke-linejoin="round"/>
<polyline points="174.92,318.61 175.9,313.66 176.89,308.72 177.49,304.76" fill="none" stroke="#1070ff" stroke-width="1.48" stroke-linecap="round" stroke-linejoin="round"/>
<polyline points="176.5,311.69 177.29,306.74" fill="none" stroke="#30b0ff" stroke-width="0.89" stroke-linecap="round" stroke-linejoin="round"/>
<polyline points="163.24,325.14 165.22,321.97 168.19,319.99 171.16,319.01" fill="none" stroke="#30a8ff" stroke-width="0.79" stroke-linecap="round" stroke-linejoin="round"/>
<polyline points="178.87,327.02 178.87,330.48 177.29,333.65 173.93,338.2" fill="none" stroke="#30b0ff" stroke-width="0.89" stroke-linecap="round" stroke-linejoin="round"/>
<polyline points="162.06,338.2 166.01,338.79 171.45,340.07" fill="none" stroke="#28a0ff" stroke-width="0.89" stroke-linecap="round" stroke-linejoin="round"/>
<polyline points="158.1,333.45 159.58,335.43 158.1,338.59" fill="none" stroke="#0018c8" stroke-width="1.19" stroke-linecap="round" stroke-linejoin="round"/>
<polyline points="157.31,324.05 158.1,325.73" fill="none" stroke="#f0f040" stroke-width="0.79" stroke-linecap="round" stroke-linejoin="round"/>
<polygon points="184.31,319.4 185.99,318.81 187.77,319.6 187.97,323.56 186.98,326.33 185.8,325.73 184.61,324.05" fill="#1060ff"/>
<polyline points="185.3,321.08 185.6,323.56" fill="none" stroke="#0848f0" stroke-width="0.69" stroke-linecap="round" stroke-linejoin="round"/>
<polygon points="152.69,386.09 155.73,383.94 158.9,380.14 161.43,375.71 163.08,372.54 164.09,373.18 162.32,376.98 160.42,381.41 158.01,385.21 159.28,386.47 157.76,388.12 154.47,387.87 152.57,387.23" fill="#2080ff"/>
<polyline points="156.37,384.95 158.52,382.04" fill="none" stroke="#40e0e0" stroke-width="0.99" stroke-linecap="round" stroke-linejoin="round"/>
<polyline points="158.52,382.04 160.04,379.13" fill="none" stroke="#2890ff" stroke-width="0.99" stroke-linecap="round" stroke-linejoin="round"/>
<polyline points="160.29,378.62 162.07,375.33" fill="none" stroke="#2080ff" stroke-width="0.99" stroke-linecap="round" stroke-linejoin="round"/>
<polyline points="160.29,380.14 161.31,382.04" fill="none" stroke="#0030e0" stroke-width="0.99" stroke-linecap="round" stroke-linejoin="round"/>
<polygon points="165.87,370.26 167.13,366.84 169.67,363.04 171.19,362.16 172.33,363.68 171.69,365.7 170.05,364.94 168.27,368.11 167.01,371.53" fill="#30a8ff" stroke="#30a8ff" stroke-width="0.35" stroke-linejoin="round"/>
<polyline points="170.43,362.66 171.19,362.92" fill="none" stroke="#60e8e0" stroke-width="0.99" stroke-linecap="round" stroke-linejoin="round"/>
<polyline points="166.25,369.5 166.75,368.49" fill="none" stroke="#40ffa0" stroke-width="0.79" stroke-linecap="round" stroke-linejoin="round"/>
<polygon points="174.1,370.01 174.98,370.01 176.12,373.81 177.64,376.34 179.29,380.14 179.92,382.17 178.66,381.54 177.39,380.27 177.64,383.44 176.12,384.7 174.23,384.07 172.33,385.97 170.43,388.5 168.53,387.23 165.99,388.5 162.83,390.4 162.07,389.13 164.09,386.6 161.56,385.33 164.73,383.94 168.53,382.04 172.33,380.14 174.98,377.74 174.73,373.81" fill="#1070ff" stroke="#1070ff" stroke-width="0.3" stroke-linejoin="round"/>
<polyline points="174.1,370.01 174.98,370.01 176.12,373.81 177.64,376.34 179.29,380.14 179.92,382.17 178.66,381.54 177.39,380.27 177.64,383.44 176.12,384.7 174.23,384.07 172.33,385.97 170.43,388.5 168.53,387.23 165.99,388.5 162.83,390.4 162.07,389.13 164.09,386.6 161.56,385.33 164.73,383.94 168.53,382.04 172.33,380.14 174.98,377.74 174.73,373.81 174.1,370.01" fill="none" stroke="#40b8ff" stroke-width="0.69" stroke-linecap="round" stroke-linejoin="round"/>
<polyline points="167.13,384.57 170.93,382.68 174.48,380.14" fill="none" stroke="#0040f0" stroke-width="1.29" stroke-linecap="round" stroke-linejoin="round"/>
<polyline points="174.73,373.18 175.49,376.98" fill="none" stroke="#30c0ff" stroke-width="0.79" stroke-linecap="round" stroke-linejoin="round"/>
<polyline points="173.47,383.31 175.36,380.14 176.25,377.61" fill="none" stroke="#ff5000" stroke-width="0.79" stroke-linecap="round" stroke-linejoin="round"/>
<polyline points="171.57,384.57 173.21,382.93" fill="none" stroke="#e0f040" stroke-width="0.69" stroke-linecap="round" stroke-linejoin="round"/>
<polyline points="174.73,399.14 176.5,396.1 181.06,392.93" fill="none" stroke="#3080ff" stroke-width="1.19" stroke-linecap="round" stroke-linejoin="round"/>
<polyline points="175.49,397.11 176.12,400.66" fill="none" stroke="#3070ff" stroke-width="1.09" stroke-linecap="round" stroke-linejoin="round"/>
<polyline points="178.02,403.07 180.05,401.42 181.82,399.27" fill="none" stroke="#40a0ff" stroke-width="1.19" stroke-linecap="round" stroke-linejoin="round"/>
<polyline points="177.52,395.59 178.53,394.83" fill="none" stroke="#ff6000" stroke-width="0.69" stroke-linecap="round" stroke-linejoin="round"/>
<polygon points="170.93,405.85 174.1,405.22 176.76,405.85 178.4,408.13 178.66,410.79 171.19,410.79" fill="#0838f0"/>
<polyline points="174.1,407.37 175.36,409.91" fill="none" stroke="#60a0ff" stroke-width="0.79" stroke-linecap="round" stroke-linejoin="round"/>
<polygon points="172.45,322.19 173.22,322.19 173.22,323.07 172.45,323.07" fill="#30a0ff" opacity="0.6"/>
<polygon points="165.84,329.9 167.07,329.9 167.07,330.58 165.84,330.58" fill="#2080ff" opacity="0.7"/>
<polygon points="165.56,331.13 166.63,331.13 166.63,331.93 165.56,331.93" fill="#2080ff" opacity="0.7"/>
<polygon points="175.79,325.69 176.84,325.69 176.84,326.57 175.79,326.57" fill="#40b0ff" opacity="0.6"/>
<polygon points="173.43,330.11 174.27,330.11 174.27,331.04 173.43,331.04" fill="#30a0ff" opacity="0.6"/>
<polygon points="168.85,326.08 170.14,326.08 170.14,326.87 168.85,326.87" fill="#30a0ff" opacity="0.6"/>
<polygon points="174.52,322.34 175.56,322.34 175.56,323.36 174.52,323.36" fill="#0040e0" opacity="0.7"/>
<polygon points="173.71,325.66 174.5,325.66 174.5,326.47 173.71,326.47" fill="#2080ff" opacity="0.7"/>
<polygon points="174.16,323.47 175.13,323.47 175.13,324.52 174.16,324.52" fill="#1068ff" opacity="0.6"/>
<polygon points="167.44,326.66 168.51,326.66 168.51,327.49 167.44,327.49" fill="#1068ff" opacity="0.6"/>
<polygon points="175.2,325.61 176.46,325.61 176.46,326.39 175.2,326.39" fill="#1068ff" opacity="0.6"/>
<polygon points="177.11,326.75 177.9,326.75 177.9,327.4 177.11,327.4" fill="#30a0ff" opacity="0.6"/>
<polygon points="174.33,323.11 175.29,323.11 175.29,324.14 174.33,324.14" fill="#40b0ff" opacity="0.6"/>
<polygon points="169.96,323.7 171.01,323.7 171.01,324.72 169.96,324.72" fill="#1068ff" opacity="0.6"/>
<polygon points="166.45,327.71 167.59,327.71 167.59,328.51 166.45,328.51" fill="#0040e0" opacity="0.7"/>
<polygon points="164.4,331.63 165.41,331.63 165.41,332.51 164.4,332.51" fill="#2080ff" opacity="0.7"/>
<polygon points="168.71,326.97 169.62,326.97 169.62,327.65 168.71,327.65" fill="#30a0ff" opacity="0.6"/>
<polygon points="177.29,331.98 178.25,331.98 178.25,332.79 177.29,332.79" fill="#30a0ff" opacity="0.6"/>
<polygon points="163.63,331.24 164.46,331.24 164.46,332.3 163.63,332.3" fill="#2080ff" opacity="0.7"/>
<polygon points="169.06,322.8 169.8,322.8 169.8,323.42 169.06,323.42" fill="#30a0ff" opacity="0.6"/>
<polygon points="176.04,330.91 177.15,330.91 177.15,331.96 176.04,331.96" fill="#40b0ff" opacity="0.6"/>
<polygon points="171.66,328.66 172.9,328.66 172.9,329.73 171.66,329.73" fill="#2080ff" opacity="0.7"/>
<polygon points="169.47,328.82 170.27,328.82 170.27,329.77 169.47,329.77" fill="#2080ff" opacity="0.7"/>
<polygon points="173.89,328.73 174.92,328.73 174.92,329.45 173.89,329.45" fill="#40b0ff" opacity="0.6"/>
<polygon points="177.29,326.85 178.58,326.85 178.58,327.81 177.29,327.81" fill="#30a0ff" opacity="0.6"/>
<polygon points="166.76,331.38 167.91,331.38 167.91,332.12 166.76,332.12" fill="#2080ff" opacity="0.7"/>
<polygon points="168.65,336.88 169.64,336.88 169.64,337.88 168.65,337.88" fill="#2080ff" opacity="0.6"/>
<polygon points="168.89,337.31 169.66,337.31 169.66,338.07 168.89,338.07" fill="#0040e0" opacity="0.7"/>
<polygon points="170.73,337.33 171.83,337.33 171.83,338.32 170.73,338.32" fill="#0040e0" opacity="0.7"/>
<polygon points="173.05,337.2 173.97,337.2 173.97,338.08 173.05,338.08" fill="#2080ff" opacity="0.6"/>
<polygon points="168.18,336.81 169.33,336.81 169.33,337.57 168.18,337.57" fill="#30a8ff" opacity="0.7"/>
<polygon points="166.36,334.68 167.42,334.68 167.42,335.35 166.36,335.35" fill="#30a8ff" opacity="0.7"/>
<polygon points="167.86,338.08 168.62,338.08 168.62,338.99 167.86,338.99" fill="#2080ff" opacity="0.6"/>
<polygon points="169.75,335.97 171.08,335.97 171.08,336.93 169.75,336.93" fill="#0040e0" opacity="0.7"/>
<polygon points="168.31,335.45 169.28,335.45 169.28,336.17 168.31,336.17" fill="#2080ff" opacity="0.6"/>
<polygon points="167.38,334.74 168.14,334.74 168.14,335.46 167.38,335.46" fill="#30a8ff" opacity="0.7"/>
<polygon points="159.87,337.2 160.99,337.2 160.99,338.12 159.87,338.12" fill="#80f0a0"/>
<polygon points="161.15,334.05 161.94,334.05 161.94,334.91 161.15,334.91" fill="#80f0a0"/>
<polygon points="156.61,328.81 157.4,328.81 157.4,329.73 156.61,329.73" fill="#30b0ff"/>
<polygon points="160.63,337.79 161.86,337.79 161.86,338.75 160.63,338.75" fill="#0020d0"/>
<polygon points="161.71,336.36 162.64,336.36 162.64,337.09 161.71,337.09" fill="#0020d0"/>
<polygon points="161.35,332.67 162.48,332.67 162.48,333.69 161.35,333.69" fill="#30b0ff"/>
<polygon points="159.55,334.26 160.78,334.26 160.78,335.24 159.55,335.24" fill="#0020d0"/>
<polygon points="161.96,334.8 162.94,334.8 162.94,335.75 161.96,335.75" fill="#80f0a0"/>
<polygon points="158.84,328.79 159.88,328.79 159.88,329.52 158.84,329.52" fill="#80f0a0"/>
<polygon points="158.31,333.51 159.58,333.51 159.58,334.39 158.31,334.39" fill="#30b0ff"/>
<polygon points="158.94,332.9 160.09,332.9 160.09,333.58 158.94,333.58" fill="#80f0a0"/>
<polygon points="158.11,333.87 159.07,333.87 159.07,334.81 158.11,334.81" fill="#30b0ff"/>
<polygon points="157.99,319.4 158.6,319.4 158.6,319.9 157.99,319.9" fill="#ffc020"/>
<polygon points="134.73,322.59 135.6,322.59 135.6,323.31 134.73,323.31" fill="#ffc020"/>
<polygon points="150.23,317.12 150.85,317.12 150.85,317.88 150.23,317.88" fill="#60e0c0"/>
<polygon points="140.66,323.64 141.24,323.64 141.24,324.29 140.66,324.29" fill="#ffc020"/>
<polygon points="129.54,323.69 130.25,323.69 130.25,324.2 129.54,324.2" fill="#ffc020"/>
<polygon points="130.99,322.34 131.63,322.34 131.63,323.17 130.99,323.17" fill="#50d0ff"/>
<polygon points="158.41,319.64 159.36,319.64 159.36,320.14 158.41,320.14" fill="#ffc020"/>
<polygon points="147.35,318.68 148.18,318.68 148.18,319.45 147.35,319.45" fill="#ffc020"/>
<polygon points="145.7,327.44 146.53,327.44 146.53,328.11 145.7,328.11" fill="#a0f080"/>
<polygon points="137.24,323.75 138.09,323.75 138.09,324.36 137.24,324.36" fill="#a0f080"/>
<polygon points="168.7,384.97 169.45,384.97 169.45,385.49 168.7,385.49" fill="#40c0ff"/>
<polygon points="168.83,383.43 169.66,383.43 169.66,384.09 168.83,384.09" fill="#a0f080"/>
<polygon points="169.02,385.81 169.97,385.81 169.97,386.43 169.02,386.43" fill="#40c0ff"/>
<polygon points="168.97,385.01 169.74,385.01 169.74,385.6 168.97,385.6" fill="#ff7000"/>
<polygon points="164.37,387.92 165.39,387.92 165.39,388.72 164.37,388.72" fill="#a0f080"/>
<polygon points="172.02,382.02 172.67,382.02 172.67,382.68 172.02,382.68" fill="#a0f080"/>
<polygon points="162.69,385.8 163.27,385.8 163.27,386.39 162.69,386.39" fill="#0038e0"/>
<polygon points="176.32,381.47 177.18,381.47 177.18,382.19 176.32,382.19" fill="#a0f080"/>
<polygon points="178.64,380.47 179.32,380.47 179.32,381.12 178.64,381.12" fill="#40c0ff"/>
<polygon points="173.75,381.32 174.73,381.32 174.73,382 173.75,382" fill="#40c0ff"/>
</g>
</svg>
<rect x="39.4" y="303.65" width="200.8" height="107.15" fill="none" stroke="#000" stroke-width="0.5"/>
<line x1="39.4" y1="410.8" x2="39.4" y2="412.8" stroke="#000" stroke-width="0.5"/>
<text x="39.4" y="419.6" font-size="6.2" text-anchor="middle" fill="#000">0</text>
<line x1="68.09" y1="410.8" x2="68.09" y2="412.8" stroke="#000" stroke-width="0.5"/>
<text x="68.09" y="419.6" font-size="6.2" text-anchor="middle" fill="#000">10</text>
<line x1="96.77" y1="410.8" x2="96.77" y2="412.8" stroke="#000" stroke-width="0.5"/>
<text x="96.77" y="419.6" font-size="6.2" text-anchor="middle" fill="#000">20</text>
<line x1="125.46" y1="410.8" x2="125.46" y2="412.8" stroke="#000" stroke-width="0.5"/>
<text x="125.46" y="419.6" font-size="6.2" text-anchor="middle" fill="#000">30</text>
<line x1="154.14" y1="410.8" x2="154.14" y2="412.8" stroke="#000" stroke-width="0.5"/>
<text x="154.14" y="419.6" font-size="6.2" text-anchor="middle" fill="#000">40</text>
<line x1="182.83" y1="410.8" x2="182.83" y2="412.8" stroke="#000" stroke-width="0.5"/>
<text x="182.83" y="419.6" font-size="6.2" text-anchor="middle" fill="#000">50</text>
<line x1="211.51" y1="410.8" x2="211.51" y2="412.8" stroke="#000" stroke-width="0.5"/>
<text x="211.51" y="419.6" font-size="6.2" text-anchor="middle" fill="#000">60</text>
<line x1="240.2" y1="410.8" x2="240.2" y2="412.8" stroke="#000" stroke-width="0.5"/>
<text x="240.2" y="419.6" font-size="6.2" text-anchor="middle" fill="#000">70</text>
<line x1="37.4" y1="410.8" x2="39.4" y2="410.8" stroke="#000" stroke-width="0.5"/>
<text x="36" y="413.25" font-size="6.2" text-anchor="end" fill="#000">0</text>
<line x1="37.4" y1="396.46" x2="39.4" y2="396.46" stroke="#000" stroke-width="0.5"/>
<text x="36" y="398.91" font-size="6.2" text-anchor="end" fill="#000">5</text>
<line x1="37.4" y1="382.11" x2="39.4" y2="382.11" stroke="#000" stroke-width="0.5"/>
<text x="36" y="384.56" font-size="6.2" text-anchor="end" fill="#000">10</text>
<line x1="37.4" y1="367.77" x2="39.4" y2="367.77" stroke="#000" stroke-width="0.5"/>
<text x="36" y="370.22" font-size="6.2" text-anchor="end" fill="#000">15</text>
<line x1="37.4" y1="353.43" x2="39.4" y2="353.43" stroke="#000" stroke-width="0.5"/>
<text x="36" y="355.88" font-size="6.2" text-anchor="end" fill="#000">20</text>
<line x1="37.4" y1="339.09" x2="39.4" y2="339.09" stroke="#000" stroke-width="0.5"/>
<text x="36" y="341.54" font-size="6.2" text-anchor="end" fill="#000">25</text>
<line x1="37.4" y1="324.74" x2="39.4" y2="324.74" stroke="#000" stroke-width="0.5"/>
<text x="36" y="327.19" font-size="6.2" text-anchor="end" fill="#000">30</text>
<line x1="37.4" y1="310.4" x2="39.4" y2="310.4" stroke="#000" stroke-width="0.5"/>
<text x="36" y="312.85" font-size="6.2" text-anchor="end" fill="#000">35</text>
<text x="139.8" y="427.8" font-size="6.8" text-anchor="middle" fill="#000">X (Mm)</text>
<text x="139.8" y="300.25" font-size="9.15" text-anchor="middle" fill="#000">Fe XIX 108  true width (km/s)</text>
<text transform="translate(25.1 357.23) rotate(-90)" font-size="6.8" text-anchor="middle" fill="#000">Y (Mm)</text>
<rect x="246.4" y="303.65" width="200.8" height="107.15" fill="#fff"/>
<svg x="246.4" y="303.65" width="200.8" height="107.15" viewBox="246.4 303.65 200.8 107.15" overflow="hidden">
<g filter="url(#soft)">
<polyline points="251.15,389.63 253.82,387.26 257.18,385.08" fill="none" stroke="#30d8f0" stroke-width="1.29" stroke-linecap="round" stroke-linejoin="round"/>
<polyline points="259.65,381.22 259.95,380.73" fill="none" stroke="#60b0ff" stroke-width="0.79" stroke-linecap="round" stroke-linejoin="round"/>
<polyline points="271.82,376.08 275.09,373.61 278.94,369.95" fill="none" stroke="#3080ff" stroke-width="0.84" stroke-linecap="round" stroke-linejoin="round"/>
<polyline points="271.82,376.08 274.1,374.4" fill="none" stroke="#30d0f0" stroke-width="0.84" stroke-linecap="round" stroke-linejoin="round"/>
<polyline points="313.07,315.84 314.26,318.21 317.22,319.99 317.62,321.97 316.23,323.95 315.05,325.14" fill="none" stroke="#40b0ff" stroke-width="0.89" stroke-linecap="round" stroke-linejoin="round"/>
<polygon points="312.67,315.64 313.86,315.25 315.25,318.21 313.86,319.2 312.67,318.02" fill="#ff6a10"/>
<polyline points="313.66,318.02 314.85,318.61" fill="none" stroke="#2030a0" stroke-width="0.89" stroke-linecap="round" stroke-linejoin="round"/>
<polyline points="314.95,309.71 315.15,310.3" fill="none" stroke="#40c0ff" stroke-width="0.79" stroke-linecap="round" stroke-linejoin="round"/>
<polyline points="423.06,389.43 425.93,387.06 429.2,385.08" fill="none" stroke="#30d0e8" stroke-width="1.29" stroke-linecap="round" stroke-linejoin="round"/>
<polyline points="432.56,380.53 433.55,379.15" fill="none" stroke="#4080ff" stroke-width="0.89" stroke-linecap="round" stroke-linejoin="round"/>
<polyline points="443.64,376.97 445.62,375.19 447.2,373.61" fill="none" stroke="#50e0a0" stroke-width="0.94" stroke-linecap="round" stroke-linejoin="round"/>
<polygon points="333.45,322.76 337.4,322.17 341.36,322.47 345.32,322.86 348.78,322.96 350.76,321.78 351.75,319.1 352.73,316.14 354.42,315.05 357.19,315.35 360.15,316.93 363.12,318.41 364.31,317.82 365.89,318.21 366.29,321.08 364.9,322.37 363.62,321.18 361.14,319.3 357.68,317.62 355.6,317.62 354.42,319.6 353.63,322.57 353.03,324.15 354.02,326.52 356.89,329.1 356.3,330.08 354.22,329.1 351.84,326.72 350.26,325.53 347.29,325.93 344.33,325.83 341.36,324.74 337.4,324.25 333.64,324.15" fill="#2898ff" stroke="#2898ff" stroke-width="0.4" stroke-linejoin="round"/>
<polyline points="331.27,323.36 331.86,323.36" fill="none" stroke="#40c0ff" stroke-width="0.79" stroke-linecap="round" stroke-linejoin="round"/>
<polyline points="342.15,320.29 342.74,319.9" fill="none" stroke="#40a0ff" stroke-width="0.89" stroke-linecap="round" stroke-linejoin="round"/>
<polyline points="342.35,323.56 347.29,324.15 351.25,323.56" fill="none" stroke="#60e0c0" stroke-width="0.89" stroke-linecap="round" stroke-linejoin="round"/>
<polyline points="352.24,320.09 353.43,316.83" fill="none" stroke="#80f0a0" stroke-width="0.89" stroke-linecap="round" stroke-linejoin="round"/>
<polyline points="334.04,323.36 339.38,323.16" fill="none" stroke="#40d8e0" stroke-width="0.89" stroke-linecap="round" stroke-linejoin="round"/>
<polyline points="345.32,323.56 346.31,323.65" fill="none" stroke="#ff6000" stroke-width="0.79" stroke-linecap="round" stroke-linejoin="round"/>
<polygon points="383.4,304.27 385.48,304.27 385.48,307.73 384.59,312.68 383.6,317.62 383.1,319.6 384.59,322.57 385.97,326.52 385.97,330.48 384.49,333.45 382.51,335.92 381.03,337.9 380.53,340.37 378.45,339.88 375.98,338.99 373.01,338.49 371.03,337.5 369.06,338 367.08,338.99 365.1,339.48 362.63,338 362.13,336.02 363.62,335.03 365.1,333.55 364.6,330.58 363.12,328.6 362.63,325.63 364.11,324.64 365.59,326.62 367.08,328.6 368.56,327.61 370.05,324.64 372.02,321.68 374.99,319.7 377.96,318.61 379.94,319.01 380.53,315.64 381.42,310.7 382.51,306.74" fill="#0058ff" stroke="#0058ff" stroke-width="0.5" stroke-linejoin="round"/>
<polyline points="383.4,304.27 385.48,304.27 385.48,307.73 384.59,312.68 383.6,317.62 383.1,319.6 384.59,322.57 385.97,326.52 385.97,330.48 384.49,333.45 382.51,335.92 381.03,337.9 380.53,340.37 378.45,339.88 375.98,338.99 373.01,338.49 371.03,337.5 369.06,338 367.08,338.99 365.1,339.48 362.63,338 362.13,336.02 363.62,335.03 365.1,333.55 364.6,330.58 363.12,328.6 362.63,325.63 364.11,324.64 365.59,326.62 367.08,328.6 368.56,327.61 370.05,324.64 372.02,321.68 374.99,319.7 377.96,318.61 379.94,319.01 380.53,315.64 381.42,310.7 382.51,306.74 383.4,304.27" fill="none" stroke="#36a6ff" stroke-width="0.99" stroke-linecap="round" stroke-linejoin="round"/>
<polyline points="380.43,303.97 381.72,304.96 383.1,305.95" fill="none" stroke="#30a0ff" stroke-width="1.19" stroke-linecap="round" stroke-linejoin="round"/>
<polygon points="362.33,325.34 364.31,324.35 366.09,326.33 367.47,328.7 368.86,329.49 369.06,338 367.08,338.99 365.1,339.48 362.63,338 362.13,336.02 363.71,335.03 365.1,333.45 364.51,330.68 362.92,328.7" fill="#0848f8" stroke="#0848f8" stroke-width="0.3" stroke-linejoin="round"/>
<polyline points="363.91,326.33 365.89,329.49 366.88,332.46 366.29,336.41" fill="none" stroke="#0020e0" stroke-width="1.29" stroke-linecap="round" stroke-linejoin="round"/>
<polyline points="364.6,328.01 366.29,330.97 367.28,333.94" fill="none" stroke="#e0f040" stroke-width="0.79" stroke-linecap="round" stroke-linejoin="round"/>
<polyline points="366.68,331.67 367.08,332.46" fill="none" stroke="#ff8000" stroke-width="0.79" stroke-linecap="round" stroke-linejoin="round"/>
<polyline points="363.12,337.4 365.59,338.59" fill="none" stroke="#40c0ff" stroke-width="1.38" stroke-linecap="round" stroke-linejoin="round"/>
<polyline points="367.08,335.43 368.26,337.9" fill="none" stroke="#40e0c0" stroke-width="0.99" stroke-linecap="round" stroke-linejoin="round"/>
<polyline points="365.5,334.44 366.29,338.59" fill="none" stroke="#30c0ff" stroke-width="1.09" stroke-linecap="round" stroke-linejoin="round"/>
<polyline points="363.32,325.73 364.11,327.51" fill="none" stroke="#40b0ff" stroke-width="0.99" stroke-linecap="round" stroke-linejoin="round"/>
<polyline points="381.92,318.61 382.9,313.66 383.89,308.72 384.49,304.76" fill="none" stroke="#1070ff" stroke-width="1.48" stroke-linecap="round" stroke-linejoin="round"/>
<polyline points="383.5,311.69 384.29,306.74" fill="none" stroke="#30b0ff" stroke-width="0.89" stroke-linecap="round" stroke-linejoin="round"/>
<polyline points="370.24,325.14 372.22,321.97 375.19,319.99 378.16,319.01" fill="none" stroke="#30a8ff" stroke-width="0.79" stroke-linecap="round" stroke-linejoin="round"/>
<polyline points="385.87,327.02 385.87,330.48 384.29,333.65 380.93,338.2" fill="none" stroke="#30b0ff" stroke-width="0.89" stroke-linecap="round" stroke-linejoin="round"/>
<polyline points="369.06,338.2 373.01,338.79 378.45,340.07" fill="none" stroke="#28a0ff" stroke-width="0.89" stroke-linecap="round" stroke-linejoin="round"/>
<polyline points="365.1,333.45 366.58,335.43 365.1,338.59" fill="none" stroke="#0018c8" stroke-width="1.19" stroke-linecap="round" stroke-linejoin="round"/>
<polyline points="364.31,324.05 365.1,325.73" fill="none" stroke="#f0f040" stroke-width="0.79" stroke-linecap="round" stroke-linejoin="round"/>
<polygon points="391.31,319.4 392.99,318.81 394.77,319.6 394.97,323.56 393.98,326.33 392.8,325.73 391.61,324.05" fill="#1060ff"/>
<polyline points="392.3,321.08 392.6,323.56" fill="none" stroke="#0848f0" stroke-width="0.69" stroke-linecap="round" stroke-linejoin="round"/>
<polygon points="359.69,386.09 362.73,383.94 365.9,380.14 368.43,375.71 370.08,372.54 371.09,373.18 369.32,376.98 367.42,381.41 365.01,385.21 366.28,386.47 364.76,388.12 361.47,387.87 359.57,387.23" fill="#2080ff"/>
<polyline points="363.37,384.95 365.52,382.04" fill="none" stroke="#40e0e0" stroke-width="0.99" stroke-linecap="round" stroke-linejoin="round"/>
<polyline points="365.52,382.04 367.04,379.13" fill="none" stroke="#2890ff" stroke-width="0.99" stroke-linecap="round" stroke-linejoin="round"/>
<polyline points="367.29,378.62 369.07,375.33" fill="none" stroke="#2080ff" stroke-width="0.99" stroke-linecap="round" stroke-linejoin="round"/>
<polyline points="367.29,380.14 368.31,382.04" fill="none" stroke="#0030e0" stroke-width="0.99" stroke-linecap="round" stroke-linejoin="round"/>
<polygon points="372.87,370.26 374.13,366.84 376.67,363.04 378.19,362.16 379.33,363.68 378.69,365.7 377.05,364.94 375.27,368.11 374.01,371.53" fill="#30a8ff" stroke="#30a8ff" stroke-width="0.35" stroke-linejoin="round"/>
<polyline points="377.43,362.66 378.19,362.92" fill="none" stroke="#60e8e0" stroke-width="0.99" stroke-linecap="round" stroke-linejoin="round"/>
<polyline points="373.25,369.5 373.75,368.49" fill="none" stroke="#40ffa0" stroke-width="0.79" stroke-linecap="round" stroke-linejoin="round"/>
<polygon points="381.1,370.01 381.98,370.01 383.12,373.81 384.64,376.34 386.29,380.14 386.92,382.17 385.66,381.54 384.39,380.27 384.64,383.44 383.12,384.7 381.23,384.07 379.33,385.97 377.43,388.5 375.53,387.23 372.99,388.5 369.83,390.4 369.07,389.13 371.09,386.6 368.56,385.33 371.73,383.94 375.53,382.04 379.33,380.14 381.98,377.74 381.73,373.81" fill="#1070ff" stroke="#1070ff" stroke-width="0.3" stroke-linejoin="round"/>
<polyline points="381.1,370.01 381.98,370.01 383.12,373.81 384.64,376.34 386.29,380.14 386.92,382.17 385.66,381.54 384.39,380.27 384.64,383.44 383.12,384.7 381.23,384.07 379.33,385.97 377.43,388.5 375.53,387.23 372.99,388.5 369.83,390.4 369.07,389.13 371.09,386.6 368.56,385.33 371.73,383.94 375.53,382.04 379.33,380.14 381.98,377.74 381.73,373.81 381.1,370.01" fill="none" stroke="#40b8ff" stroke-width="0.69" stroke-linecap="round" stroke-linejoin="round"/>
<polyline points="374.13,384.57 377.93,382.68 381.48,380.14" fill="none" stroke="#0040f0" stroke-width="1.29" stroke-linecap="round" stroke-linejoin="round"/>
<polyline points="381.73,373.18 382.49,376.98" fill="none" stroke="#30c0ff" stroke-width="0.79" stroke-linecap="round" stroke-linejoin="round"/>
<polyline points="380.47,383.31 382.36,380.14 383.25,377.61" fill="none" stroke="#ff5000" stroke-width="0.79" stroke-linecap="round" stroke-linejoin="round"/>
<polyline points="378.57,384.57 380.21,382.93" fill="none" stroke="#e0f040" stroke-width="0.69" stroke-linecap="round" stroke-linejoin="round"/>
<polyline points="381.73,399.14 383.5,396.1 388.06,392.93" fill="none" stroke="#3080ff" stroke-width="1.19" stroke-linecap="round" stroke-linejoin="round"/>
<polyline points="382.49,397.11 383.12,400.66" fill="none" stroke="#3070ff" stroke-width="1.09" stroke-linecap="round" stroke-linejoin="round"/>
<polyline points="385.02,403.07 387.05,401.42 388.82,399.27" fill="none" stroke="#40a0ff" stroke-width="1.19" stroke-linecap="round" stroke-linejoin="round"/>
<polyline points="384.52,395.59 385.53,394.83" fill="none" stroke="#ff6000" stroke-width="0.69" stroke-linecap="round" stroke-linejoin="round"/>
<polygon points="377.93,405.85 381.1,405.22 383.76,405.85 385.4,408.13 385.66,410.79 378.19,410.79" fill="#0838f0"/>
<polyline points="381.1,407.37 382.36,409.91" fill="none" stroke="#60a0ff" stroke-width="0.79" stroke-linecap="round" stroke-linejoin="round"/>
<polygon points="379.45,322.19 380.22,322.19 380.22,323.07 379.45,323.07" fill="#30a0ff" opacity="0.6"/>
<polygon points="372.84,329.9 374.07,329.9 374.07,330.58 372.84,330.58" fill="#2080ff" opacity="0.7"/>
<polygon points="372.56,331.13 373.63,331.13 373.63,331.93 372.56,331.93" fill="#2080ff" opacity="0.7"/>
<polygon points="382.79,325.69 383.84,325.69 383.84,326.57 382.79,326.57" fill="#40b0ff" opacity="0.6"/>
<polygon points="380.43,330.11 381.27,330.11 381.27,331.04 380.43,331.04" fill="#30a0ff" opacity="0.6"/>
<polygon points="375.85,326.08 377.14,326.08 377.14,326.87 375.85,326.87" fill="#30a0ff" opacity="0.6"/>
<polygon points="381.52,322.34 382.56,322.34 382.56,323.36 381.52,323.36" fill="#0040e0" opacity="0.7"/>
<polygon points="380.71,325.66 381.5,325.66 381.5,326.47 380.71,326.47" fill="#2080ff" opacity="0.7"/>
<polygon points="381.16,323.47 382.13,323.47 382.13,324.52 381.16,324.52" fill="#1068ff" opacity="0.6"/>
<polygon points="374.44,326.66 375.51,326.66 375.51,327.49 374.44,327.49" fill="#1068ff" opacity="0.6"/>
<polygon points="382.2,325.61 383.46,325.61 383.46,326.39 382.2,326.39" fill="#1068ff" opacity="0.6"/>
<polygon points="384.11,326.75 384.9,326.75 384.9,327.4 384.11,327.4" fill="#30a0ff" opacity="0.6"/>
<polygon points="381.33,323.11 382.29,323.11 382.29,324.14 381.33,324.14" fill="#40b0ff" opacity="0.6"/>
<polygon points="376.96,323.7 378.01,323.7 378.01,324.72 376.96,324.72" fill="#1068ff" opacity="0.6"/>
<polygon points="373.45,327.71 374.59,327.71 374.59,328.51 373.45,328.51" fill="#0040e0" opacity="0.7"/>
<polygon points="371.4,331.63 372.41,331.63 372.41,332.51 371.4,332.51" fill="#2080ff" opacity="0.7"/>
<polygon points="375.71,326.97 376.62,326.97 376.62,327.65 375.71,327.65" fill="#30a0ff" opacity="0.6"/>
<polygon points="384.29,331.98 385.25,331.98 385.25,332.79 384.29,332.79" fill="#30a0ff" opacity="0.6"/>
<polygon points="370.63,331.24 371.46,331.24 371.46,332.3 370.63,332.3" fill="#2080ff" opacity="0.7"/>
<polygon points="376.06,322.8 376.8,322.8 376.8,323.42 376.06,323.42" fill="#30a0ff" opacity="0.6"/>
<polygon points="383.04,330.91 384.15,330.91 384.15,331.96 383.04,331.96" fill="#40b0ff" opacity="0.6"/>
<polygon points="378.66,328.66 379.9,328.66 379.9,329.73 378.66,329.73" fill="#2080ff" opacity="0.7"/>
<polygon points="376.47,328.82 377.27,328.82 377.27,329.77 376.47,329.77" fill="#2080ff" opacity="0.7"/>
<polygon points="380.89,328.73 381.92,328.73 381.92,329.45 380.89,329.45" fill="#40b0ff" opacity="0.6"/>
<polygon points="384.29,326.85 385.58,326.85 385.58,327.81 384.29,327.81" fill="#30a0ff" opacity="0.6"/>
<polygon points="373.76,331.38 374.91,331.38 374.91,332.12 373.76,332.12" fill="#2080ff" opacity="0.7"/>
<polygon points="375.65,336.88 376.64,336.88 376.64,337.88 375.65,337.88" fill="#2080ff" opacity="0.6"/>
<polygon points="375.89,337.31 376.66,337.31 376.66,338.07 375.89,338.07" fill="#0040e0" opacity="0.7"/>
<polygon points="377.73,337.33 378.83,337.33 378.83,338.32 377.73,338.32" fill="#0040e0" opacity="0.7"/>
<polygon points="380.05,337.2 380.97,337.2 380.97,338.08 380.05,338.08" fill="#2080ff" opacity="0.6"/>
<polygon points="375.18,336.81 376.33,336.81 376.33,337.57 375.18,337.57" fill="#30a8ff" opacity="0.7"/>
<polygon points="373.36,334.68 374.42,334.68 374.42,335.35 373.36,335.35" fill="#30a8ff" opacity="0.7"/>
<polygon points="374.86,338.08 375.62,338.08 375.62,338.99 374.86,338.99" fill="#2080ff" opacity="0.6"/>
<polygon points="376.75,335.97 378.08,335.97 378.08,336.93 376.75,336.93" fill="#0040e0" opacity="0.7"/>
<polygon points="375.31,335.45 376.28,335.45 376.28,336.17 375.31,336.17" fill="#2080ff" opacity="0.6"/>
<polygon points="374.38,334.74 375.14,334.74 375.14,335.46 374.38,335.46" fill="#30a8ff" opacity="0.7"/>
<polygon points="366.87,337.2 367.99,337.2 367.99,338.12 366.87,338.12" fill="#80f0a0"/>
<polygon points="368.15,334.05 368.94,334.05 368.94,334.91 368.15,334.91" fill="#80f0a0"/>
<polygon points="363.61,328.81 364.4,328.81 364.4,329.73 363.61,329.73" fill="#30b0ff"/>
<polygon points="367.63,337.79 368.86,337.79 368.86,338.75 367.63,338.75" fill="#0020d0"/>
<polygon points="368.71,336.36 369.64,336.36 369.64,337.09 368.71,337.09" fill="#0020d0"/>
<polygon points="368.35,332.67 369.48,332.67 369.48,333.69 368.35,333.69" fill="#30b0ff"/>
<polygon points="366.55,334.26 367.78,334.26 367.78,335.24 366.55,335.24" fill="#0020d0"/>
<polygon points="368.96,334.8 369.94,334.8 369.94,335.75 368.96,335.75" fill="#80f0a0"/>
<polygon points="365.84,328.79 366.88,328.79 366.88,329.52 365.84,329.52" fill="#80f0a0"/>
<polygon points="365.31,333.51 366.58,333.51 366.58,334.39 365.31,334.39" fill="#30b0ff"/>
<polygon points="365.94,332.9 367.09,332.9 367.09,333.58 365.94,333.58" fill="#80f0a0"/>
<polygon points="365.11,333.87 366.07,333.87 366.07,334.81 365.11,334.81" fill="#30b0ff"/>
<polygon points="364.99,319.4 365.6,319.4 365.6,319.9 364.99,319.9" fill="#ffc020"/>
<polygon points="341.73,322.59 342.6,322.59 342.6,323.31 341.73,323.31" fill="#ffc020"/>
<polygon points="357.23,317.12 357.85,317.12 357.85,317.88 357.23,317.88" fill="#60e0c0"/>
<polygon points="347.66,323.64 348.24,323.64 348.24,324.29 347.66,324.29" fill="#ffc020"/>
<polygon points="336.54,323.69 337.25,323.69 337.25,324.2 336.54,324.2" fill="#ffc020"/>
<polygon points="337.99,322.34 338.63,322.34 338.63,323.17 337.99,323.17" fill="#50d0ff"/>
<polygon points="365.41,319.64 366.36,319.64 366.36,320.14 365.41,320.14" fill="#ffc020"/>
<polygon points="354.35,318.68 355.18,318.68 355.18,319.45 354.35,319.45" fill="#ffc020"/>
<polygon points="352.7,327.44 353.53,327.44 353.53,328.11 352.7,328.11" fill="#a0f080"/>
<polygon points="344.24,323.75 345.09,323.75 345.09,324.36 344.24,324.36" fill="#a0f080"/>
<polygon points="375.7,384.97 376.45,384.97 376.45,385.49 375.7,385.49" fill="#40c0ff"/>
<polygon points="375.83,383.43 376.66,383.43 376.66,384.09 375.83,384.09" fill="#a0f080"/>
<polygon points="376.02,385.81 376.97,385.81 376.97,386.43 376.02,386.43" fill="#40c0ff"/>
<polygon points="375.97,385.01 376.74,385.01 376.74,385.6 375.97,385.6" fill="#ff7000"/>
<polygon points="371.37,387.92 372.39,387.92 372.39,388.72 371.37,388.72" fill="#a0f080"/>
<polygon points="379.02,382.02 379.67,382.02 379.67,382.68 379.02,382.68" fill="#a0f080"/>
<polygon points="369.69,385.8 370.27,385.8 370.27,386.39 369.69,386.39" fill="#0038e0"/>
<polygon points="383.32,381.47 384.18,381.47 384.18,382.19 383.32,382.19" fill="#a0f080"/>
<polygon points="385.64,380.47 386.32,380.47 386.32,381.12 385.64,381.12" fill="#40c0ff"/>
<polygon points="380.75,381.32 381.73,381.32 381.73,382 380.75,382" fill="#40c0ff"/>
</g>
</svg>
<rect x="246.4" y="303.65" width="200.8" height="107.15" fill="none" stroke="#000" stroke-width="0.5"/>
<line x1="246.4" y1="410.8" x2="246.4" y2="412.8" stroke="#000" stroke-width="0.5"/>
<text x="246.4" y="419.6" font-size="6.2" text-anchor="middle" fill="#000">0</text>
<line x1="275.09" y1="410.8" x2="275.09" y2="412.8" stroke="#000" stroke-width="0.5"/>
<text x="275.09" y="419.6" font-size="6.2" text-anchor="middle" fill="#000">10</text>
<line x1="303.77" y1="410.8" x2="303.77" y2="412.8" stroke="#000" stroke-width="0.5"/>
<text x="303.77" y="419.6" font-size="6.2" text-anchor="middle" fill="#000">20</text>
<line x1="332.46" y1="410.8" x2="332.46" y2="412.8" stroke="#000" stroke-width="0.5"/>
<text x="332.46" y="419.6" font-size="6.2" text-anchor="middle" fill="#000">30</text>
<line x1="361.14" y1="410.8" x2="361.14" y2="412.8" stroke="#000" stroke-width="0.5"/>
<text x="361.14" y="419.6" font-size="6.2" text-anchor="middle" fill="#000">40</text>
<line x1="389.83" y1="410.8" x2="389.83" y2="412.8" stroke="#000" stroke-width="0.5"/>
<text x="389.83" y="419.6" font-size="6.2" text-anchor="middle" fill="#000">50</text>
<line x1="418.51" y1="410.8" x2="418.51" y2="412.8" stroke="#000" stroke-width="0.5"/>
<text x="418.51" y="419.6" font-size="6.2" text-anchor="middle" fill="#000">60</text>
<line x1="447.2" y1="410.8" x2="447.2" y2="412.8" stroke="#000" stroke-width="0.5"/>
<text x="447.2" y="419.6" font-size="6.2" text-anchor="middle" fill="#000">70</text>
<line x1="244.4" y1="410.8" x2="246.4" y2="410.8" stroke="#000" stroke-width="0.5"/>
<line x1="244.4" y1="396.46" x2="246.4" y2="396.46" stroke="#000" stroke-width="0.5"/>
<line x1="244.4" y1="382.11" x2="246.4" y2="382.11" stroke="#000" stroke-width="0.5"/>
<line x1="244.4" y1="367.77" x2="246.4" y2="367.77" stroke="#000" stroke-width="0.5"/>
<line x1="244.4" y1="353.43" x2="246.4" y2="353.43" stroke="#000" stroke-width="0.5"/>
<line x1="244.4" y1="339.09" x2="246.4" y2="339.09" stroke="#000" stroke-width="0.5"/>
<line x1="244.4" y1="324.74" x2="246.4" y2="324.74" stroke="#000" stroke-width="0.5"/>
<line x1="244.4" y1="310.4" x2="246.4" y2="310.4" stroke="#000" stroke-width="0.5"/>
<text x="346.8" y="427.8" font-size="6.8" text-anchor="middle" fill="#000">X (Mm)</text>
<text x="346.8" y="300.25" font-size="9.15" text-anchor="middle" fill="#000">Fe XIX 108  inverted width (km/s)</text>
<clipPath id="hc2"><rect x="453" y="303.2" width="201.4" height="108"/></clipPath>
<rect x="453" y="303.2" width="201.4" height="108" fill="#000"/>
<g filter="url(#hsoft)" clip-path="url(#hc2)">
<path fill="#080808" d="M466.43 376.36h3.41v1.79h-3.41zM469.78 372.88h3.41v1.79h-3.41zM489.92 362.43h3.41v1.79h-3.41zM496.64 369.39h3.41v1.79h-3.41zM506.71 362.43h3.41v1.79h-3.41zM516.78 367.65h3.41v1.79h-3.41zM530.2 367.65h3.41v1.79h-3.41zM533.56 365.91h3.41v1.79h-3.41zM560.41 353.72h3.41v1.79h-3.41z"/>
<path fill="#101010" d="M453 334.55h3.41v1.79h-3.41zM453 341.52h3.41v1.79h-3.41zM453 367.65h3.41v1.79h-3.41zM453 374.62h3.41v1.79h-3.41zM456.36 325.85h3.41v1.79h-3.41zM456.36 331.07h3.41v1.79h-3.41zM456.36 343.26h3.41v1.79h-3.41zM456.36 346.75h3.41v1.79h-3.41zM456.36 348.49h3.41v1.79h-3.41zM456.36 351.97h3.41v1.79h-3.41zM456.36 364.17h3.41v1.79h-3.41zM456.36 374.62h3.41v1.79h-3.41zM456.36 379.85h3.41v1.79h-3.41zM459.71 334.55h3.41v1.79h-3.41zM459.71 371.14h3.41v1.79h-3.41zM459.71 374.62h3.41v1.79h-3.41zM459.71 378.1h3.41v1.79h-3.41zM463.07 336.3h3.41v1.79h-3.41zM463.07 343.26h3.41v1.79h-3.41zM463.07 376.36h3.41v1.79h-3.41zM466.43 334.55h3.41v1.79h-3.41zM466.43 350.23h3.41v1.79h-3.41zM466.43 362.43h3.41v1.79h-3.41zM466.43 371.14h3.41v1.79h-3.41zM469.78 306.68h3.41v1.79h-3.41zM469.78 376.36h3.41v1.79h-3.41zM473.14 343.26h3.41v1.79h-3.41zM473.14 348.49h3.41v1.79h-3.41zM473.14 350.23h3.41v1.79h-3.41zM473.14 371.14h3.41v1.79h-3.41zM473.14 376.36h3.41v1.79h-3.41zM476.5 379.85h3.41v1.79h-3.41zM479.85 338.04h3.41v1.79h-3.41zM479.85 350.23h3.41v1.79h-3.41zM479.85 364.17h3.41v1.79h-3.41zM483.21 306.68h3.41v1.79h-3.41zM483.21 343.26h3.41v1.79h-3.41zM483.21 345.01h3.41v1.79h-3.41zM483.21 346.75h3.41v1.79h-3.41zM483.21 350.23h3.41v1.79h-3.41zM483.21 351.97h3.41v1.79h-3.41zM483.21 364.17h3.41v1.79h-3.41zM483.21 369.39h3.41v1.79h-3.41zM486.57 339.78h3.41v1.79h-3.41zM486.57 348.49h3.41v1.79h-3.41zM489.92 345.01h3.41v1.79h-3.41zM493.28 346.75h3.41v1.79h-3.41zM493.28 364.17h3.41v1.79h-3.41zM493.28 376.36h3.41v1.79h-3.41zM496.64 350.23h3.41v1.79h-3.41zM496.64 364.17h3.41v1.79h-3.41zM496.64 374.62h3.41v1.79h-3.41zM503.35 362.43h3.41v1.79h-3.41zM506.71 345.01h3.41v1.79h-3.41zM506.71 351.97h3.41v1.79h-3.41zM506.71 369.39h3.41v1.79h-3.41zM510.06 353.72h3.41v1.79h-3.41zM510.06 365.91h3.41v1.79h-3.41zM510.06 367.65h3.41v1.79h-3.41zM513.42 346.75h3.41v1.79h-3.41zM513.42 364.17h3.41v1.79h-3.41zM516.78 350.23h3.41v1.79h-3.41zM516.78 351.97h3.41v1.79h-3.41zM516.78 353.72h3.41v1.79h-3.41zM516.78 355.46h3.41v1.79h-3.41zM520.13 351.97h3.41v1.79h-3.41zM520.13 362.43h3.41v1.79h-3.41zM520.13 365.91h3.41v1.79h-3.41zM523.49 313.65h3.41v1.79h-3.41zM523.49 355.46h3.41v1.79h-3.41zM523.49 362.43h3.41v1.79h-3.41zM526.85 364.17h3.41v1.79h-3.41zM526.85 367.65h3.41v1.79h-3.41zM530.2 308.43h3.41v1.79h-3.41zM530.2 350.23h3.41v1.79h-3.41zM530.2 353.72h3.41v1.79h-3.41zM530.2 362.43h3.41v1.79h-3.41zM530.2 364.17h3.41v1.79h-3.41zM533.56 353.72h3.41v1.79h-3.41zM533.56 369.39h3.41v1.79h-3.41zM536.92 351.97h3.41v1.79h-3.41zM536.92 364.17h3.41v1.79h-3.41zM540.27 364.17h3.41v1.79h-3.41zM546.99 362.43h3.41v1.79h-3.41zM550.34 308.43h3.41v1.79h-3.41zM550.34 360.68h3.41v1.79h-3.41zM557.06 353.72h3.41v1.79h-3.41zM557.06 360.68h3.41v1.79h-3.41zM560.41 324.1h3.41v1.79h-3.41zM560.41 362.43h3.41v1.79h-3.41zM563.77 355.46h3.41v1.79h-3.41zM567.13 362.43h3.41v1.79h-3.41zM567.13 392.04h3.41v1.79h-3.41zM570.48 327.59h3.41v1.79h-3.41zM570.48 355.46h3.41v1.79h-3.41zM570.48 362.43h3.41v1.79h-3.41zM570.48 374.62h3.41v1.79h-3.41zM577.2 360.68h3.41v1.79h-3.41zM587.27 306.68h3.41v1.79h-3.41zM597.34 313.65h3.41v1.79h-3.41zM597.34 357.2h3.41v1.79h-3.41zM600.69 358.94h3.41v1.79h-3.41zM610.76 357.2h3.41v1.79h-3.41zM614.12 378.1h3.41v1.79h-3.41zM620.83 357.2h3.41v1.79h-3.41zM620.83 358.94h3.41v1.79h-3.41zM627.55 358.94h3.41v1.79h-3.41zM630.9 358.94h3.41v1.79h-3.41zM634.26 358.94h3.41v1.79h-3.41zM637.62 357.2h3.41v1.79h-3.41zM637.62 358.94h3.41v1.79h-3.41zM640.97 358.94h3.41v1.79h-3.41zM640.97 371.14h3.41v1.79h-3.41zM644.33 399.01h3.41v1.79h-3.41z"/>
<path fill="#181818" d="M453 318.88h3.41v1.79h-3.41zM453 364.17h3.41v1.79h-3.41zM456.36 341.52h3.41v1.79h-3.41zM456.36 372.88h3.41v1.79h-3.41zM456.36 378.1h3.41v1.79h-3.41zM459.71 341.52h3.41v1.79h-3.41zM459.71 343.26h3.41v1.79h-3.41zM463.07 310.17h3.41v1.79h-3.41zM463.07 345.01h3.41v1.79h-3.41zM463.07 371.14h3.41v1.79h-3.41zM463.07 372.88h3.41v1.79h-3.41zM466.43 365.91h3.41v1.79h-3.41zM466.43 374.62h3.41v1.79h-3.41zM469.78 343.26h3.41v1.79h-3.41zM469.78 345.01h3.41v1.79h-3.41zM469.78 371.14h3.41v1.79h-3.41zM473.14 339.78h3.41v1.79h-3.41zM473.14 346.75h3.41v1.79h-3.41zM473.14 362.43h3.41v1.79h-3.41zM473.14 364.17h3.41v1.79h-3.41zM473.14 372.88h3.41v1.79h-3.41zM476.5 348.49h3.41v1.79h-3.41zM479.85 348.49h3.41v1.79h-3.41zM479.85 367.65h3.41v1.79h-3.41zM479.85 372.88h3.41v1.79h-3.41zM483.21 374.62h3.41v1.79h-3.41zM483.21 383.33h3.41v1.79h-3.41zM486.57 343.26h3.41v1.79h-3.41zM486.57 393.78h3.41v1.79h-3.41zM489.92 351.97h3.41v1.79h-3.41zM489.92 364.17h3.41v1.79h-3.41zM493.28 351.97h3.41v1.79h-3.41zM493.28 353.72h3.41v1.79h-3.41zM493.28 402.49h3.41v1.79h-3.41zM496.64 346.75h3.41v1.79h-3.41zM499.99 304.94h3.41v1.79h-3.41zM499.99 365.91h3.41v1.79h-3.41zM503.35 345.01h3.41v1.79h-3.41zM503.35 353.72h3.41v1.79h-3.41zM503.35 367.65h3.41v1.79h-3.41zM506.71 355.46h3.41v1.79h-3.41zM510.06 360.68h3.41v1.79h-3.41zM510.06 362.43h3.41v1.79h-3.41zM513.42 351.97h3.41v1.79h-3.41zM530.2 360.68h3.41v1.79h-3.41zM530.2 388.55h3.41v1.79h-3.41zM536.92 360.68h3.41v1.79h-3.41zM557.06 355.46h3.41v1.79h-3.41zM567.13 360.68h3.41v1.79h-3.41zM580.55 360.68h3.41v1.79h-3.41zM590.62 358.94h3.41v1.79h-3.41zM593.98 357.2h3.41v1.79h-3.41zM600.69 304.94h3.41v1.79h-3.41zM607.41 376.36h3.41v1.79h-3.41zM614.12 358.94h3.41v1.79h-3.41z"/>
<path fill="#202020" d="M453 351.97h3.41v1.79h-3.41zM456.36 336.3h3.41v1.79h-3.41zM456.36 345.01h3.41v1.79h-3.41zM456.36 369.39h3.41v1.79h-3.41zM463.07 348.49h3.41v1.79h-3.41zM463.07 350.23h3.41v1.79h-3.41zM463.07 351.97h3.41v1.79h-3.41zM463.07 365.91h3.41v1.79h-3.41zM466.43 346.75h3.41v1.79h-3.41zM466.43 348.49h3.41v1.79h-3.41zM466.43 351.97h3.41v1.79h-3.41zM473.14 353.72h3.41v1.79h-3.41zM473.14 365.91h3.41v1.79h-3.41zM476.5 336.3h3.41v1.79h-3.41zM476.5 351.97h3.41v1.79h-3.41zM476.5 371.14h3.41v1.79h-3.41zM479.85 351.97h3.41v1.79h-3.41zM496.64 367.65h3.41v1.79h-3.41zM499.99 351.97h3.41v1.79h-3.41zM513.42 362.43h3.41v1.79h-3.41zM526.85 355.46h3.41v1.79h-3.41zM526.85 357.2h3.41v1.79h-3.41zM526.85 360.68h3.41v1.79h-3.41zM543.63 355.46h3.41v1.79h-3.41zM546.99 360.68h3.41v1.79h-3.41zM607.41 358.94h3.41v1.79h-3.41zM610.76 358.94h3.41v1.79h-3.41z"/>
<path fill="#282828" d="M459.71 364.17h3.41v1.79h-3.41zM463.07 346.75h3.41v1.79h-3.41zM463.07 353.72h3.41v1.79h-3.41zM463.07 378.1h3.41v1.79h-3.41zM466.43 338.04h3.41v1.79h-3.41zM469.78 348.49h3.41v1.79h-3.41zM469.78 365.91h3.41v1.79h-3.41zM469.78 369.39h3.41v1.79h-3.41zM476.5 367.65h3.41v1.79h-3.41zM479.85 362.43h3.41v1.79h-3.41zM483.21 353.72h3.41v1.79h-3.41zM483.21 371.14h3.41v1.79h-3.41zM493.28 369.39h3.41v1.79h-3.41zM503.35 360.68h3.41v1.79h-3.41zM510.06 355.46h3.41v1.79h-3.41zM513.42 355.46h3.41v1.79h-3.41zM533.56 355.46h3.41v1.79h-3.41zM557.06 357.2h3.41v1.79h-3.41zM563.77 360.68h3.41v1.79h-3.41zM580.55 355.46h3.41v1.79h-3.41zM580.55 358.94h3.41v1.79h-3.41zM604.05 357.2h3.41v1.79h-3.41z"/>
<path fill="#303030" d="M453 350.23h3.41v1.79h-3.41zM453 365.91h3.41v1.79h-3.41zM456.36 371.14h3.41v1.79h-3.41zM459.71 348.49h3.41v1.79h-3.41zM466.43 345.01h3.41v1.79h-3.41zM469.78 351.97h3.41v1.79h-3.41zM469.78 364.17h3.41v1.79h-3.41zM476.5 372.88h3.41v1.79h-3.41zM483.21 362.43h3.41v1.79h-3.41zM486.57 353.72h3.41v1.79h-3.41zM496.64 360.68h3.41v1.79h-3.41zM496.64 362.43h3.41v1.79h-3.41zM499.99 346.75h3.41v1.79h-3.41zM516.78 362.43h3.41v1.79h-3.41zM520.13 360.68h3.41v1.79h-3.41zM523.49 360.68h3.41v1.79h-3.41zM553.7 360.68h3.41v1.79h-3.41zM593.98 358.94h3.41v1.79h-3.41zM597.34 358.94h3.41v1.79h-3.41zM624.19 358.94h3.41v1.79h-3.41z"/>
<path fill="#383838" d="M459.71 338.04h3.41v1.79h-3.41zM463.07 355.46h3.41v1.79h-3.41zM466.43 364.17h3.41v1.79h-3.41zM466.43 372.88h3.41v1.79h-3.41zM469.78 367.65h3.41v1.79h-3.41zM476.5 362.43h3.41v1.79h-3.41zM479.85 353.72h3.41v1.79h-3.41zM506.71 358.94h3.41v1.79h-3.41zM506.71 360.68h3.41v1.79h-3.41zM530.2 355.46h3.41v1.79h-3.41zM543.63 360.68h3.41v1.79h-3.41z"/>
<path fill="#404040" d="M456.36 338.04h3.41v1.79h-3.41zM456.36 353.72h3.41v1.79h-3.41zM456.36 365.91h3.41v1.79h-3.41zM463.07 367.65h3.41v1.79h-3.41zM469.78 362.43h3.41v1.79h-3.41zM476.5 350.23h3.41v1.79h-3.41zM476.5 353.72h3.41v1.79h-3.41zM476.5 364.17h3.41v1.79h-3.41zM486.57 362.43h3.41v1.79h-3.41zM493.28 360.68h3.41v1.79h-3.41zM499.99 360.68h3.41v1.79h-3.41zM503.35 355.46h3.41v1.79h-3.41zM560.41 357.2h3.41v1.79h-3.41zM573.84 357.2h3.41v1.79h-3.41zM580.55 357.2h3.41v1.79h-3.41zM583.91 358.94h3.41v1.79h-3.41z"/>
<path fill="#484848" d="M453 343.26h3.41v1.79h-3.41zM459.71 369.39h3.41v1.79h-3.41zM463.07 364.17h3.41v1.79h-3.41zM466.43 339.78h3.41v1.79h-3.41zM469.78 353.72h3.41v1.79h-3.41zM540.27 358.94h3.41v1.79h-3.41zM583.91 357.2h3.41v1.79h-3.41z"/>
<path fill="#505050" d="M453 371.14h3.41v1.79h-3.41zM459.71 350.23h3.41v1.79h-3.41zM469.78 350.23h3.41v1.79h-3.41zM516.78 360.68h3.41v1.79h-3.41zM587.27 357.2h3.41v1.79h-3.41z"/>
<path fill="#585858" d="M459.71 351.97h3.41v1.79h-3.41zM489.92 357.2h3.41v1.79h-3.41zM570.48 357.2h3.41v1.79h-3.41z"/>
<path fill="#606060" d="M473.14 360.68h3.41v1.79h-3.41zM506.71 357.2h3.41v1.79h-3.41z"/>
<path fill="#686868" d="M463.07 362.43h3.41v1.79h-3.41zM476.5 355.46h3.41v1.79h-3.41zM489.92 355.46h3.41v1.79h-3.41zM587.27 358.94h3.41v1.79h-3.41z"/>
<path fill="#707070" d="M466.43 353.72h3.41v1.79h-3.41zM489.92 360.68h3.41v1.79h-3.41zM513.42 360.68h3.41v1.79h-3.41zM533.56 360.68h3.41v1.79h-3.41zM536.92 357.2h3.41v1.79h-3.41z"/>
<path fill="#787878" d="M473.14 358.94h3.41v1.79h-3.41zM486.57 355.46h3.41v1.79h-3.41zM493.28 355.46h3.41v1.79h-3.41zM577.2 358.94h3.41v1.79h-3.41z"/>
<path fill="#808080" d="M479.85 360.68h3.41v1.79h-3.41zM483.21 355.46h3.41v1.79h-3.41zM563.77 358.94h3.41v1.79h-3.41zM573.84 358.94h3.41v1.79h-3.41z"/>
<path fill="#888888" d="M479.85 355.46h3.41v1.79h-3.41z"/>
<path fill="#909090" d="M499.99 355.46h3.41v1.79h-3.41zM499.99 357.2h3.41v1.79h-3.41zM540.27 357.2h3.41v1.79h-3.41zM563.77 357.2h3.41v1.79h-3.41zM577.2 357.2h3.41v1.79h-3.41z"/>
<path fill="#989898" d="M453 362.43h3.41v1.79h-3.41zM567.13 358.94h3.41v1.79h-3.41z"/>
<path fill="#a0a0a0" d="M553.7 357.2h3.41v1.79h-3.41z"/>
<path fill="#a8a8a8" d="M469.78 355.46h3.41v1.79h-3.41z"/>
<path fill="#b0b0b0" d="M567.13 357.2h3.41v1.79h-3.41z"/>
<path fill="#b8b8b8" d="M453 353.72h3.41v1.79h-3.41zM459.71 353.72h3.41v1.79h-3.41zM489.92 358.94h3.41v1.79h-3.41zM550.34 357.2h3.41v1.79h-3.41z"/>
<path fill="#c0c0c0" d="M473.14 355.46h3.41v1.79h-3.41zM496.64 358.94h3.41v1.79h-3.41z"/>
<path fill="#c8c8c8" d="M523.49 357.2h3.41v1.79h-3.41z"/>
<path fill="#d0d0d0" d="M557.06 358.94h3.41v1.79h-3.41z"/>
<path fill="#d8d8d8" d="M546.99 358.94h3.41v1.79h-3.41z"/>
<path fill="#e0e0e0" d="M496.64 357.2h3.41v1.79h-3.41z"/>
<path fill="#e8e8e8" d="M456.36 362.43h3.41v1.79h-3.41zM503.35 358.94h3.41v1.79h-3.41zM530.2 357.2h3.41v1.79h-3.41z"/>
<path fill="#f0f0f0" d="M466.43 360.68h3.41v1.79h-3.41zM513.42 358.94h3.41v1.79h-3.41zM546.99 357.2h3.41v1.79h-3.41z"/>
<path fill="#f8f8f8" d="M456.36 355.46h3.41v1.79h-3.41z"/>
<path fill="#ffffff" d="M453 355.46h3.41v1.79h-3.41zM453 357.2h3.41v1.79h-3.41zM453 358.94h3.41v1.79h-3.41zM453 360.68h3.41v1.79h-3.41zM456.36 357.2h3.41v1.79h-3.41zM456.36 358.94h3.41v1.79h-3.41zM456.36 360.68h3.41v1.79h-3.41zM459.71 355.46h3.41v1.79h-3.41zM459.71 357.2h3.41v1.79h-3.41zM459.71 358.94h3.41v1.79h-3.41zM459.71 360.68h3.41v1.79h-3.41zM459.71 362.43h3.41v1.79h-3.41zM463.07 357.2h3.41v1.79h-3.41zM463.07 358.94h3.41v1.79h-3.41zM463.07 360.68h3.41v1.79h-3.41zM466.43 355.46h3.41v1.79h-3.41zM466.43 357.2h3.41v1.79h-3.41zM466.43 358.94h3.41v1.79h-3.41zM469.78 357.2h3.41v1.79h-3.41zM469.78 358.94h3.41v1.79h-3.41zM469.78 360.68h3.41v1.79h-3.41zM473.14 357.2h3.41v1.79h-3.41zM476.5 357.2h3.41v1.79h-3.41zM476.5 358.94h3.41v1.79h-3.41zM476.5 360.68h3.41v1.79h-3.41zM479.85 357.2h3.41v1.79h-3.41zM479.85 358.94h3.41v1.79h-3.41zM483.21 357.2h3.41v1.79h-3.41zM483.21 358.94h3.41v1.79h-3.41zM483.21 360.68h3.41v1.79h-3.41zM486.57 357.2h3.41v1.79h-3.41zM486.57 358.94h3.41v1.79h-3.41zM486.57 360.68h3.41v1.79h-3.41zM493.28 357.2h3.41v1.79h-3.41zM493.28 358.94h3.41v1.79h-3.41zM496.64 355.46h3.41v1.79h-3.41zM499.99 358.94h3.41v1.79h-3.41zM503.35 357.2h3.41v1.79h-3.41zM510.06 357.2h3.41v1.79h-3.41zM510.06 358.94h3.41v1.79h-3.41zM513.42 357.2h3.41v1.79h-3.41zM516.78 357.2h3.41v1.79h-3.41zM516.78 358.94h3.41v1.79h-3.41zM520.13 357.2h3.41v1.79h-3.41zM520.13 358.94h3.41v1.79h-3.41zM523.49 358.94h3.41v1.79h-3.41zM526.85 358.94h3.41v1.79h-3.41zM530.2 358.94h3.41v1.79h-3.41zM533.56 357.2h3.41v1.79h-3.41zM533.56 358.94h3.41v1.79h-3.41zM536.92 358.94h3.41v1.79h-3.41zM543.63 357.2h3.41v1.79h-3.41zM543.63 358.94h3.41v1.79h-3.41zM550.34 358.94h3.41v1.79h-3.41zM553.7 358.94h3.41v1.79h-3.41zM560.41 358.94h3.41v1.79h-3.41zM570.48 358.94h3.41v1.79h-3.41z"/>
</g>
<line x1="453" y1="316.8" x2="654.4" y2="316.8" stroke="#dc0000" stroke-width="1.0"/>
<line x1="453" y1="397.9" x2="654.4" y2="397.9" stroke="#dc0000" stroke-width="1.0"/>
<text x="538.8" y="314.6" font-size="4.1" text-anchor="middle" fill="#fff" stroke="none">0.965</text>
<line x1="453" y1="411.2" x2="453" y2="413.2" stroke="#000" stroke-width="0.5"/>
<text x="453" y="419.8" font-size="5.8" text-anchor="middle" fill="#000">2.0</text>
<line x1="493.84" y1="411.2" x2="493.84" y2="413.2" stroke="#000" stroke-width="0.5"/>
<text x="493.84" y="419.8" font-size="5.8" text-anchor="middle" fill="#000">2.5</text>
<line x1="534.67" y1="411.2" x2="534.67" y2="413.2" stroke="#000" stroke-width="0.5"/>
<text x="534.67" y="419.8" font-size="5.8" text-anchor="middle" fill="#000">3.0</text>
<line x1="575.51" y1="411.2" x2="575.51" y2="413.2" stroke="#000" stroke-width="0.5"/>
<text x="575.51" y="419.8" font-size="5.8" text-anchor="middle" fill="#000">3.5</text>
<line x1="616.34" y1="411.2" x2="616.34" y2="413.2" stroke="#000" stroke-width="0.5"/>
<text x="616.34" y="419.8" font-size="5.8" text-anchor="middle" fill="#000">4.0</text>
<line x1="654.4" y1="303.3" x2="656.4" y2="303.3" stroke="#000" stroke-width="0.5"/>
<text x="657.7" y="305.4" font-size="5.8" text-anchor="start" fill="#000">40</text>
<line x1="654.4" y1="316.8" x2="656.4" y2="316.8" stroke="#000" stroke-width="0.5"/>
<text x="657.7" y="318.9" font-size="5.8" text-anchor="start" fill="#000">30</text>
<line x1="654.4" y1="330.3" x2="656.4" y2="330.3" stroke="#000" stroke-width="0.5"/>
<text x="657.7" y="332.4" font-size="5.8" text-anchor="start" fill="#000">20</text>
<line x1="654.4" y1="343.8" x2="656.4" y2="343.8" stroke="#000" stroke-width="0.5"/>
<text x="657.7" y="345.9" font-size="5.8" text-anchor="start" fill="#000">10</text>
<line x1="654.4" y1="357.35" x2="656.4" y2="357.35" stroke="#000" stroke-width="0.5"/>
<text x="657.7" y="359.45" font-size="5.8" text-anchor="start" fill="#000">0</text>
<line x1="654.4" y1="370.9" x2="656.4" y2="370.9" stroke="#000" stroke-width="0.5"/>
<text x="657.7" y="373" font-size="5.8" text-anchor="start" fill="#000">−10</text>
<line x1="654.4" y1="384.4" x2="656.4" y2="384.4" stroke="#000" stroke-width="0.5"/>
<text x="657.7" y="386.5" font-size="5.8" text-anchor="start" fill="#000">−20</text>
<line x1="654.4" y1="397.9" x2="656.4" y2="397.9" stroke="#000" stroke-width="0.5"/>
<text x="657.7" y="400" font-size="5.8" text-anchor="start" fill="#000">−30</text>
<line x1="654.4" y1="411.4" x2="656.4" y2="411.4" stroke="#000" stroke-width="0.5"/>
<text x="657.7" y="413.5" font-size="5.8" text-anchor="start" fill="#000">−40</text>
<text x="553.7" y="428.2" font-size="6.8" text-anchor="middle" fill="#000">Fe XIX 108 Log(intensity (DN))</text>
<text x="553.7" y="299.8" font-size="9.15" text-anchor="middle" fill="#000">2D Histogram</text>
<text transform="translate(670.8 357) rotate(90)" font-size="6.9" text-anchor="middle" fill="#000">Fe XIX 108  |<tspan font-style="italic">w</tspan><tspan font-style="italic" font-size="4.8" dy="1.2">FIT</tspan><tspan dy="-1.2"> − </tspan><tspan font-style="italic">w</tspan><tspan font-style="italic" font-size="4.8" dy="1.2">TRUE</tspan><tspan dy="-1.2">| (km/s)</tspan></text>
<rect x="678.4" y="299" width="5.2" height="127.4" fill="url(#gray)" stroke="#222" stroke-width="0.5"/>
<line x1="683.6" y1="308.2" x2="685.6" y2="308.2" stroke="#000" stroke-width="0.5"/>
<text x="687.2" y="310.25" font-size="5.8" text-anchor="start" fill="#000">20.0</text>
<line x1="683.6" y1="323" x2="685.6" y2="323" stroke="#000" stroke-width="0.5"/>
<text x="687.2" y="325.05" font-size="5.8" text-anchor="start" fill="#000">17.5</text>
<line x1="683.6" y1="337.9" x2="685.6" y2="337.9" stroke="#000" stroke-width="0.5"/>
<text x="687.2" y="339.95" font-size="5.8" text-anchor="start" fill="#000">15.0</text>
<line x1="683.6" y1="352.8" x2="685.6" y2="352.8" stroke="#000" stroke-width="0.5"/>
<text x="687.2" y="354.85" font-size="5.8" text-anchor="start" fill="#000">12.5</text>
<line x1="683.6" y1="367.7" x2="685.6" y2="367.7" stroke="#000" stroke-width="0.5"/>
<text x="687.2" y="369.75" font-size="5.8" text-anchor="start" fill="#000">10.0</text>
<line x1="683.6" y1="382.6" x2="685.6" y2="382.6" stroke="#000" stroke-width="0.5"/>
<text x="687.2" y="384.65" font-size="5.8" text-anchor="start" fill="#000">7.5</text>
<line x1="683.6" y1="397.4" x2="685.6" y2="397.4" stroke="#000" stroke-width="0.5"/>
<text x="687.2" y="399.45" font-size="5.8" text-anchor="start" fill="#000">5.0</text>
<line x1="683.6" y1="412.3" x2="685.6" y2="412.3" stroke="#000" stroke-width="0.5"/>
<text x="687.2" y="414.35" font-size="5.8" text-anchor="start" fill="#000">2.5</text>
</g>
</svg>
</body></html>
